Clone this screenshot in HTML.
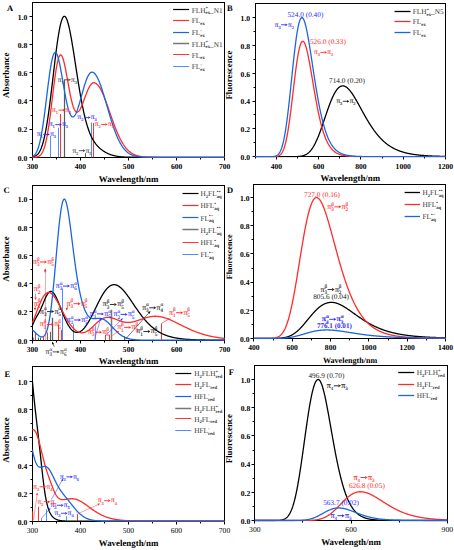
<!DOCTYPE html>
<html><head><meta charset="utf-8"><style>
html,body{margin:0;padding:0;background:#fff;}
svg{display:block;}
text{font-family:"Liberation Serif", serif;text-rendering:geometricPrecision;}
</style></head><body>
<svg width="454" height="550" viewBox="0 0 454 550">
<rect width="454" height="550" fill="#fff"/>
<clipPath id="c0"><rect x="32" y="2" width="193" height="156.5"/></clipPath>
<text x="32.4" y="168.9" font-size="7.6" fill="#000" font-weight="bold" text-anchor="middle">300</text>
<text x="80.47" y="168.9" font-size="7.6" fill="#000" font-weight="bold" text-anchor="middle">400</text>
<text x="128.55" y="168.9" font-size="7.6" fill="#000" font-weight="bold" text-anchor="middle">500</text>
<text x="176.62" y="168.9" font-size="7.6" fill="#000" font-weight="bold" text-anchor="middle">600</text>
<text x="224.7" y="168.9" font-size="7.6" fill="#000" font-weight="bold" text-anchor="middle">700</text>
<text x="27.2" y="160.68" font-size="7.6" fill="#000" font-weight="bold" text-anchor="end">0.0</text>
<text x="27.2" y="132.48" font-size="7.6" fill="#000" font-weight="bold" text-anchor="end">0.2</text>
<text x="27.2" y="104.28" font-size="7.6" fill="#000" font-weight="bold" text-anchor="end">0.4</text>
<text x="27.2" y="76.08" font-size="7.6" fill="#000" font-weight="bold" text-anchor="end">0.6</text>
<text x="27.2" y="47.88" font-size="7.6" fill="#000" font-weight="bold" text-anchor="end">0.8</text>
<text x="27.2" y="19.68" font-size="7.6" fill="#000" font-weight="bold" text-anchor="end">1.0</text>
<rect x="32.5" y="2.5" width="192" height="155" fill="none" stroke="#000" stroke-width="1"/>
<line x1="32.5" y1="157.5" x2="32.5" y2="160.5" stroke="#000" stroke-width="1"/>
<line x1="80.5" y1="157.5" x2="80.5" y2="160.5" stroke="#000" stroke-width="1"/>
<line x1="128.5" y1="157.5" x2="128.5" y2="160.5" stroke="#000" stroke-width="1"/>
<line x1="176.5" y1="157.5" x2="176.5" y2="160.5" stroke="#000" stroke-width="1"/>
<line x1="224.5" y1="157.5" x2="224.5" y2="160.5" stroke="#000" stroke-width="1"/>
<line x1="56.5" y1="157.5" x2="56.5" y2="159.5" stroke="#000" stroke-width="1"/>
<line x1="104.5" y1="157.5" x2="104.5" y2="159.5" stroke="#000" stroke-width="1"/>
<line x1="152.5" y1="157.5" x2="152.5" y2="159.5" stroke="#000" stroke-width="1"/>
<line x1="200.5" y1="157.5" x2="200.5" y2="159.5" stroke="#000" stroke-width="1"/>
<line x1="29.5" y1="157.5" x2="32.5" y2="157.5" stroke="#000" stroke-width="1"/>
<line x1="29.5" y1="129.5" x2="32.5" y2="129.5" stroke="#000" stroke-width="1"/>
<line x1="29.5" y1="100.5" x2="32.5" y2="100.5" stroke="#000" stroke-width="1"/>
<line x1="29.5" y1="72.5" x2="32.5" y2="72.5" stroke="#000" stroke-width="1"/>
<line x1="29.5" y1="44.5" x2="32.5" y2="44.5" stroke="#000" stroke-width="1"/>
<line x1="29.5" y1="16.5" x2="32.5" y2="16.5" stroke="#000" stroke-width="1"/>
<line x1="30.5" y1="143.5" x2="32.5" y2="143.5" stroke="#000" stroke-width="1"/>
<line x1="30.5" y1="115.5" x2="32.5" y2="115.5" stroke="#000" stroke-width="1"/>
<line x1="30.5" y1="86.5" x2="32.5" y2="86.5" stroke="#000" stroke-width="1"/>
<line x1="30.5" y1="58.5" x2="32.5" y2="58.5" stroke="#000" stroke-width="1"/>
<line x1="30.5" y1="30.5" x2="32.5" y2="30.5" stroke="#000" stroke-width="1"/>
<line x1="64.5" y1="157.3" x2="64.5" y2="79.75" stroke="#5a5a5a" stroke-width="1.2" clip-path="url(#c0)"/>
<line x1="85.5" y1="157.3" x2="85.5" y2="153.21" stroke="#5a5a5a" stroke-width="1" clip-path="url(#c0)"/>
<line x1="60.5" y1="157.3" x2="60.5" y2="114.01" stroke="#ff3333" stroke-width="1" clip-path="url(#c0)"/>
<line x1="93.5" y1="157.3" x2="93.5" y2="123.04" stroke="#ff3333" stroke-width="1" clip-path="url(#c0)"/>
<line x1="50.5" y1="157.3" x2="50.5" y2="136.01" stroke="#4a90ff" stroke-width="1" clip-path="url(#c0)"/>
<line x1="58.5" y1="157.3" x2="58.5" y2="127.69" stroke="#4a90ff" stroke-width="1" clip-path="url(#c0)"/>
<line x1="91.5" y1="157.3" x2="91.5" y2="122.47" stroke="#4a90ff" stroke-width="1" clip-path="url(#c0)"/>
<polyline points="32.4,156.9 32.73,156.83 33.07,156.76 33.4,156.68 33.73,156.59 34.07,156.48 34.4,156.36 34.73,156.23 35.07,156.08 35.4,155.91 35.73,155.72 36.07,155.52 36.4,155.29 36.73,155.03 37.07,154.75 37.4,154.44 37.73,154.1 38.07,153.72 38.4,153.31 38.73,152.87 39.07,152.38 39.4,151.85 39.73,151.28 40.07,150.65 40.4,149.98 40.73,149.26 41.07,148.48 41.4,147.65 41.73,146.75 42.06,145.8 42.4,144.78 42.73,143.7 43.06,142.55 43.4,141.33 43.73,140.04 44.06,138.67 44.4,137.24 44.73,135.73 45.06,134.14 45.4,132.48 45.73,130.75 46.06,128.94 46.4,127.05 46.73,125.09 47.06,123.06 47.4,120.95 47.73,118.78 48.06,116.53 48.4,114.22 48.73,111.84 49.06,109.41 49.4,106.91 49.73,104.36 50.06,101.76 50.4,99.12 50.73,96.43 51.06,93.7 51.4,90.94 51.73,88.16 52.06,85.35 52.4,82.52 52.73,79.68 53.06,76.84 53.4,74 53.73,71.16 54.06,68.34 54.4,65.54 54.73,62.76 55.06,60.01 55.4,57.3 55.73,54.63 56.06,52.02 56.4,49.46 56.73,46.96 57.06,44.52 57.4,42.16 57.73,39.88 58.06,37.68 58.4,35.57 58.73,33.55 59.06,31.63 59.4,29.81 59.73,28.09 60.06,26.48 60.4,24.98 60.73,23.6 61.06,22.33 61.39,21.18 61.73,20.14 62.06,19.23 62.39,18.45 62.73,17.78 63.06,17.24 63.39,16.82 63.73,16.52 64.06,16.35 64.39,16.3 64.73,16.37 65.06,16.55 65.39,16.86 65.73,17.28 66.06,17.81 66.39,18.45 66.73,19.2 67.06,20.05 67.39,21 67.73,22.05 68.06,23.2 68.39,24.43 68.73,25.75 69.06,27.15 69.39,28.63 69.73,30.19 70.06,31.81 70.39,33.51 70.73,35.26 71.06,37.07 71.39,38.93 71.73,40.84 72.06,42.8 72.39,44.79 72.73,46.82 73.06,48.88 73.39,50.97 73.73,53.09 74.06,55.22 74.39,57.37 74.73,59.53 75.06,61.7 75.39,63.87 75.73,66.05 76.06,68.22 76.39,70.39 76.73,72.55 77.06,74.7 77.39,76.83 77.73,78.95 78.06,81.05 78.39,83.13 78.73,85.18 79.06,87.21 79.39,89.21 79.73,91.18 80.06,93.12 80.39,95.03 80.72,96.9 81.06,98.74 81.39,100.54 81.72,102.31 82.06,104.04 82.39,105.72 82.72,107.37 83.06,108.98 83.39,110.55 83.72,112.08 84.06,113.57 84.39,115.01 84.72,116.42 85.06,117.78 85.39,119.11 85.72,120.39 86.06,121.64 86.39,122.85 86.72,124.01 87.06,125.14 87.39,126.23 87.72,127.29 88.06,128.31 88.39,129.29 88.72,130.24 89.06,131.16 89.39,132.04 89.72,132.89 90.06,133.71 90.39,134.5 90.72,135.27 91.06,136 91.39,136.71 91.72,137.39 92.06,138.04 92.39,138.67 92.72,139.28 93.06,139.87 93.39,140.43 93.72,140.98 94.06,141.5 94.39,142.01 94.72,142.5 95.06,142.97 95.39,143.42 95.72,143.86 96.06,144.29 96.39,144.7 96.72,145.09 97.06,145.48 97.39,145.85 97.72,146.21 98.06,146.56 98.39,146.9 98.72,147.23 99.06,147.55 99.39,147.86 99.72,148.16 100.05,148.45 100.39,148.73 100.72,149.01 101.05,149.28 101.39,149.54 101.72,149.8 102.05,150.05 102.39,150.29 102.72,150.53 103.05,150.76 103.39,150.98 103.72,151.2 104.05,151.42 104.39,151.62 104.72,151.83 105.05,152.02 105.39,152.22 105.72,152.4 106.05,152.59 106.39,152.76 106.72,152.94 107.05,153.1 107.39,153.27 107.72,153.43 108.05,153.58 108.39,153.73 108.72,153.88 109.05,154.02 109.39,154.15 109.72,154.29 110.05,154.42 110.39,154.54 110.72,154.66 111.05,154.78 111.39,154.89 111.72,155 112.05,155.1 112.39,155.2 112.72,155.3 113.05,155.4 113.39,155.49 113.72,155.57 114.05,155.66 114.39,155.74 114.72,155.82 115.05,155.89 115.39,155.96 115.72,156.03 116.05,156.1 116.39,156.16 116.72,156.22 117.05,156.28 117.39,156.33 117.72,156.38 118.05,156.43 118.39,156.48 118.72,156.53 119.05,156.57 119.38,156.61 119.72,156.65 120.05,156.69 120.38,156.72 120.72,156.76 121.05,156.79 121.38,156.82 121.72,156.85 122.05,156.87 122.38,156.9 122.72,156.92 123.05,156.95 123.38,156.97 123.72,156.99 124.05,157.01 124.38,157.03 124.72,157.04 125.05,157.06 125.38,157.08 125.72,157.09 126.05,157.1 126.38,157.12 126.72,157.13 127.05,157.14 127.38,157.15 127.72,157.16 128.05,157.17 128.38,157.18 128.72,157.19 129.05,157.19 129.38,157.2 129.72,157.21 130.05,157.21 130.38,157.22 130.72,157.23 131.05,157.23 131.38,157.24 131.72,157.24 132.05,157.24 132.38,157.25 132.72,157.25 133.05,157.26 133.38,157.26 133.72,157.26 134.05,157.26 134.38,157.27 134.72,157.27 135.05,157.27 135.38,157.27 135.72,157.28 136.05,157.28 136.38,157.28 136.72,157.28 137.05,157.28 137.38,157.28 137.72,157.28 138.05,157.29 138.38,157.29 138.71,157.29 139.05,157.29 139.38,157.29 139.71,157.29 140.05,157.29 140.38,157.29 140.71,157.29 141.05,157.29 141.38,157.29 141.71,157.29 142.05,157.29 142.38,157.29 142.71,157.3 143.05,157.3 143.38,157.3 143.71,157.3 144.05,157.3 144.38,157.3 144.71,157.3 145.05,157.3 145.38,157.3 145.71,157.3 146.05,157.3 146.38,157.3 146.71,157.3 147.05,157.3 147.38,157.3 147.71,157.3 148.05,157.3 148.38,157.3 148.71,157.3 149.05,157.3 149.38,157.3 149.71,157.3 150.05,157.3 150.38,157.3 150.71,157.3 151.05,157.3 151.38,157.3 151.71,157.3 152.05,157.3 152.38,157.3 152.71,157.3 153.05,157.3 153.38,157.3 153.71,157.3 154.05,157.3 154.38,157.3 154.71,157.3 155.05,157.3 155.38,157.3 155.71,157.3 156.05,157.3 156.38,157.3 156.71,157.3 157.05,157.3 157.38,157.3 157.71,157.3 158.04,157.3 158.38,157.3 158.71,157.3 159.04,157.3 159.38,157.3 159.71,157.3 160.04,157.3 160.38,157.3 160.71,157.3 161.04,157.3 161.38,157.3 161.71,157.3 162.04,157.3 162.38,157.3 162.71,157.3 163.04,157.3 163.38,157.3 163.71,157.3 164.04,157.3 164.38,157.3 164.71,157.3 165.04,157.3 165.38,157.3 165.71,157.3 166.04,157.3 166.38,157.3 166.71,157.3 167.04,157.3 167.38,157.3 167.71,157.3 168.04,157.3 168.38,157.3 168.71,157.3 169.04,157.3 169.38,157.3 169.71,157.3 170.04,157.3 170.38,157.3 170.71,157.3 171.04,157.3 171.38,157.3 171.71,157.3 172.04,157.3 172.38,157.3 172.71,157.3 173.04,157.3 173.38,157.3 173.71,157.3 174.04,157.3 174.38,157.3 174.71,157.3 175.04,157.3 175.38,157.3 175.71,157.3 176.04,157.3 176.38,157.3 176.71,157.3 177.04,157.3 177.37,157.3 177.71,157.3 178.04,157.3 178.37,157.3 178.71,157.3 179.04,157.3 179.37,157.3 179.71,157.3 180.04,157.3 180.37,157.3 180.71,157.3 181.04,157.3 181.37,157.3 181.71,157.3 182.04,157.3 182.37,157.3 182.71,157.3 183.04,157.3 183.37,157.3 183.71,157.3 184.04,157.3 184.37,157.3 184.71,157.3 185.04,157.3 185.37,157.3 185.71,157.3 186.04,157.3 186.37,157.3 186.71,157.3 187.04,157.3 187.37,157.3 187.71,157.3 188.04,157.3 188.37,157.3 188.71,157.3 189.04,157.3 189.37,157.3 189.71,157.3 190.04,157.3 190.37,157.3 190.71,157.3 191.04,157.3 191.37,157.3 191.71,157.3 192.04,157.3 192.37,157.3 192.71,157.3 193.04,157.3 193.37,157.3 193.71,157.3 194.04,157.3 194.37,157.3 194.71,157.3 195.04,157.3 195.37,157.3 195.71,157.3 196.04,157.3 196.37,157.3 196.7,157.3 197.04,157.3 197.37,157.3 197.7,157.3 198.04,157.3 198.37,157.3 198.7,157.3 199.04,157.3 199.37,157.3 199.7,157.3 200.04,157.3 200.37,157.3 200.7,157.3 201.04,157.3 201.37,157.3 201.7,157.3 202.04,157.3 202.37,157.3 202.7,157.3 203.04,157.3 203.37,157.3 203.7,157.3 204.04,157.3 204.37,157.3 204.7,157.3 205.04,157.3 205.37,157.3 205.7,157.3 206.04,157.3 206.37,157.3 206.7,157.3 207.04,157.3 207.37,157.3 207.7,157.3 208.04,157.3 208.37,157.3 208.7,157.3 209.04,157.3 209.37,157.3 209.7,157.3 210.04,157.3 210.37,157.3 210.7,157.3 211.04,157.3 211.37,157.3 211.7,157.3 212.04,157.3 212.37,157.3 212.7,157.3 213.04,157.3 213.37,157.3 213.7,157.3 214.04,157.3 214.37,157.3 214.7,157.3 215.04,157.3 215.37,157.3 215.7,157.3 216.03,157.3 216.37,157.3 216.7,157.3 217.03,157.3 217.37,157.3 217.7,157.3 218.03,157.3 218.37,157.3 218.7,157.3 219.03,157.3 219.37,157.3 219.7,157.3 220.03,157.3 220.37,157.3 220.7,157.3 221.03,157.3 221.37,157.3 221.7,157.3 222.03,157.3 222.37,157.3 222.7,157.3 223.03,157.3 223.37,157.3 223.7,157.3 224.03,157.3 224.37,157.3 224.7,157.3" fill="none" stroke="#000" stroke-width="1.3" stroke-linejoin="round" clip-path="url(#c0)"/>
<polyline points="32.4,157.28 32.73,157.27 33.07,157.26 33.4,157.25 33.73,157.24 34.07,157.22 34.4,157.21 34.73,157.18 35.07,157.16 35.4,157.13 35.73,157.09 36.07,157.04 36.4,156.99 36.73,156.93 37.07,156.85 37.4,156.77 37.73,156.67 38.07,156.55 38.4,156.42 38.73,156.26 39.07,156.08 39.4,155.88 39.73,155.64 40.07,155.38 40.4,155.08 40.73,154.74 41.07,154.36 41.4,153.94 41.73,153.46 42.06,152.93 42.4,152.35 42.73,151.7 43.06,150.99 43.4,150.21 43.73,149.35 44.06,148.42 44.4,147.41 44.73,146.32 45.06,145.14 45.4,143.87 45.73,142.51 46.06,141.06 46.4,139.51 46.73,137.87 47.06,136.13 47.4,134.3 47.73,132.37 48.06,130.35 48.4,128.24 48.73,126.04 49.06,123.76 49.4,121.4 49.73,118.97 50.06,116.46 50.4,113.9 50.73,111.29 51.06,108.63 51.4,105.93 51.73,103.21 52.06,100.46 52.4,97.71 52.73,94.97 53.06,92.23 53.4,89.52 53.73,86.84 54.06,84.21 54.4,81.63 54.73,79.12 55.06,76.69 55.4,74.35 55.73,72.1 56.06,69.96 56.4,67.94 56.73,66.04 57.06,64.27 57.4,62.64 57.73,61.16 58.06,59.83 58.4,58.65 58.73,57.62 59.06,56.76 59.4,56.07 59.73,55.53 60.06,55.16 60.4,54.95 60.73,54.9 61.06,55.01 61.39,55.28 61.73,55.7 62.06,56.26 62.39,56.96 62.73,57.8 63.06,58.76 63.39,59.85 63.73,61.05 64.06,62.35 64.39,63.75 64.73,65.23 65.06,66.8 65.39,68.43 65.73,70.13 66.06,71.87 66.39,73.66 66.73,75.48 67.06,77.32 67.39,79.18 67.73,81.04 68.06,82.91 68.39,84.76 68.73,86.59 69.06,88.4 69.39,90.18 69.73,91.92 70.06,93.61 70.39,95.25 70.73,96.83 71.06,98.35 71.39,99.8 71.73,101.19 72.06,102.5 72.39,103.73 72.73,104.88 73.06,105.95 73.39,106.94 73.73,107.84 74.06,108.65 74.39,109.38 74.73,110.02 75.06,110.57 75.39,111.04 75.73,111.41 76.06,111.71 76.39,111.92 76.73,112.04 77.06,112.09 77.39,112.06 77.73,111.95 78.06,111.78 78.39,111.53 78.73,111.21 79.06,110.83 79.39,110.39 79.73,109.89 80.06,109.34 80.39,108.74 80.72,108.09 81.06,107.4 81.39,106.67 81.72,105.91 82.06,105.11 82.39,104.29 82.72,103.44 83.06,102.57 83.39,101.69 83.72,100.8 84.06,99.89 84.39,98.98 84.72,98.07 85.06,97.16 85.39,96.26 85.72,95.36 86.06,94.48 86.39,93.61 86.72,92.75 87.06,91.92 87.39,91.11 87.72,90.33 88.06,89.57 88.39,88.85 88.72,88.16 89.06,87.5 89.39,86.88 89.72,86.29 90.06,85.75 90.39,85.25 90.72,84.78 91.06,84.37 91.39,83.99 91.72,83.67 92.06,83.39 92.39,83.15 92.72,82.96 93.06,82.82 93.39,82.73 93.72,82.68 94.06,82.69 94.39,82.73 94.72,82.8 95.06,82.91 95.39,83.05 95.72,83.21 96.06,83.41 96.39,83.65 96.72,83.91 97.06,84.2 97.39,84.53 97.72,84.88 98.06,85.27 98.39,85.68 98.72,86.12 99.06,86.6 99.39,87.1 99.72,87.63 100.05,88.18 100.39,88.76 100.72,89.37 101.05,90 101.39,90.66 101.72,91.34 102.05,92.04 102.39,92.76 102.72,93.51 103.05,94.27 103.39,95.06 103.72,95.86 104.05,96.68 104.39,97.51 104.72,98.36 105.05,99.23 105.39,100.1 105.72,100.99 106.05,101.89 106.39,102.81 106.72,103.73 107.05,104.65 107.39,105.59 107.72,106.53 108.05,107.48 108.39,108.44 108.72,109.39 109.05,110.35 109.39,111.31 109.72,112.27 110.05,113.23 110.39,114.19 110.72,115.15 111.05,116.11 111.39,117.06 111.72,118.01 112.05,118.95 112.39,119.89 112.72,120.82 113.05,121.75 113.39,122.67 113.72,123.57 114.05,124.47 114.39,125.36 114.72,126.24 115.05,127.11 115.39,127.97 115.72,128.82 116.05,129.66 116.39,130.48 116.72,131.29 117.05,132.09 117.39,132.87 117.72,133.64 118.05,134.4 118.39,135.14 118.72,135.87 119.05,136.58 119.38,137.28 119.72,137.96 120.05,138.63 120.38,139.29 120.72,139.93 121.05,140.55 121.38,141.16 121.72,141.75 122.05,142.33 122.38,142.9 122.72,143.45 123.05,143.98 123.38,144.5 123.72,145.01 124.05,145.5 124.38,145.97 124.72,146.43 125.05,146.88 125.38,147.31 125.72,147.73 126.05,148.14 126.38,148.53 126.72,148.91 127.05,149.28 127.38,149.64 127.72,149.98 128.05,150.31 128.38,150.63 128.72,150.93 129.05,151.23 129.38,151.51 129.72,151.79 130.05,152.05 130.38,152.3 130.72,152.55 131.05,152.78 131.38,153 131.72,153.22 132.05,153.42 132.38,153.62 132.72,153.81 133.05,153.99 133.38,154.16 133.72,154.32 134.05,154.48 134.38,154.63 134.72,154.78 135.05,154.91 135.38,155.04 135.72,155.17 136.05,155.28 136.38,155.4 136.72,155.5 137.05,155.61 137.38,155.7 137.72,155.8 138.05,155.88 138.38,155.97 138.71,156.04 139.05,156.12 139.38,156.19 139.71,156.26 140.05,156.32 140.38,156.38 140.71,156.44 141.05,156.49 141.38,156.54 141.71,156.59 142.05,156.63 142.38,156.68 142.71,156.72 143.05,156.75 143.38,156.79 143.71,156.82 144.05,156.85 144.38,156.88 144.71,156.91 145.05,156.94 145.38,156.96 145.71,156.98 146.05,157.01 146.38,157.03 146.71,157.04 147.05,157.06 147.38,157.08 147.71,157.09 148.05,157.11 148.38,157.12 148.71,157.14 149.05,157.15 149.38,157.16 149.71,157.17 150.05,157.18 150.38,157.19 150.71,157.2 151.05,157.2 151.38,157.21 151.71,157.22 152.05,157.22 152.38,157.23 152.71,157.23 153.05,157.24 153.38,157.24 153.71,157.25 154.05,157.25 154.38,157.26 154.71,157.26 155.05,157.26 155.38,157.27 155.71,157.27 156.05,157.27 156.38,157.27 156.71,157.28 157.05,157.28 157.38,157.28 157.71,157.28 158.04,157.28 158.38,157.28 158.71,157.29 159.04,157.29 159.38,157.29 159.71,157.29 160.04,157.29 160.38,157.29 160.71,157.29 161.04,157.29 161.38,157.29 161.71,157.29 162.04,157.29 162.38,157.29 162.71,157.3 163.04,157.3 163.38,157.3 163.71,157.3 164.04,157.3 164.38,157.3 164.71,157.3 165.04,157.3 165.38,157.3 165.71,157.3 166.04,157.3 166.38,157.3 166.71,157.3 167.04,157.3 167.38,157.3 167.71,157.3 168.04,157.3 168.38,157.3 168.71,157.3 169.04,157.3 169.38,157.3 169.71,157.3 170.04,157.3 170.38,157.3 170.71,157.3 171.04,157.3 171.38,157.3 171.71,157.3 172.04,157.3 172.38,157.3 172.71,157.3 173.04,157.3 173.38,157.3 173.71,157.3 174.04,157.3 174.38,157.3 174.71,157.3 175.04,157.3 175.38,157.3 175.71,157.3 176.04,157.3 176.38,157.3 176.71,157.3 177.04,157.3 177.37,157.3 177.71,157.3 178.04,157.3 178.37,157.3 178.71,157.3 179.04,157.3 179.37,157.3 179.71,157.3 180.04,157.3 180.37,157.3 180.71,157.3 181.04,157.3 181.37,157.3 181.71,157.3 182.04,157.3 182.37,157.3 182.71,157.3 183.04,157.3 183.37,157.3 183.71,157.3 184.04,157.3 184.37,157.3 184.71,157.3 185.04,157.3 185.37,157.3 185.71,157.3 186.04,157.3 186.37,157.3 186.71,157.3 187.04,157.3 187.37,157.3 187.71,157.3 188.04,157.3 188.37,157.3 188.71,157.3 189.04,157.3 189.37,157.3 189.71,157.3 190.04,157.3 190.37,157.3 190.71,157.3 191.04,157.3 191.37,157.3 191.71,157.3 192.04,157.3 192.37,157.3 192.71,157.3 193.04,157.3 193.37,157.3 193.71,157.3 194.04,157.3 194.37,157.3 194.71,157.3 195.04,157.3 195.37,157.3 195.71,157.3 196.04,157.3 196.37,157.3 196.7,157.3 197.04,157.3 197.37,157.3 197.7,157.3 198.04,157.3 198.37,157.3 198.7,157.3 199.04,157.3 199.37,157.3 199.7,157.3 200.04,157.3 200.37,157.3 200.7,157.3 201.04,157.3 201.37,157.3 201.7,157.3 202.04,157.3 202.37,157.3 202.7,157.3 203.04,157.3 203.37,157.3 203.7,157.3 204.04,157.3 204.37,157.3 204.7,157.3 205.04,157.3 205.37,157.3 205.7,157.3 206.04,157.3 206.37,157.3 206.7,157.3 207.04,157.3 207.37,157.3 207.7,157.3 208.04,157.3 208.37,157.3 208.7,157.3 209.04,157.3 209.37,157.3 209.7,157.3 210.04,157.3 210.37,157.3 210.7,157.3 211.04,157.3 211.37,157.3 211.7,157.3 212.04,157.3 212.37,157.3 212.7,157.3 213.04,157.3 213.37,157.3 213.7,157.3 214.04,157.3 214.37,157.3 214.7,157.3 215.04,157.3 215.37,157.3 215.7,157.3 216.03,157.3 216.37,157.3 216.7,157.3 217.03,157.3 217.37,157.3 217.7,157.3 218.03,157.3 218.37,157.3 218.7,157.3 219.03,157.3 219.37,157.3 219.7,157.3 220.03,157.3 220.37,157.3 220.7,157.3 221.03,157.3 221.37,157.3 221.7,157.3 222.03,157.3 222.37,157.3 222.7,157.3 223.03,157.3 223.37,157.3 223.7,157.3 224.03,157.3 224.37,157.3 224.7,157.3" fill="none" stroke="#ff2a2a" stroke-width="1.3" stroke-linejoin="round" clip-path="url(#c0)"/>
<polyline points="32.4,156.34 32.73,156.18 33.07,156 33.4,155.78 33.73,155.54 34.07,155.27 34.4,154.97 34.73,154.62 35.07,154.24 35.4,153.81 35.73,153.33 36.07,152.8 36.4,152.22 36.73,151.58 37.07,150.87 37.4,150.1 37.73,149.26 38.07,148.34 38.4,147.35 38.73,146.28 39.07,145.13 39.4,143.89 39.73,142.57 40.07,141.15 40.4,139.65 40.73,138.06 41.07,136.37 41.4,134.59 41.73,132.73 42.06,130.77 42.4,128.73 42.73,126.6 43.06,124.39 43.4,122.11 43.73,119.75 44.06,117.32 44.4,114.83 44.73,112.28 45.06,109.69 45.4,107.05 45.73,104.38 46.06,101.69 46.4,98.98 46.73,96.26 47.06,93.55 47.4,90.84 47.73,88.16 48.06,85.52 48.4,82.91 48.73,80.35 49.06,77.86 49.4,75.44 49.73,73.1 50.06,70.85 50.4,68.69 50.73,66.65 51.06,64.72 51.4,62.91 51.73,61.23 52.06,59.68 52.4,58.28 52.73,57.02 53.06,55.9 53.4,54.94 53.73,54.13 54.06,53.48 54.4,52.98 54.73,52.64 55.06,52.46 55.4,52.43 55.73,52.55 56.06,52.82 56.4,53.23 56.73,53.79 57.06,54.49 57.4,55.31 57.73,56.26 58.06,57.34 58.4,58.52 58.73,59.81 59.06,61.2 59.4,62.68 59.73,64.25 60.06,65.89 60.4,67.6 60.73,69.37 61.06,71.19 61.39,73.05 61.73,74.94 62.06,76.87 62.39,78.81 62.73,80.76 63.06,82.72 63.39,84.67 63.73,86.62 64.06,88.54 64.39,90.44 64.73,92.3 65.06,94.13 65.39,95.92 65.73,97.66 66.06,99.34 66.39,100.96 66.73,102.53 67.06,104.02 67.39,105.45 67.73,106.79 68.06,108.07 68.39,109.26 68.73,110.37 69.06,111.4 69.39,112.34 69.73,113.19 70.06,113.96 70.39,114.63 70.73,115.22 71.06,115.72 71.39,116.13 71.73,116.45 72.06,116.68 72.39,116.82 72.73,116.88 73.06,116.86 73.39,116.75 73.73,116.56 74.06,116.29 74.39,115.95 74.73,115.53 75.06,115.04 75.39,114.48 75.73,113.85 76.06,113.17 76.39,112.42 76.73,111.61 77.06,110.76 77.39,109.85 77.73,108.89 78.06,107.9 78.39,106.86 78.73,105.79 79.06,104.69 79.39,103.56 79.73,102.4 80.06,101.23 80.39,100.04 80.72,98.83 81.06,97.62 81.39,96.4 81.72,95.18 82.06,93.97 82.39,92.75 82.72,91.55 83.06,90.36 83.39,89.18 83.72,88.03 84.06,86.89 84.39,85.79 84.72,84.7 85.06,83.65 85.39,82.64 85.72,81.66 86.06,80.71 86.39,79.81 86.72,78.95 87.06,78.14 87.39,77.37 87.72,76.65 88.06,75.98 88.39,75.37 88.72,74.8 89.06,74.29 89.39,73.83 89.72,73.43 90.06,73.08 90.39,72.79 90.72,72.55 91.06,72.38 91.39,72.26 91.72,72.19 92.06,72.18 92.39,72.22 92.72,72.31 93.06,72.43 93.39,72.59 93.72,72.8 94.06,73.04 94.39,73.32 94.72,73.65 95.06,74.01 95.39,74.42 95.72,74.86 96.06,75.34 96.39,75.85 96.72,76.41 97.06,77 97.39,77.62 97.72,78.28 98.06,78.97 98.39,79.69 98.72,80.45 99.06,81.24 99.39,82.05 99.72,82.9 100.05,83.77 100.39,84.66 100.72,85.59 101.05,86.53 101.39,87.5 101.72,88.49 102.05,89.5 102.39,90.52 102.72,91.57 103.05,92.63 103.39,93.7 103.72,94.79 104.05,95.89 104.39,97 104.72,98.12 105.05,99.25 105.39,100.38 105.72,101.53 106.05,102.67 106.39,103.82 106.72,104.97 107.05,106.12 107.39,107.27 107.72,108.42 108.05,109.57 108.39,110.71 108.72,111.85 109.05,112.99 109.39,114.11 109.72,115.23 110.05,116.34 110.39,117.44 110.72,118.53 111.05,119.61 111.39,120.68 111.72,121.74 112.05,122.78 112.39,123.81 112.72,124.82 113.05,125.82 113.39,126.81 113.72,127.77 114.05,128.72 114.39,129.66 114.72,130.58 115.05,131.48 115.39,132.36 115.72,133.22 116.05,134.07 116.39,134.89 116.72,135.7 117.05,136.49 117.39,137.26 117.72,138.02 118.05,138.75 118.39,139.46 118.72,140.16 119.05,140.83 119.38,141.49 119.72,142.13 120.05,142.75 120.38,143.35 120.72,143.94 121.05,144.5 121.38,145.05 121.72,145.58 122.05,146.09 122.38,146.59 122.72,147.07 123.05,147.53 123.38,147.98 123.72,148.41 124.05,148.82 124.38,149.22 124.72,149.61 125.05,149.97 125.38,150.33 125.72,150.67 126.05,151 126.38,151.31 126.72,151.62 127.05,151.91 127.38,152.18 127.72,152.45 128.05,152.7 128.38,152.95 128.72,153.18 129.05,153.4 129.38,153.61 129.72,153.81 130.05,154 130.38,154.19 130.72,154.36 131.05,154.53 131.38,154.69 131.72,154.84 132.05,154.98 132.38,155.12 132.72,155.24 133.05,155.37 133.38,155.48 133.72,155.59 134.05,155.7 134.38,155.79 134.72,155.89 135.05,155.98 135.38,156.06 135.72,156.14 136.05,156.21 136.38,156.28 136.72,156.35 137.05,156.41 137.38,156.47 137.72,156.52 138.05,156.57 138.38,156.62 138.71,156.67 139.05,156.71 139.38,156.75 139.71,156.79 140.05,156.82 140.38,156.86 140.71,156.89 141.05,156.92 141.38,156.94 141.71,156.97 142.05,156.99 142.38,157.02 142.71,157.04 143.05,157.06 143.38,157.07 143.71,157.09 144.05,157.11 144.38,157.12 144.71,157.13 145.05,157.15 145.38,157.16 145.71,157.17 146.05,157.18 146.38,157.19 146.71,157.2 147.05,157.21 147.38,157.21 147.71,157.22 148.05,157.23 148.38,157.23 148.71,157.24 149.05,157.24 149.38,157.25 149.71,157.25 150.05,157.26 150.38,157.26 150.71,157.26 151.05,157.27 151.38,157.27 151.71,157.27 152.05,157.27 152.38,157.28 152.71,157.28 153.05,157.28 153.38,157.28 153.71,157.28 154.05,157.29 154.38,157.29 154.71,157.29 155.05,157.29 155.38,157.29 155.71,157.29 156.05,157.29 156.38,157.29 156.71,157.29 157.05,157.29 157.38,157.29 157.71,157.29 158.04,157.3 158.38,157.3 158.71,157.3 159.04,157.3 159.38,157.3 159.71,157.3 160.04,157.3 160.38,157.3 160.71,157.3 161.04,157.3 161.38,157.3 161.71,157.3 162.04,157.3 162.38,157.3 162.71,157.3 163.04,157.3 163.38,157.3 163.71,157.3 164.04,157.3 164.38,157.3 164.71,157.3 165.04,157.3 165.38,157.3 165.71,157.3 166.04,157.3 166.38,157.3 166.71,157.3 167.04,157.3 167.38,157.3 167.71,157.3 168.04,157.3 168.38,157.3 168.71,157.3 169.04,157.3 169.38,157.3 169.71,157.3 170.04,157.3 170.38,157.3 170.71,157.3 171.04,157.3 171.38,157.3 171.71,157.3 172.04,157.3 172.38,157.3 172.71,157.3 173.04,157.3 173.38,157.3 173.71,157.3 174.04,157.3 174.38,157.3 174.71,157.3 175.04,157.3 175.38,157.3 175.71,157.3 176.04,157.3 176.38,157.3 176.71,157.3 177.04,157.3 177.37,157.3 177.71,157.3 178.04,157.3 178.37,157.3 178.71,157.3 179.04,157.3 179.37,157.3 179.71,157.3 180.04,157.3 180.37,157.3 180.71,157.3 181.04,157.3 181.37,157.3 181.71,157.3 182.04,157.3 182.37,157.3 182.71,157.3 183.04,157.3 183.37,157.3 183.71,157.3 184.04,157.3 184.37,157.3 184.71,157.3 185.04,157.3 185.37,157.3 185.71,157.3 186.04,157.3 186.37,157.3 186.71,157.3 187.04,157.3 187.37,157.3 187.71,157.3 188.04,157.3 188.37,157.3 188.71,157.3 189.04,157.3 189.37,157.3 189.71,157.3 190.04,157.3 190.37,157.3 190.71,157.3 191.04,157.3 191.37,157.3 191.71,157.3 192.04,157.3 192.37,157.3 192.71,157.3 193.04,157.3 193.37,157.3 193.71,157.3 194.04,157.3 194.37,157.3 194.71,157.3 195.04,157.3 195.37,157.3 195.71,157.3 196.04,157.3 196.37,157.3 196.7,157.3 197.04,157.3 197.37,157.3 197.7,157.3 198.04,157.3 198.37,157.3 198.7,157.3 199.04,157.3 199.37,157.3 199.7,157.3 200.04,157.3 200.37,157.3 200.7,157.3 201.04,157.3 201.37,157.3 201.7,157.3 202.04,157.3 202.37,157.3 202.7,157.3 203.04,157.3 203.37,157.3 203.7,157.3 204.04,157.3 204.37,157.3 204.7,157.3 205.04,157.3 205.37,157.3 205.7,157.3 206.04,157.3 206.37,157.3 206.7,157.3 207.04,157.3 207.37,157.3 207.7,157.3 208.04,157.3 208.37,157.3 208.7,157.3 209.04,157.3 209.37,157.3 209.7,157.3 210.04,157.3 210.37,157.3 210.7,157.3 211.04,157.3 211.37,157.3 211.7,157.3 212.04,157.3 212.37,157.3 212.7,157.3 213.04,157.3 213.37,157.3 213.7,157.3 214.04,157.3 214.37,157.3 214.7,157.3 215.04,157.3 215.37,157.3 215.7,157.3 216.03,157.3 216.37,157.3 216.7,157.3 217.03,157.3 217.37,157.3 217.7,157.3 218.03,157.3 218.37,157.3 218.7,157.3 219.03,157.3 219.37,157.3 219.7,157.3 220.03,157.3 220.37,157.3 220.7,157.3 221.03,157.3 221.37,157.3 221.7,157.3 222.03,157.3 222.37,157.3 222.7,157.3 223.03,157.3 223.37,157.3 223.7,157.3 224.03,157.3 224.37,157.3 224.7,157.3" fill="none" stroke="#1a66e0" stroke-width="1.3" stroke-linejoin="round" clip-path="url(#c0)"/>
<text x="57.8" y="81.6" font-size="7.3" fill="#444" stroke="#444" stroke-width="0.1">π</text>
<text x="61.49" y="83.64" font-size="4.53" fill="#444" stroke="#444" stroke-width="0.1">1</text>
<line x1="64.19" y1="79.77" x2="68.42" y2="79.77" stroke="#444" stroke-width="0.88"/>
<polygon points="70.76,79.77 68.42,81.16 68.42,78.39" fill="#444"/>
<text x="71.05" y="81.6" font-size="7.3" fill="#444" stroke="#444" stroke-width="0.1">π</text>
<text x="74.74" y="83.64" font-size="4.53" fill="#444" stroke="#444" stroke-width="0.1">3</text>
<text x="52.1" y="112" font-size="7.3" fill="#ff2b2b" stroke="#ff2b2b" stroke-width="0.1">π</text>
<text x="55.79" y="114.04" font-size="4.53" fill="#ff2b2b" stroke="#ff2b2b" stroke-width="0.1">1</text>
<line x1="58.49" y1="110.17" x2="62.72" y2="110.17" stroke="#ff2b2b" stroke-width="0.88"/>
<polygon points="65.06,110.17 62.72,111.56 62.72,108.79" fill="#ff2b2b"/>
<text x="65.35" y="112" font-size="7.3" fill="#ff2b2b" stroke="#ff2b2b" stroke-width="0.1">π</text>
<text x="69.04" y="114.04" font-size="4.53" fill="#ff2b2b" stroke="#ff2b2b" stroke-width="0.1">3</text>
<text x="48.9" y="126.4" font-size="7.3" fill="#2b2bff" stroke="#2b2bff" stroke-width="0.1">π</text>
<text x="52.59" y="128.44" font-size="4.53" fill="#2b2bff" stroke="#2b2bff" stroke-width="0.1">1</text>
<line x1="55.29" y1="124.58" x2="59.52" y2="124.58" stroke="#2b2bff" stroke-width="0.88"/>
<polygon points="61.86,124.58 59.52,125.96 59.52,123.19" fill="#2b2bff"/>
<text x="62.15" y="126.4" font-size="7.3" fill="#2b2bff" stroke="#2b2bff" stroke-width="0.1">π</text>
<text x="65.84" y="128.44" font-size="4.53" fill="#2b2bff" stroke="#2b2bff" stroke-width="0.1">3</text>
<text x="36.9" y="136.3" font-size="7.3" fill="#2b2bff" stroke="#2b2bff" stroke-width="0.1">π</text>
<text x="40.59" y="138.34" font-size="4.53" fill="#2b2bff" stroke="#2b2bff" stroke-width="0.1">1</text>
<line x1="43.29" y1="134.48" x2="47.52" y2="134.48" stroke="#2b2bff" stroke-width="0.88"/>
<polygon points="49.86,134.48 47.52,135.86 47.52,133.09" fill="#2b2bff"/>
<text x="50.15" y="136.3" font-size="7.3" fill="#2b2bff" stroke="#2b2bff" stroke-width="0.1">π</text>
<text x="53.84" y="138.34" font-size="4.53" fill="#2b2bff" stroke="#2b2bff" stroke-width="0.1">3</text>
<text x="77.6" y="119.4" font-size="7.3" fill="#2b2bff" stroke="#2b2bff" stroke-width="0.1">π</text>
<text x="81.29" y="121.44" font-size="4.53" fill="#2b2bff" stroke="#2b2bff" stroke-width="0.1">2</text>
<line x1="83.99" y1="117.58" x2="88.22" y2="117.58" stroke="#2b2bff" stroke-width="0.88"/>
<polygon points="90.56,117.58 88.22,118.96 88.22,116.19" fill="#2b2bff"/>
<text x="90.85" y="119.4" font-size="7.3" fill="#2b2bff" stroke="#2b2bff" stroke-width="0.1">π</text>
<text x="94.54" y="121.44" font-size="4.53" fill="#2b2bff" stroke="#2b2bff" stroke-width="0.1">3</text>
<text x="94.7" y="126.3" font-size="7.3" fill="#ff2b2b" stroke="#ff2b2b" stroke-width="0.1">π</text>
<text x="98.39" y="128.34" font-size="4.53" fill="#ff2b2b" stroke="#ff2b2b" stroke-width="0.1">2</text>
<line x1="101.09" y1="124.47" x2="105.32" y2="124.47" stroke="#ff2b2b" stroke-width="0.88"/>
<polygon points="107.66,124.47 105.32,125.86 105.32,123.09" fill="#ff2b2b"/>
<text x="107.95" y="126.3" font-size="7.3" fill="#ff2b2b" stroke="#ff2b2b" stroke-width="0.1">π</text>
<text x="111.64" y="128.34" font-size="4.53" fill="#ff2b2b" stroke="#ff2b2b" stroke-width="0.1">3</text>
<text x="72.4" y="152.5" font-size="7.3" fill="#444" stroke="#444" stroke-width="0.1">π</text>
<text x="76.09" y="154.54" font-size="4.53" fill="#444" stroke="#444" stroke-width="0.1">2</text>
<line x1="78.79" y1="150.68" x2="83.02" y2="150.68" stroke="#444" stroke-width="0.88"/>
<polygon points="85.36,150.68 83.02,152.06 83.02,149.29" fill="#444"/>
<text x="85.65" y="152.5" font-size="7.3" fill="#444" stroke="#444" stroke-width="0.1">π</text>
<text x="89.34" y="154.54" font-size="4.53" fill="#444" stroke="#444" stroke-width="0.1">3</text>
<line x1="173.1" y1="9.5" x2="189.1" y2="9.5" stroke="#000" stroke-width="1.2"/>
<text x="191.8" y="12.52" font-size="7.3" fill="#333">FLH</text>
<text x="205.59" y="14.34" font-size="4.67" fill="#333" font-weight="bold">ex</text>
<text x="205.59" y="9.23" font-size="4.67" fill="#333" font-weight="bold">+</text>
<text x="210" y="12.52" font-size="7.3" fill="#333">_N1</text>
<line x1="173.1" y1="20.5" x2="189.1" y2="20.5" stroke="#ff2a2a" stroke-width="1.2"/>
<text x="191.8" y="23.42" font-size="7.3" fill="#333">FL</text>
<text x="200.32" y="25.25" font-size="4.67" fill="#333" font-weight="bold">ex</text>
<line x1="173.1" y1="32.5" x2="189.1" y2="32.5" stroke="#1a66e0" stroke-width="1.2"/>
<text x="191.8" y="35.02" font-size="7.3" fill="#333">FL</text>
<text x="200.32" y="36.85" font-size="4.67" fill="#333" font-weight="bold">ex</text>
<text x="200.32" y="31.74" font-size="4.67" fill="#333" font-weight="bold">-</text>
<line x1="173.1" y1="43.5" x2="189.1" y2="43.5" stroke="#777" stroke-width="1.5"/>
<text x="191.8" y="46.62" font-size="7.3" fill="#333">FLH</text>
<text x="205.59" y="48.45" font-size="4.67" fill="#333" font-weight="bold">ex</text>
<text x="205.59" y="43.34" font-size="4.67" fill="#333" font-weight="bold">+</text>
<text x="210" y="46.62" font-size="7.3" fill="#333">_N1</text>
<line x1="173.1" y1="54.5" x2="189.1" y2="54.5" stroke="#ff3333" stroke-width="1"/>
<text x="191.8" y="57.52" font-size="7.3" fill="#333">FL</text>
<text x="200.32" y="59.35" font-size="4.67" fill="#333" font-weight="bold">ex</text>
<line x1="173.1" y1="66.5" x2="189.1" y2="66.5" stroke="#4a90ff" stroke-width="1"/>
<text x="191.8" y="68.92" font-size="7.3" fill="#333">FL</text>
<text x="200.32" y="70.75" font-size="4.67" fill="#333" font-weight="bold">ex</text>
<text x="200.32" y="65.64" font-size="4.67" fill="#333" font-weight="bold">-</text>
<text x="128.6" y="181.6" font-size="8.9" fill="#000" font-weight="bold" text-anchor="middle">Wavelength/nm</text>
<text x="9.4" y="75.2" font-size="8.9" fill="#000" font-weight="bold" text-anchor="middle" transform="rotate(-90 9.4 75.2)">Absorbance</text>
<text x="6.9" y="11.2" font-size="8.5" fill="#000" font-weight="bold">A</text>
<clipPath id="c1"><rect x="255" y="3" width="191" height="154.5"/></clipPath>
<text x="276.34" y="168.5" font-size="7.6" fill="#000" font-weight="bold" text-anchor="middle">400</text>
<text x="318.63" y="168.5" font-size="7.6" fill="#000" font-weight="bold" text-anchor="middle">600</text>
<text x="360.92" y="168.5" font-size="7.6" fill="#000" font-weight="bold" text-anchor="middle">800</text>
<text x="403.21" y="168.5" font-size="7.6" fill="#000" font-weight="bold" text-anchor="middle">1000</text>
<text x="445.5" y="168.5" font-size="7.6" fill="#000" font-weight="bold" text-anchor="middle">1200</text>
<text x="250.1" y="160.08" font-size="7.6" fill="#000" font-weight="bold" text-anchor="end">0.0</text>
<text x="250.1" y="132.26" font-size="7.6" fill="#000" font-weight="bold" text-anchor="end">0.2</text>
<text x="250.1" y="104.44" font-size="7.6" fill="#000" font-weight="bold" text-anchor="end">0.4</text>
<text x="250.1" y="76.62" font-size="7.6" fill="#000" font-weight="bold" text-anchor="end">0.6</text>
<text x="250.1" y="48.8" font-size="7.6" fill="#000" font-weight="bold" text-anchor="end">0.8</text>
<text x="250.1" y="20.98" font-size="7.6" fill="#000" font-weight="bold" text-anchor="end">1.0</text>
<rect x="255.5" y="3.5" width="190" height="153" fill="none" stroke="#000" stroke-width="1"/>
<line x1="276.5" y1="156.5" x2="276.5" y2="159.5" stroke="#000" stroke-width="1"/>
<line x1="318.5" y1="156.5" x2="318.5" y2="159.5" stroke="#000" stroke-width="1"/>
<line x1="360.5" y1="156.5" x2="360.5" y2="159.5" stroke="#000" stroke-width="1"/>
<line x1="403.5" y1="156.5" x2="403.5" y2="159.5" stroke="#000" stroke-width="1"/>
<line x1="445.5" y1="156.5" x2="445.5" y2="159.5" stroke="#000" stroke-width="1"/>
<line x1="255.5" y1="156.5" x2="255.5" y2="158.5" stroke="#000" stroke-width="1"/>
<line x1="297.5" y1="156.5" x2="297.5" y2="158.5" stroke="#000" stroke-width="1"/>
<line x1="339.5" y1="156.5" x2="339.5" y2="158.5" stroke="#000" stroke-width="1"/>
<line x1="382.5" y1="156.5" x2="382.5" y2="158.5" stroke="#000" stroke-width="1"/>
<line x1="424.5" y1="156.5" x2="424.5" y2="158.5" stroke="#000" stroke-width="1"/>
<line x1="252.5" y1="156.5" x2="255.5" y2="156.5" stroke="#000" stroke-width="1"/>
<line x1="252.5" y1="128.5" x2="255.5" y2="128.5" stroke="#000" stroke-width="1"/>
<line x1="252.5" y1="101.5" x2="255.5" y2="101.5" stroke="#000" stroke-width="1"/>
<line x1="252.5" y1="73.5" x2="255.5" y2="73.5" stroke="#000" stroke-width="1"/>
<line x1="252.5" y1="45.5" x2="255.5" y2="45.5" stroke="#000" stroke-width="1"/>
<line x1="252.5" y1="17.5" x2="255.5" y2="17.5" stroke="#000" stroke-width="1"/>
<line x1="253.5" y1="142.5" x2="255.5" y2="142.5" stroke="#000" stroke-width="1"/>
<line x1="253.5" y1="114.5" x2="255.5" y2="114.5" stroke="#000" stroke-width="1"/>
<line x1="253.5" y1="87.5" x2="255.5" y2="87.5" stroke="#000" stroke-width="1"/>
<line x1="253.5" y1="59.5" x2="255.5" y2="59.5" stroke="#000" stroke-width="1"/>
<line x1="253.5" y1="31.5" x2="255.5" y2="31.5" stroke="#000" stroke-width="1"/>
<polyline points="255.2,156.7 255.53,156.7 255.87,156.7 256.2,156.7 256.53,156.7 256.87,156.7 257.2,156.7 257.53,156.7 257.87,156.7 258.2,156.7 258.53,156.7 258.87,156.7 259.2,156.7 259.53,156.7 259.87,156.7 260.2,156.7 260.53,156.7 260.87,156.7 261.2,156.7 261.53,156.7 261.87,156.7 262.2,156.7 262.53,156.7 262.87,156.7 263.2,156.7 263.53,156.7 263.87,156.7 264.2,156.7 264.53,156.7 264.86,156.7 265.2,156.7 265.53,156.7 265.86,156.7 266.2,156.7 266.53,156.7 266.86,156.7 267.2,156.7 267.53,156.7 267.86,156.7 268.2,156.7 268.53,156.7 268.86,156.7 269.2,156.7 269.53,156.7 269.86,156.7 270.2,156.7 270.53,156.7 270.86,156.7 271.2,156.7 271.53,156.7 271.86,156.7 272.2,156.7 272.53,156.7 272.86,156.7 273.2,156.7 273.53,156.7 273.86,156.7 274.2,156.7 274.53,156.7 274.86,156.7 275.2,156.7 275.53,156.7 275.86,156.7 276.2,156.7 276.53,156.7 276.86,156.7 277.2,156.7 277.53,156.7 277.86,156.7 278.2,156.7 278.53,156.7 278.86,156.7 279.2,156.7 279.53,156.7 279.86,156.7 280.2,156.7 280.53,156.7 280.86,156.7 281.2,156.7 281.53,156.7 281.86,156.7 282.2,156.7 282.53,156.7 282.86,156.7 283.2,156.7 283.53,156.7 283.86,156.7 284.19,156.7 284.53,156.7 284.86,156.7 285.19,156.7 285.53,156.7 285.86,156.7 286.19,156.7 286.53,156.7 286.86,156.7 287.19,156.7 287.53,156.7 287.86,156.7 288.19,156.7 288.53,156.7 288.86,156.7 289.19,156.7 289.53,156.7 289.86,156.7 290.19,156.7 290.53,156.69 290.86,156.69 291.19,156.69 291.53,156.69 291.86,156.69 292.19,156.69 292.53,156.68 292.86,156.68 293.19,156.68 293.53,156.67 293.86,156.67 294.19,156.66 294.53,156.66 294.86,156.65 295.19,156.64 295.53,156.63 295.86,156.62 296.19,156.61 296.53,156.6 296.86,156.58 297.19,156.56 297.53,156.55 297.86,156.52 298.19,156.5 298.53,156.48 298.86,156.45 299.19,156.41 299.53,156.38 299.86,156.34 300.19,156.3 300.53,156.25 300.86,156.2 301.19,156.14 301.53,156.07 301.86,156.01 302.19,155.93 302.53,155.85 302.86,155.76 303.19,155.67 303.52,155.56 303.86,155.45 304.19,155.33 304.52,155.2 304.86,155.06 305.19,154.91 305.52,154.75 305.86,154.57 306.19,154.39 306.52,154.19 306.86,153.98 307.19,153.76 307.52,153.52 307.86,153.27 308.19,153.01 308.52,152.73 308.86,152.43 309.19,152.12 309.52,151.79 309.86,151.45 310.19,151.08 310.52,150.7 310.86,150.3 311.19,149.89 311.52,149.45 311.86,149 312.19,148.52 312.52,148.03 312.86,147.52 313.19,146.99 313.52,146.44 313.86,145.87 314.19,145.28 314.52,144.67 314.86,144.04 315.19,143.39 315.52,142.72 315.86,142.03 316.19,141.33 316.52,140.6 316.86,139.86 317.19,139.1 317.52,138.32 317.86,137.53 318.19,136.71 318.52,135.89 318.86,135.04 319.19,134.19 319.52,133.31 319.86,132.43 320.19,131.53 320.52,130.62 320.86,129.7 321.19,128.77 321.52,127.82 321.85,126.87 322.19,125.91 322.52,124.95 322.85,123.98 323.19,123 323.52,122.02 323.85,121.03 324.19,120.04 324.52,119.05 324.85,118.06 325.19,117.08 325.52,116.09 325.85,115.1 326.19,114.12 326.52,113.14 326.85,112.17 327.19,111.21 327.52,110.25 327.85,109.3 328.19,108.36 328.52,107.43 328.85,106.51 329.19,105.6 329.52,104.71 329.85,103.83 330.19,102.96 330.52,102.11 330.85,101.28 331.19,100.46 331.52,99.66 331.85,98.88 332.19,98.12 332.52,97.37 332.85,96.65 333.19,95.94 333.52,95.26 333.85,94.6 334.19,93.96 334.52,93.35 334.85,92.76 335.19,92.19 335.52,91.64 335.85,91.12 336.19,90.62 336.52,90.15 336.85,89.7 337.19,89.28 337.52,88.88 337.85,88.51 338.19,88.16 338.52,87.83 338.85,87.54 339.19,87.26 339.52,87.02 339.85,86.79 340.19,86.6 340.52,86.42 340.85,86.28 341.18,86.15 341.52,86.06 341.85,85.98 342.18,85.93 342.52,85.9 342.85,85.9 343.18,85.92 343.52,85.96 343.85,86.03 344.18,86.11 344.52,86.22 344.85,86.35 345.18,86.5 345.52,86.67 345.85,86.86 346.18,87.07 346.52,87.3 346.85,87.55 347.18,87.82 347.52,88.1 347.85,88.4 348.18,88.72 348.52,89.05 348.85,89.4 349.18,89.77 349.52,90.15 349.85,90.55 350.18,90.95 350.52,91.38 350.85,91.81 351.18,92.26 351.52,92.72 351.85,93.19 352.18,93.67 352.52,94.16 352.85,94.66 353.18,95.18 353.52,95.7 353.85,96.22 354.18,96.76 354.52,97.31 354.85,97.86 355.18,98.41 355.52,98.98 355.85,99.55 356.18,100.12 356.52,100.7 356.85,101.29 357.18,101.88 357.52,102.47 357.85,103.07 358.18,103.66 358.52,104.26 358.85,104.87 359.18,105.47 359.52,106.08 359.85,106.69 360.18,107.3 360.51,107.91 360.85,108.52 361.18,109.12 361.51,109.73 361.85,110.34 362.18,110.95 362.51,111.56 362.85,112.16 363.18,112.76 363.51,113.36 363.85,113.96 364.18,114.56 364.51,115.15 364.85,115.74 365.18,116.33 365.51,116.92 365.85,117.5 366.18,118.08 366.51,118.65 366.85,119.22 367.18,119.79 367.51,120.35 367.85,120.91 368.18,121.46 368.51,122.01 368.85,122.55 369.18,123.09 369.51,123.63 369.85,124.16 370.18,124.68 370.51,125.2 370.85,125.72 371.18,126.23 371.51,126.73 371.85,127.23 372.18,127.72 372.51,128.21 372.85,128.69 373.18,129.17 373.51,129.64 373.85,130.1 374.18,130.56 374.51,131.02 374.85,131.47 375.18,131.91 375.51,132.35 375.85,132.78 376.18,133.2 376.51,133.62 376.85,134.04 377.18,134.45 377.51,134.85 377.85,135.25 378.18,135.64 378.51,136.03 378.85,136.41 379.18,136.78 379.51,137.15 379.84,137.52 380.18,137.87 380.51,138.23 380.84,138.57 381.18,138.92 381.51,139.25 381.84,139.59 382.18,139.91 382.51,140.23 382.84,140.55 383.18,140.86 383.51,141.17 383.84,141.47 384.18,141.76 384.51,142.05 384.84,142.34 385.18,142.62 385.51,142.9 385.84,143.17 386.18,143.44 386.51,143.7 386.84,143.96 387.18,144.21 387.51,144.46 387.84,144.7 388.18,144.94 388.51,145.18 388.84,145.41 389.18,145.64 389.51,145.86 389.84,146.08 390.18,146.3 390.51,146.51 390.84,146.71 391.18,146.92 391.51,147.12 391.84,147.31 392.18,147.51 392.51,147.7 392.84,147.88 393.18,148.06 393.51,148.24 393.84,148.42 394.18,148.59 394.51,148.75 394.84,148.92 395.18,149.08 395.51,149.24 395.84,149.4 396.18,149.55 396.51,149.7 396.84,149.84 397.18,149.99 397.51,150.13 397.84,150.27 398.17,150.4 398.51,150.54 398.84,150.67 399.17,150.79 399.51,150.92 399.84,151.04 400.17,151.16 400.51,151.28 400.84,151.39 401.17,151.51 401.51,151.62 401.84,151.72 402.17,151.83 402.51,151.93 402.84,152.04 403.17,152.14 403.51,152.23 403.84,152.33 404.17,152.42 404.51,152.51 404.84,152.6 405.17,152.69 405.51,152.78 405.84,152.86 406.17,152.94 406.51,153.02 406.84,153.1 407.17,153.18 407.51,153.26 407.84,153.33 408.17,153.4 408.51,153.47 408.84,153.54 409.17,153.61 409.51,153.68 409.84,153.74 410.17,153.81 410.51,153.87 410.84,153.93 411.17,153.99 411.51,154.05 411.84,154.11 412.17,154.16 412.51,154.22 412.84,154.27 413.17,154.32 413.51,154.38 413.84,154.43 414.17,154.48 414.51,154.52 414.84,154.57 415.17,154.62 415.51,154.66 415.84,154.71 416.17,154.75 416.51,154.79 416.84,154.83 417.17,154.87 417.5,154.91 417.84,154.95 418.17,154.99 418.5,155.03 418.84,155.06 419.17,155.1 419.5,155.13 419.84,155.17 420.17,155.2 420.5,155.23 420.84,155.27 421.17,155.3 421.5,155.33 421.84,155.36 422.17,155.39 422.5,155.41 422.84,155.44 423.17,155.47 423.5,155.5 423.84,155.52 424.17,155.55 424.5,155.57 424.84,155.6 425.17,155.62 425.5,155.64 425.84,155.67 426.17,155.69 426.5,155.71 426.84,155.73 427.17,155.75 427.5,155.77 427.84,155.79 428.17,155.81 428.5,155.83 428.84,155.85 429.17,155.87 429.5,155.89 429.84,155.91 430.17,155.92 430.5,155.94 430.84,155.96 431.17,155.97 431.5,155.99 431.84,156 432.17,156.02 432.5,156.03 432.84,156.05 433.17,156.06 433.5,156.07 433.84,156.09 434.17,156.1 434.5,156.11 434.84,156.13 435.17,156.14 435.5,156.15 435.84,156.16 436.17,156.17 436.5,156.19 436.83,156.2 437.17,156.21 437.5,156.22 437.83,156.23 438.17,156.24 438.5,156.25 438.83,156.26 439.17,156.27 439.5,156.28 439.83,156.28 440.17,156.29 440.5,156.3 440.83,156.31 441.17,156.32 441.5,156.33 441.83,156.34 442.17,156.34 442.5,156.35 442.83,156.36 443.17,156.36 443.5,156.37 443.83,156.38 444.17,156.39 444.5,156.39 444.83,156.4 445.17,156.41 445.5,156.41" fill="none" stroke="#000" stroke-width="1.3" stroke-linejoin="round" clip-path="url(#c1)"/>
<polyline points="255.2,156.7 255.53,156.7 255.87,156.7 256.2,156.7 256.53,156.7 256.87,156.7 257.2,156.7 257.53,156.7 257.87,156.7 258.2,156.7 258.53,156.7 258.87,156.7 259.2,156.7 259.53,156.7 259.87,156.7 260.2,156.7 260.53,156.7 260.87,156.7 261.2,156.7 261.53,156.7 261.87,156.7 262.2,156.7 262.53,156.7 262.87,156.7 263.2,156.7 263.53,156.7 263.87,156.7 264.2,156.7 264.53,156.7 264.86,156.7 265.2,156.7 265.53,156.7 265.86,156.7 266.2,156.7 266.53,156.7 266.86,156.7 267.2,156.7 267.53,156.7 267.86,156.7 268.2,156.7 268.53,156.7 268.86,156.7 269.2,156.7 269.53,156.7 269.86,156.7 270.2,156.7 270.53,156.7 270.86,156.7 271.2,156.69 271.53,156.69 271.86,156.69 272.2,156.69 272.53,156.68 272.86,156.68 273.2,156.67 273.53,156.66 273.86,156.65 274.2,156.64 274.53,156.63 274.86,156.61 275.2,156.58 275.53,156.56 275.86,156.52 276.2,156.48 276.53,156.43 276.86,156.37 277.2,156.3 277.53,156.22 277.86,156.12 278.2,156.01 278.53,155.87 278.86,155.72 279.2,155.54 279.53,155.33 279.86,155.1 280.2,154.83 280.53,154.53 280.86,154.18 281.2,153.79 281.53,153.36 281.86,152.87 282.2,152.33 282.53,151.74 282.86,151.07 283.2,150.35 283.53,149.55 283.86,148.68 284.19,147.73 284.53,146.7 284.86,145.59 285.19,144.4 285.53,143.11 285.86,141.73 286.19,140.27 286.53,138.71 286.86,137.05 287.19,135.3 287.53,133.46 287.86,131.53 288.19,129.5 288.53,127.39 288.86,125.19 289.19,122.91 289.53,120.55 289.86,118.11 290.19,115.61 290.53,113.04 290.86,110.42 291.19,107.74 291.53,105.02 291.86,102.27 292.19,99.48 292.53,96.68 292.86,93.86 293.19,91.04 293.53,88.22 293.86,85.41 294.19,82.63 294.53,79.88 294.86,77.17 295.19,74.51 295.53,71.9 295.86,69.36 296.19,66.9 296.53,64.51 296.86,62.21 297.19,60 297.53,57.9 297.86,55.9 298.19,54.02 298.53,52.25 298.86,50.61 299.19,49.09 299.53,47.7 299.86,46.44 300.19,45.32 300.53,44.33 300.86,43.48 301.19,42.76 301.53,42.19 301.86,41.75 302.19,41.45 302.53,41.28 302.86,41.25 303.19,41.35 303.52,41.58 303.86,41.93 304.19,42.4 304.52,42.99 304.86,43.7 305.19,44.51 305.52,45.43 305.86,46.46 306.19,47.57 306.52,48.78 306.86,50.08 307.19,51.45 307.52,52.9 307.86,54.42 308.19,56.01 308.52,57.66 308.86,59.36 309.19,61.11 309.52,62.9 309.86,64.73 310.19,66.6 310.52,68.5 310.86,70.42 311.19,72.36 311.52,74.31 311.86,76.28 312.19,78.26 312.52,80.24 312.86,82.22 313.19,84.19 313.52,86.16 313.86,88.12 314.19,90.07 314.52,92 314.86,93.92 315.19,95.81 315.52,97.68 315.86,99.52 316.19,101.34 316.52,103.13 316.86,104.89 317.19,106.62 317.52,108.31 317.86,109.97 318.19,111.6 318.52,113.19 318.86,114.75 319.19,116.27 319.52,117.75 319.86,119.19 320.19,120.6 320.52,121.97 320.86,123.3 321.19,124.6 321.52,125.86 321.85,127.08 322.19,128.26 322.52,129.4 322.85,130.51 323.19,131.59 323.52,132.63 323.85,133.63 324.19,134.6 324.52,135.54 324.85,136.44 325.19,137.32 325.52,138.16 325.85,138.96 326.19,139.74 326.52,140.49 326.85,141.22 327.19,141.91 327.52,142.58 327.85,143.22 328.19,143.83 328.52,144.42 328.85,144.99 329.19,145.53 329.52,146.05 329.85,146.55 330.19,147.03 330.52,147.49 330.85,147.93 331.19,148.34 331.52,148.75 331.85,149.13 332.19,149.5 332.52,149.85 332.85,150.18 333.19,150.5 333.52,150.8 333.85,151.09 334.19,151.37 334.52,151.64 334.85,151.89 335.19,152.13 335.52,152.36 335.85,152.58 336.19,152.79 336.52,152.98 336.85,153.17 337.19,153.35 337.52,153.52 337.85,153.69 338.19,153.84 338.52,153.99 338.85,154.13 339.19,154.26 339.52,154.39 339.85,154.51 340.19,154.62 340.52,154.73 340.85,154.83 341.18,154.93 341.52,155.02 341.85,155.11 342.18,155.2 342.52,155.28 342.85,155.35 343.18,155.42 343.52,155.49 343.85,155.55 344.18,155.62 344.52,155.67 344.85,155.73 345.18,155.78 345.52,155.83 345.85,155.88 346.18,155.92 346.52,155.96 346.85,156 347.18,156.04 347.52,156.07 347.85,156.11 348.18,156.14 348.52,156.17 348.85,156.2 349.18,156.23 349.52,156.25 349.85,156.28 350.18,156.3 350.52,156.32 350.85,156.34 351.18,156.36 351.52,156.38 351.85,156.4 352.18,156.41 352.52,156.43 352.85,156.44 353.18,156.46 353.52,156.47 353.85,156.48 354.18,156.5 354.52,156.51 354.85,156.52 355.18,156.53 355.52,156.54 355.85,156.55 356.18,156.55 356.52,156.56 356.85,156.57 357.18,156.58 357.52,156.58 357.85,156.59 358.18,156.6 358.52,156.6 358.85,156.61 359.18,156.61 359.52,156.62 359.85,156.62 360.18,156.63 360.51,156.63 360.85,156.63 361.18,156.64 361.51,156.64 361.85,156.64 362.18,156.65 362.51,156.65 362.85,156.65 363.18,156.66 363.51,156.66 363.85,156.66 364.18,156.66 364.51,156.66 364.85,156.67 365.18,156.67 365.51,156.67 365.85,156.67 366.18,156.67 366.51,156.67 366.85,156.68 367.18,156.68 367.51,156.68 367.85,156.68 368.18,156.68 368.51,156.68 368.85,156.68 369.18,156.68 369.51,156.68 369.85,156.69 370.18,156.69 370.51,156.69 370.85,156.69 371.18,156.69 371.51,156.69 371.85,156.69 372.18,156.69 372.51,156.69 372.85,156.69 373.18,156.69 373.51,156.69 373.85,156.69 374.18,156.69 374.51,156.69 374.85,156.69 375.18,156.69 375.51,156.69 375.85,156.69 376.18,156.69 376.51,156.7 376.85,156.7 377.18,156.7 377.51,156.7 377.85,156.7 378.18,156.7 378.51,156.7 378.85,156.7 379.18,156.7 379.51,156.7 379.84,156.7 380.18,156.7 380.51,156.7 380.84,156.7 381.18,156.7 381.51,156.7 381.84,156.7 382.18,156.7 382.51,156.7 382.84,156.7 383.18,156.7 383.51,156.7 383.84,156.7 384.18,156.7 384.51,156.7 384.84,156.7 385.18,156.7 385.51,156.7 385.84,156.7 386.18,156.7 386.51,156.7 386.84,156.7 387.18,156.7 387.51,156.7 387.84,156.7 388.18,156.7 388.51,156.7 388.84,156.7 389.18,156.7 389.51,156.7 389.84,156.7 390.18,156.7 390.51,156.7 390.84,156.7 391.18,156.7 391.51,156.7 391.84,156.7 392.18,156.7 392.51,156.7 392.84,156.7 393.18,156.7 393.51,156.7 393.84,156.7 394.18,156.7 394.51,156.7 394.84,156.7 395.18,156.7 395.51,156.7 395.84,156.7 396.18,156.7 396.51,156.7 396.84,156.7 397.18,156.7 397.51,156.7 397.84,156.7 398.17,156.7 398.51,156.7 398.84,156.7 399.17,156.7 399.51,156.7 399.84,156.7 400.17,156.7 400.51,156.7 400.84,156.7 401.17,156.7 401.51,156.7 401.84,156.7 402.17,156.7 402.51,156.7 402.84,156.7 403.17,156.7 403.51,156.7 403.84,156.7 404.17,156.7 404.51,156.7 404.84,156.7 405.17,156.7 405.51,156.7 405.84,156.7 406.17,156.7 406.51,156.7 406.84,156.7 407.17,156.7 407.51,156.7 407.84,156.7 408.17,156.7 408.51,156.7 408.84,156.7 409.17,156.7 409.51,156.7 409.84,156.7 410.17,156.7 410.51,156.7 410.84,156.7 411.17,156.7 411.51,156.7 411.84,156.7 412.17,156.7 412.51,156.7 412.84,156.7 413.17,156.7 413.51,156.7 413.84,156.7 414.17,156.7 414.51,156.7 414.84,156.7 415.17,156.7 415.51,156.7 415.84,156.7 416.17,156.7 416.51,156.7 416.84,156.7 417.17,156.7 417.5,156.7 417.84,156.7 418.17,156.7 418.5,156.7 418.84,156.7 419.17,156.7 419.5,156.7 419.84,156.7 420.17,156.7 420.5,156.7 420.84,156.7 421.17,156.7 421.5,156.7 421.84,156.7 422.17,156.7 422.5,156.7 422.84,156.7 423.17,156.7 423.5,156.7 423.84,156.7 424.17,156.7 424.5,156.7 424.84,156.7 425.17,156.7 425.5,156.7 425.84,156.7 426.17,156.7 426.5,156.7 426.84,156.7 427.17,156.7 427.5,156.7 427.84,156.7 428.17,156.7 428.5,156.7 428.84,156.7 429.17,156.7 429.5,156.7 429.84,156.7 430.17,156.7 430.5,156.7 430.84,156.7 431.17,156.7 431.5,156.7 431.84,156.7 432.17,156.7 432.5,156.7 432.84,156.7 433.17,156.7 433.5,156.7 433.84,156.7 434.17,156.7 434.5,156.7 434.84,156.7 435.17,156.7 435.5,156.7 435.84,156.7 436.17,156.7 436.5,156.7 436.83,156.7 437.17,156.7 437.5,156.7 437.83,156.7 438.17,156.7 438.5,156.7 438.83,156.7 439.17,156.7 439.5,156.7 439.83,156.7 440.17,156.7 440.5,156.7 440.83,156.7 441.17,156.7 441.5,156.7 441.83,156.7 442.17,156.7 442.5,156.7 442.83,156.7 443.17,156.7 443.5,156.7 443.83,156.7 444.17,156.7 444.5,156.7 444.83,156.7 445.17,156.7 445.5,156.7" fill="none" stroke="#ff2a2a" stroke-width="1.3" stroke-linejoin="round" clip-path="url(#c1)"/>
<polyline points="255.2,156.7 255.53,156.7 255.87,156.7 256.2,156.7 256.53,156.7 256.87,156.7 257.2,156.7 257.53,156.7 257.87,156.7 258.2,156.7 258.53,156.7 258.87,156.7 259.2,156.7 259.53,156.7 259.87,156.7 260.2,156.7 260.53,156.7 260.87,156.7 261.2,156.7 261.53,156.7 261.87,156.7 262.2,156.7 262.53,156.7 262.87,156.7 263.2,156.7 263.53,156.7 263.87,156.7 264.2,156.7 264.53,156.7 264.86,156.7 265.2,156.7 265.53,156.7 265.86,156.7 266.2,156.7 266.53,156.7 266.86,156.7 267.2,156.7 267.53,156.7 267.86,156.7 268.2,156.7 268.53,156.7 268.86,156.69 269.2,156.69 269.53,156.69 269.86,156.69 270.2,156.68 270.53,156.68 270.86,156.67 271.2,156.66 271.53,156.65 271.86,156.64 272.2,156.62 272.53,156.6 272.86,156.57 273.2,156.54 273.53,156.51 273.86,156.46 274.2,156.41 274.53,156.34 274.86,156.27 275.2,156.18 275.53,156.08 275.86,155.96 276.2,155.82 276.53,155.65 276.86,155.47 277.2,155.25 277.53,155.01 277.86,154.73 278.2,154.41 278.53,154.05 278.86,153.65 279.2,153.2 279.53,152.7 279.86,152.14 280.2,151.52 280.53,150.84 280.86,150.08 281.2,149.26 281.53,148.36 281.86,147.37 282.2,146.31 282.53,145.15 282.86,143.91 283.2,142.57 283.53,141.14 283.86,139.61 284.19,137.97 284.53,136.24 284.86,134.41 285.19,132.47 285.53,130.43 285.86,128.29 286.19,126.05 286.53,123.71 286.86,121.27 287.19,118.74 287.53,116.12 287.86,113.42 288.19,110.63 288.53,107.78 288.86,104.85 289.19,101.86 289.53,98.81 289.86,95.71 290.19,92.57 290.53,89.4 290.86,86.2 291.19,82.99 291.53,79.77 291.86,76.54 292.19,73.33 292.53,70.14 292.86,66.97 293.19,63.84 293.53,60.75 293.86,57.72 294.19,54.75 294.53,51.85 294.86,49.03 295.19,46.3 295.53,43.66 295.86,41.12 296.19,38.68 296.53,36.36 296.86,34.16 297.19,32.08 297.53,30.13 297.86,28.32 298.19,26.63 298.53,25.09 298.86,23.69 299.19,22.43 299.53,21.32 299.86,20.35 300.19,19.53 300.53,18.86 300.86,18.33 301.19,17.94 301.53,17.7 301.86,17.6 302.19,17.64 302.53,17.82 302.86,18.13 303.19,18.57 303.52,19.14 303.86,19.83 304.19,20.63 304.52,21.56 304.86,22.59 305.19,23.73 305.52,24.97 305.86,26.3 306.19,27.72 306.52,29.23 306.86,30.82 307.19,32.49 307.52,34.22 307.86,36.02 308.19,37.88 308.52,39.79 308.86,41.75 309.19,43.76 309.52,45.8 309.86,47.88 310.19,49.99 310.52,52.12 310.86,54.28 311.19,56.45 311.52,58.64 311.86,60.83 312.19,63.03 312.52,65.24 312.86,67.43 313.19,69.63 313.52,71.81 313.86,73.99 314.19,76.15 314.52,78.29 314.86,80.42 315.19,82.52 315.52,84.6 315.86,86.66 316.19,88.69 316.52,90.69 316.86,92.65 317.19,94.59 317.52,96.5 317.86,98.37 318.19,100.2 318.52,102 318.86,103.77 319.19,105.5 319.52,107.19 319.86,108.84 320.19,110.45 320.52,112.03 320.86,113.56 321.19,115.06 321.52,116.52 321.85,117.95 322.19,119.33 322.52,120.68 322.85,121.98 323.19,123.26 323.52,124.49 323.85,125.69 324.19,126.85 324.52,127.98 324.85,129.07 325.19,130.13 325.52,131.15 325.85,132.14 326.19,133.1 326.52,134.03 326.85,134.92 327.19,135.79 327.52,136.62 327.85,137.43 328.19,138.21 328.52,138.96 328.85,139.69 329.19,140.38 329.52,141.06 329.85,141.71 330.19,142.33 330.52,142.93 330.85,143.51 331.19,144.06 331.52,144.6 331.85,145.11 332.19,145.61 332.52,146.08 332.85,146.54 333.19,146.98 333.52,147.4 333.85,147.8 334.19,148.19 334.52,148.56 334.85,148.92 335.19,149.26 335.52,149.59 335.85,149.91 336.19,150.21 336.52,150.5 336.85,150.77 337.19,151.04 337.52,151.29 337.85,151.54 338.19,151.77 338.52,151.99 338.85,152.21 339.19,152.41 339.52,152.61 339.85,152.79 340.19,152.97 340.52,153.14 340.85,153.3 341.18,153.46 341.52,153.61 341.85,153.75 342.18,153.89 342.52,154.02 342.85,154.14 343.18,154.26 343.52,154.37 343.85,154.48 344.18,154.59 344.52,154.68 344.85,154.78 345.18,154.87 345.52,154.95 345.85,155.04 346.18,155.11 346.52,155.19 346.85,155.26 347.18,155.33 347.52,155.39 347.85,155.45 348.18,155.51 348.52,155.57 348.85,155.62 349.18,155.67 349.52,155.72 349.85,155.77 350.18,155.81 350.52,155.85 350.85,155.89 351.18,155.93 351.52,155.97 351.85,156 352.18,156.04 352.52,156.07 352.85,156.1 353.18,156.13 353.52,156.15 353.85,156.18 354.18,156.2 354.52,156.23 354.85,156.25 355.18,156.27 355.52,156.29 355.85,156.31 356.18,156.33 356.52,156.35 356.85,156.36 357.18,156.38 357.52,156.4 357.85,156.41 358.18,156.42 358.52,156.44 358.85,156.45 359.18,156.46 359.52,156.47 359.85,156.48 360.18,156.49 360.51,156.5 360.85,156.51 361.18,156.52 361.51,156.53 361.85,156.54 362.18,156.55 362.51,156.55 362.85,156.56 363.18,156.57 363.51,156.57 363.85,156.58 364.18,156.59 364.51,156.59 364.85,156.6 365.18,156.6 365.51,156.61 365.85,156.61 366.18,156.61 366.51,156.62 366.85,156.62 367.18,156.63 367.51,156.63 367.85,156.63 368.18,156.64 368.51,156.64 368.85,156.64 369.18,156.64 369.51,156.65 369.85,156.65 370.18,156.65 370.51,156.65 370.85,156.66 371.18,156.66 371.51,156.66 371.85,156.66 372.18,156.66 372.51,156.67 372.85,156.67 373.18,156.67 373.51,156.67 373.85,156.67 374.18,156.67 374.51,156.67 374.85,156.68 375.18,156.68 375.51,156.68 375.85,156.68 376.18,156.68 376.51,156.68 376.85,156.68 377.18,156.68 377.51,156.68 377.85,156.68 378.18,156.68 378.51,156.69 378.85,156.69 379.18,156.69 379.51,156.69 379.84,156.69 380.18,156.69 380.51,156.69 380.84,156.69 381.18,156.69 381.51,156.69 381.84,156.69 382.18,156.69 382.51,156.69 382.84,156.69 383.18,156.69 383.51,156.69 383.84,156.69 384.18,156.69 384.51,156.69 384.84,156.69 385.18,156.69 385.51,156.69 385.84,156.69 386.18,156.69 386.51,156.7 386.84,156.7 387.18,156.7 387.51,156.7 387.84,156.7 388.18,156.7 388.51,156.7 388.84,156.7 389.18,156.7 389.51,156.7 389.84,156.7 390.18,156.7 390.51,156.7 390.84,156.7 391.18,156.7 391.51,156.7 391.84,156.7 392.18,156.7 392.51,156.7 392.84,156.7 393.18,156.7 393.51,156.7 393.84,156.7 394.18,156.7 394.51,156.7 394.84,156.7 395.18,156.7 395.51,156.7 395.84,156.7 396.18,156.7 396.51,156.7 396.84,156.7 397.18,156.7 397.51,156.7 397.84,156.7 398.17,156.7 398.51,156.7 398.84,156.7 399.17,156.7 399.51,156.7 399.84,156.7 400.17,156.7 400.51,156.7 400.84,156.7 401.17,156.7 401.51,156.7 401.84,156.7 402.17,156.7 402.51,156.7 402.84,156.7 403.17,156.7 403.51,156.7 403.84,156.7 404.17,156.7 404.51,156.7 404.84,156.7 405.17,156.7 405.51,156.7 405.84,156.7 406.17,156.7 406.51,156.7 406.84,156.7 407.17,156.7 407.51,156.7 407.84,156.7 408.17,156.7 408.51,156.7 408.84,156.7 409.17,156.7 409.51,156.7 409.84,156.7 410.17,156.7 410.51,156.7 410.84,156.7 411.17,156.7 411.51,156.7 411.84,156.7 412.17,156.7 412.51,156.7 412.84,156.7 413.17,156.7 413.51,156.7 413.84,156.7 414.17,156.7 414.51,156.7 414.84,156.7 415.17,156.7 415.51,156.7 415.84,156.7 416.17,156.7 416.51,156.7 416.84,156.7 417.17,156.7 417.5,156.7 417.84,156.7 418.17,156.7 418.5,156.7 418.84,156.7 419.17,156.7 419.5,156.7 419.84,156.7 420.17,156.7 420.5,156.7 420.84,156.7 421.17,156.7 421.5,156.7 421.84,156.7 422.17,156.7 422.5,156.7 422.84,156.7 423.17,156.7 423.5,156.7 423.84,156.7 424.17,156.7 424.5,156.7 424.84,156.7 425.17,156.7 425.5,156.7 425.84,156.7 426.17,156.7 426.5,156.7 426.84,156.7 427.17,156.7 427.5,156.7 427.84,156.7 428.17,156.7 428.5,156.7 428.84,156.7 429.17,156.7 429.5,156.7 429.84,156.7 430.17,156.7 430.5,156.7 430.84,156.7 431.17,156.7 431.5,156.7 431.84,156.7 432.17,156.7 432.5,156.7 432.84,156.7 433.17,156.7 433.5,156.7 433.84,156.7 434.17,156.7 434.5,156.7 434.84,156.7 435.17,156.7 435.5,156.7 435.84,156.7 436.17,156.7 436.5,156.7 436.83,156.7 437.17,156.7 437.5,156.7 437.83,156.7 438.17,156.7 438.5,156.7 438.83,156.7 439.17,156.7 439.5,156.7 439.83,156.7 440.17,156.7 440.5,156.7 440.83,156.7 441.17,156.7 441.5,156.7 441.83,156.7 442.17,156.7 442.5,156.7 442.83,156.7 443.17,156.7 443.5,156.7 443.83,156.7 444.17,156.7 444.5,156.7 444.83,156.7 445.17,156.7 445.5,156.7" fill="none" stroke="#1a66e0" stroke-width="1.3" stroke-linejoin="round" clip-path="url(#c1)"/>
<text x="305.4" y="16.5" font-size="7.3" fill="#2b2bff" text-anchor="middle">524.0 (0.40)</text>
<text x="274.7" y="26.6" font-size="7.3" fill="#2b2bff" stroke="#2b2bff" stroke-width="0.1">π</text>
<text x="278.39" y="28.64" font-size="4.53" fill="#2b2bff" stroke="#2b2bff" stroke-width="0.1">3</text>
<line x1="281.09" y1="24.78" x2="285.32" y2="24.78" stroke="#2b2bff" stroke-width="0.88"/>
<polygon points="287.66,24.78 285.32,26.16 285.32,23.39" fill="#2b2bff"/>
<text x="287.95" y="26.6" font-size="7.3" fill="#2b2bff" stroke="#2b2bff" stroke-width="0.1">π</text>
<text x="291.64" y="28.64" font-size="4.53" fill="#2b2bff" stroke="#2b2bff" stroke-width="0.1">2</text>
<text x="327.9" y="43.6" font-size="7.3" fill="#ff2b2b" text-anchor="middle">526.0 (0.33)</text>
<text x="314" y="54.2" font-size="7.3" fill="#ff2b2b" stroke="#ff2b2b" stroke-width="0.1">π</text>
<text x="317.69" y="56.24" font-size="4.53" fill="#ff2b2b" stroke="#ff2b2b" stroke-width="0.1">3</text>
<line x1="320.39" y1="52.38" x2="324.62" y2="52.38" stroke="#ff2b2b" stroke-width="0.88"/>
<polygon points="326.96,52.38 324.62,53.76 324.62,50.99" fill="#ff2b2b"/>
<text x="327.25" y="54.2" font-size="7.3" fill="#ff2b2b" stroke="#ff2b2b" stroke-width="0.1">π</text>
<text x="330.94" y="56.24" font-size="4.53" fill="#ff2b2b" stroke="#ff2b2b" stroke-width="0.1">2</text>
<text x="347" y="82.7" font-size="7.3" fill="#222" text-anchor="middle">714.0 (0.20)</text>
<text x="336.4" y="103.1" font-size="7.3" fill="#222" stroke="#222" stroke-width="0.1">π</text>
<text x="340.09" y="105.14" font-size="4.53" fill="#222" stroke="#222" stroke-width="0.1">3</text>
<line x1="342.79" y1="101.27" x2="347.02" y2="101.27" stroke="#222" stroke-width="0.88"/>
<polygon points="349.36,101.27 347.02,102.66 347.02,99.89" fill="#222"/>
<text x="349.65" y="103.1" font-size="7.3" fill="#222" stroke="#222" stroke-width="0.1">π</text>
<text x="353.34" y="105.14" font-size="4.53" fill="#222" stroke="#222" stroke-width="0.1">2</text>
<line x1="394.5" y1="11.5" x2="410.5" y2="11.5" stroke="#000" stroke-width="1.3"/>
<text x="412.8" y="13.92" font-size="7.3" fill="#333">FLH</text>
<text x="426.59" y="15.74" font-size="4.67" fill="#333" font-weight="bold">ex</text>
<text x="426.59" y="10.63" font-size="4.67" fill="#333" font-weight="bold">+</text>
<text x="431" y="13.92" font-size="7.3" fill="#333">_N5</text>
<line x1="394.5" y1="21.5" x2="410.5" y2="21.5" stroke="#ff2a2a" stroke-width="1.3"/>
<text x="412.8" y="24.12" font-size="7.3" fill="#333">FL</text>
<text x="421.32" y="25.94" font-size="4.67" fill="#333" font-weight="bold">ex</text>
<line x1="394.5" y1="32.5" x2="410.5" y2="32.5" stroke="#1a66e0" stroke-width="1.3"/>
<text x="412.8" y="35.42" font-size="7.3" fill="#333">FL</text>
<text x="421.32" y="37.25" font-size="4.67" fill="#333" font-weight="bold">ex</text>
<text x="421.32" y="32.14" font-size="4.67" fill="#333" font-weight="bold">-</text>
<text x="350.3" y="181.4" font-size="8.9" fill="#000" font-weight="bold" text-anchor="middle">Wavelength/nm</text>
<text x="232.3" y="75" font-size="8.9" fill="#000" font-weight="bold" text-anchor="middle" transform="rotate(-90 232.3 75.0)">Fluorescence</text>
<text x="226.9" y="11.2" font-size="8.5" fill="#000" font-weight="bold">B</text>
<clipPath id="c2"><rect x="32" y="185" width="193" height="156.5"/></clipPath>
<text x="32.4" y="351.8" font-size="7.6" fill="#000" font-weight="bold" text-anchor="middle">300</text>
<text x="80.47" y="351.8" font-size="7.6" fill="#000" font-weight="bold" text-anchor="middle">400</text>
<text x="128.55" y="351.8" font-size="7.6" fill="#000" font-weight="bold" text-anchor="middle">500</text>
<text x="176.62" y="351.8" font-size="7.6" fill="#000" font-weight="bold" text-anchor="middle">600</text>
<text x="224.7" y="351.8" font-size="7.6" fill="#000" font-weight="bold" text-anchor="middle">700</text>
<text x="27.2" y="343.58" font-size="7.6" fill="#000" font-weight="bold" text-anchor="end">0.0</text>
<text x="27.2" y="315.34" font-size="7.6" fill="#000" font-weight="bold" text-anchor="end">0.2</text>
<text x="27.2" y="287.1" font-size="7.6" fill="#000" font-weight="bold" text-anchor="end">0.4</text>
<text x="27.2" y="258.86" font-size="7.6" fill="#000" font-weight="bold" text-anchor="end">0.6</text>
<text x="27.2" y="230.62" font-size="7.6" fill="#000" font-weight="bold" text-anchor="end">0.8</text>
<text x="27.2" y="202.38" font-size="7.6" fill="#000" font-weight="bold" text-anchor="end">1.0</text>
<rect x="32.5" y="185.5" width="192" height="155" fill="none" stroke="#000" stroke-width="1"/>
<line x1="32.5" y1="340.5" x2="32.5" y2="343.5" stroke="#000" stroke-width="1"/>
<line x1="80.5" y1="340.5" x2="80.5" y2="343.5" stroke="#000" stroke-width="1"/>
<line x1="128.5" y1="340.5" x2="128.5" y2="343.5" stroke="#000" stroke-width="1"/>
<line x1="176.5" y1="340.5" x2="176.5" y2="343.5" stroke="#000" stroke-width="1"/>
<line x1="224.5" y1="340.5" x2="224.5" y2="343.5" stroke="#000" stroke-width="1"/>
<line x1="56.5" y1="340.5" x2="56.5" y2="342.5" stroke="#000" stroke-width="1"/>
<line x1="104.5" y1="340.5" x2="104.5" y2="342.5" stroke="#000" stroke-width="1"/>
<line x1="152.5" y1="340.5" x2="152.5" y2="342.5" stroke="#000" stroke-width="1"/>
<line x1="200.5" y1="340.5" x2="200.5" y2="342.5" stroke="#000" stroke-width="1"/>
<line x1="29.5" y1="340.5" x2="32.5" y2="340.5" stroke="#000" stroke-width="1"/>
<line x1="29.5" y1="311.5" x2="32.5" y2="311.5" stroke="#000" stroke-width="1"/>
<line x1="29.5" y1="283.5" x2="32.5" y2="283.5" stroke="#000" stroke-width="1"/>
<line x1="29.5" y1="255.5" x2="32.5" y2="255.5" stroke="#000" stroke-width="1"/>
<line x1="29.5" y1="227.5" x2="32.5" y2="227.5" stroke="#000" stroke-width="1"/>
<line x1="29.5" y1="199.5" x2="32.5" y2="199.5" stroke="#000" stroke-width="1"/>
<line x1="30.5" y1="326.5" x2="32.5" y2="326.5" stroke="#000" stroke-width="1"/>
<line x1="30.5" y1="297.5" x2="32.5" y2="297.5" stroke="#000" stroke-width="1"/>
<line x1="30.5" y1="269.5" x2="32.5" y2="269.5" stroke="#000" stroke-width="1"/>
<line x1="30.5" y1="241.5" x2="32.5" y2="241.5" stroke="#000" stroke-width="1"/>
<line x1="30.5" y1="213.5" x2="32.5" y2="213.5" stroke="#000" stroke-width="1"/>
<line x1="33.5" y1="340.2" x2="33.5" y2="337.5" stroke="#4a90ff" stroke-width="1" clip-path="url(#c2)"/>
<line x1="35.5" y1="340.2" x2="35.5" y2="332" stroke="#ff3333" stroke-width="1" clip-path="url(#c2)"/>
<line x1="38.5" y1="340.2" x2="38.5" y2="337.5" stroke="#5a5a5a" stroke-width="1" clip-path="url(#c2)"/>
<line x1="40.5" y1="340.2" x2="40.5" y2="337.5" stroke="#5a5a5a" stroke-width="1" clip-path="url(#c2)"/>
<line x1="43.5" y1="340.2" x2="43.5" y2="336.4" stroke="#ff3333" stroke-width="1" clip-path="url(#c2)"/>
<line x1="47.5" y1="340.2" x2="47.5" y2="332.6" stroke="#ff3333" stroke-width="1" clip-path="url(#c2)"/>
<line x1="45.5" y1="340.2" x2="45.5" y2="271" stroke="#ff8080" stroke-width="0.7" clip-path="url(#c2)"/>
<line x1="50.5" y1="340.2" x2="50.5" y2="331.9" stroke="#5a5a5a" stroke-width="1" clip-path="url(#c2)"/>
<line x1="52.5" y1="340.2" x2="52.5" y2="317.7" stroke="#5a5a5a" stroke-width="1.3" clip-path="url(#c2)"/>
<line x1="58.5" y1="340.2" x2="58.5" y2="324.3" stroke="#ff3333" stroke-width="1" clip-path="url(#c2)"/>
<line x1="61.5" y1="340.2" x2="61.5" y2="329.8" stroke="#ff3333" stroke-width="1" clip-path="url(#c2)"/>
<line x1="62.5" y1="340.2" x2="62.5" y2="288.5" stroke="#4a90ff" stroke-width="1" clip-path="url(#c2)"/>
<line x1="73.5" y1="340.2" x2="73.5" y2="324.3" stroke="#4a90ff" stroke-width="1" clip-path="url(#c2)"/>
<line x1="95.5" y1="340.2" x2="95.5" y2="325.4" stroke="#4a90ff" stroke-width="0.8" clip-path="url(#c2)"/>
<line x1="105.5" y1="340.2" x2="105.5" y2="334.8" stroke="#ff3333" stroke-width="1" clip-path="url(#c2)"/>
<line x1="109.5" y1="340.2" x2="109.5" y2="334.8" stroke="#ff3333" stroke-width="1" clip-path="url(#c2)"/>
<line x1="111.5" y1="340.2" x2="111.5" y2="309.7" stroke="#7a7a7a" stroke-width="1.5" clip-path="url(#c2)"/>
<line x1="124.5" y1="340.2" x2="124.5" y2="336.2" stroke="#5a5a5a" stroke-width="1" clip-path="url(#c2)"/>
<line x1="161.5" y1="340.2" x2="161.5" y2="323.7" stroke="#ff3333" stroke-width="1" clip-path="url(#c2)"/>
<polyline points="32.4,325.6 32.73,324.75 33.07,323.92 33.4,323.11 33.73,322.33 34.07,321.58 34.4,320.85 34.73,320.15 35.07,319.48 35.4,318.83 35.73,318.21 36.07,317.61 36.4,317.02 36.73,316.45 37.07,315.88 37.4,315.32 37.73,314.76 38.07,314.19 38.4,313.61 38.73,313.02 39.07,312.42 39.4,311.79 39.73,311.15 40.07,310.48 40.4,309.8 40.73,309.09 41.07,308.36 41.4,307.61 41.73,306.84 42.06,306.05 42.4,305.25 42.73,304.45 43.06,303.63 43.4,302.82 43.73,302 44.06,301.19 44.4,300.39 44.73,299.61 45.06,298.84 45.4,298.09 45.73,297.37 46.06,296.68 46.4,296.02 46.73,295.39 47.06,294.81 47.4,294.26 47.73,293.76 48.06,293.3 48.4,292.89 48.73,292.53 49.06,292.22 49.4,291.96 49.73,291.75 50.06,291.6 50.4,291.49 50.73,291.45 51.06,291.45 51.4,291.5 51.73,291.61 52.06,291.77 52.4,291.97 52.73,292.23 53.06,292.53 53.4,292.88 53.73,293.27 54.06,293.71 54.4,294.18 54.73,294.7 55.06,295.25 55.4,295.83 55.73,296.45 56.06,297.1 56.4,297.78 56.73,298.49 57.06,299.22 57.4,299.97 57.73,300.74 58.06,301.53 58.4,302.34 58.73,303.16 59.06,303.99 59.4,304.83 59.73,305.67 60.06,306.53 60.4,307.38 60.73,308.24 61.06,309.1 61.39,309.96 61.73,310.81 62.06,311.66 62.39,312.5 62.73,313.34 63.06,314.16 63.39,314.98 63.73,315.79 64.06,316.58 64.39,317.36 64.73,318.12 65.06,318.87 65.39,319.6 65.73,320.32 66.06,321.02 66.39,321.7 66.73,322.36 67.06,323.01 67.39,323.63 67.73,324.23 68.06,324.81 68.39,325.38 68.73,325.92 69.06,326.44 69.39,326.93 69.73,327.41 70.06,327.86 70.39,328.3 70.73,328.71 71.06,329.1 71.39,329.46 71.73,329.81 72.06,330.13 72.39,330.43 72.73,330.71 73.06,330.97 73.39,331.21 73.73,331.43 74.06,331.62 74.39,331.79 74.73,331.94 75.06,332.07 75.39,332.18 75.73,332.27 76.06,332.34 76.39,332.39 76.73,332.42 77.06,332.42 77.39,332.41 77.73,332.38 78.06,332.33 78.39,332.26 78.73,332.17 79.06,332.06 79.39,331.93 79.73,331.78 80.06,331.62 80.39,331.43 80.72,331.23 81.06,331.01 81.39,330.77 81.72,330.51 82.06,330.24 82.39,329.95 82.72,329.64 83.06,329.32 83.39,328.98 83.72,328.62 84.06,328.25 84.39,327.86 84.72,327.45 85.06,327.03 85.39,326.6 85.72,326.15 86.06,325.69 86.39,325.21 86.72,324.72 87.06,324.21 87.39,323.7 87.72,323.17 88.06,322.63 88.39,322.07 88.72,321.51 89.06,320.93 89.39,320.35 89.72,319.75 90.06,319.14 90.39,318.53 90.72,317.91 91.06,317.28 91.39,316.64 91.72,315.99 92.06,315.34 92.39,314.68 92.72,314.02 93.06,313.35 93.39,312.68 93.72,312.01 94.06,311.33 94.39,310.65 94.72,309.96 95.06,309.28 95.39,308.59 95.72,307.91 96.06,307.22 96.39,306.54 96.72,305.86 97.06,305.18 97.39,304.5 97.72,303.82 98.06,303.15 98.39,302.49 98.72,301.83 99.06,301.18 99.39,300.53 99.72,299.89 100.05,299.25 100.39,298.63 100.72,298.01 101.05,297.4 101.39,296.8 101.72,296.22 102.05,295.64 102.39,295.07 102.72,294.52 103.05,293.97 103.39,293.44 103.72,292.92 104.05,292.42 104.39,291.93 104.72,291.45 105.05,290.99 105.39,290.54 105.72,290.1 106.05,289.68 106.39,289.28 106.72,288.89 107.05,288.52 107.39,288.17 107.72,287.83 108.05,287.51 108.39,287.2 108.72,286.91 109.05,286.64 109.39,286.39 109.72,286.15 110.05,285.93 110.39,285.73 110.72,285.55 111.05,285.38 111.39,285.23 111.72,285.1 112.05,284.99 112.39,284.89 112.72,284.81 113.05,284.75 113.39,284.7 113.72,284.68 114.05,284.66 114.39,284.67 114.72,284.69 115.05,284.73 115.39,284.79 115.72,284.86 116.05,284.95 116.39,285.05 116.72,285.17 117.05,285.3 117.39,285.45 117.72,285.62 118.05,285.79 118.39,285.99 118.72,286.19 119.05,286.41 119.38,286.64 119.72,286.89 120.05,287.15 120.38,287.42 120.72,287.7 121.05,288 121.38,288.31 121.72,288.62 122.05,288.95 122.38,289.29 122.72,289.64 123.05,290 123.38,290.36 123.72,290.74 124.05,291.13 124.38,291.52 124.72,291.92 125.05,292.33 125.38,292.75 125.72,293.17 126.05,293.6 126.38,294.04 126.72,294.48 127.05,294.93 127.38,295.38 127.72,295.84 128.05,296.3 128.38,296.77 128.72,297.24 129.05,297.71 129.38,298.19 129.72,298.67 130.05,299.15 130.38,299.64 130.72,300.13 131.05,300.62 131.38,301.11 131.72,301.6 132.05,302.09 132.38,302.59 132.72,303.08 133.05,303.58 133.38,304.07 133.72,304.57 134.05,305.06 134.38,305.55 134.72,306.05 135.05,306.54 135.38,307.03 135.72,307.52 136.05,308 136.38,308.49 136.72,308.97 137.05,309.45 137.38,309.93 137.72,310.4 138.05,310.88 138.38,311.35 138.71,311.81 139.05,312.28 139.38,312.74 139.71,313.19 140.05,313.65 140.38,314.1 140.71,314.54 141.05,314.99 141.38,315.42 141.71,315.86 142.05,316.29 142.38,316.71 142.71,317.13 143.05,317.55 143.38,317.96 143.71,318.37 144.05,318.77 144.38,319.17 144.71,319.57 145.05,319.96 145.38,320.34 145.71,320.72 146.05,321.1 146.38,321.47 146.71,321.83 147.05,322.19 147.38,322.55 147.71,322.9 148.05,323.25 148.38,323.59 148.71,323.92 149.05,324.25 149.38,324.58 149.71,324.9 150.05,325.22 150.38,325.53 150.71,325.84 151.05,326.14 151.38,326.44 151.71,326.73 152.05,327.02 152.38,327.3 152.71,327.58 153.05,327.85 153.38,328.12 153.71,328.38 154.05,328.64 154.38,328.9 154.71,329.15 155.05,329.39 155.38,329.63 155.71,329.87 156.05,330.1 156.38,330.33 156.71,330.56 157.05,330.78 157.38,330.99 157.71,331.21 158.04,331.41 158.38,331.62 158.71,331.82 159.04,332.01 159.38,332.2 159.71,332.39 160.04,332.58 160.38,332.76 160.71,332.93 161.04,333.11 161.38,333.28 161.71,333.44 162.04,333.61 162.38,333.77 162.71,333.92 163.04,334.08 163.38,334.23 163.71,334.37 164.04,334.51 164.38,334.65 164.71,334.79 165.04,334.93 165.38,335.06 165.71,335.19 166.04,335.31 166.38,335.43 166.71,335.55 167.04,335.67 167.38,335.78 167.71,335.9 168.04,336.01 168.38,336.11 168.71,336.22 169.04,336.32 169.38,336.42 169.71,336.52 170.04,336.61 170.38,336.7 170.71,336.79 171.04,336.88 171.38,336.97 171.71,337.05 172.04,337.14 172.38,337.22 172.71,337.29 173.04,337.37 173.38,337.45 173.71,337.52 174.04,337.59 174.38,337.66 174.71,337.73 175.04,337.79 175.38,337.86 175.71,337.92 176.04,337.98 176.38,338.04 176.71,338.1 177.04,338.15 177.37,338.21 177.71,338.26 178.04,338.32 178.37,338.37 178.71,338.42 179.04,338.47 179.37,338.51 179.71,338.56 180.04,338.6 180.37,338.65 180.71,338.69 181.04,338.73 181.37,338.77 181.71,338.81 182.04,338.85 182.37,338.89 182.71,338.92 183.04,338.96 183.37,338.99 183.71,339.03 184.04,339.06 184.37,339.09 184.71,339.12 185.04,339.15 185.37,339.18 185.71,339.21 186.04,339.24 186.37,339.27 186.71,339.29 187.04,339.32 187.37,339.34 187.71,339.37 188.04,339.39 188.37,339.41 188.71,339.44 189.04,339.46 189.37,339.48 189.71,339.5 190.04,339.52 190.37,339.54 190.71,339.56 191.04,339.58 191.37,339.59 191.71,339.61 192.04,339.63 192.37,339.64 192.71,339.66 193.04,339.68 193.37,339.69 193.71,339.71 194.04,339.72 194.37,339.73 194.71,339.75 195.04,339.76 195.37,339.77 195.71,339.79 196.04,339.8 196.37,339.81 196.7,339.82 197.04,339.83 197.37,339.84 197.7,339.85 198.04,339.86 198.37,339.87 198.7,339.88 199.04,339.89 199.37,339.9 199.7,339.91 200.04,339.92 200.37,339.93 200.7,339.93 201.04,339.94 201.37,339.95 201.7,339.96 202.04,339.96 202.37,339.97 202.7,339.98 203.04,339.98 203.37,339.99 203.7,340 204.04,340 204.37,340.01 204.7,340.01 205.04,340.02 205.37,340.02 205.7,340.03 206.04,340.03 206.37,340.04 206.7,340.04 207.04,340.05 207.37,340.05 207.7,340.06 208.04,340.06 208.37,340.07 208.7,340.07 209.04,340.07 209.37,340.08 209.7,340.08 210.04,340.08 210.37,340.09 210.7,340.09 211.04,340.09 211.37,340.1 211.7,340.1 212.04,340.1 212.37,340.11 212.7,340.11 213.04,340.11 213.37,340.11 213.7,340.12 214.04,340.12 214.37,340.12 214.7,340.12 215.04,340.13 215.37,340.13 215.7,340.13 216.03,340.13 216.37,340.14 216.7,340.14 217.03,340.14 217.37,340.14 217.7,340.14 218.03,340.14 218.37,340.15 218.7,340.15 219.03,340.15 219.37,340.15 219.7,340.15 220.03,340.15 220.37,340.15 220.7,340.16 221.03,340.16 221.37,340.16 221.7,340.16 222.03,340.16 222.37,340.16 222.7,340.16 223.03,340.16 223.37,340.17 223.7,340.17 224.03,340.17 224.37,340.17 224.7,340.17" fill="none" stroke="#000" stroke-width="1.3" stroke-linejoin="round" clip-path="url(#c2)"/>
<polyline points="32.4,322.83 32.73,322.02 33.07,321.2 33.4,320.36 33.73,319.52 34.07,318.66 34.4,317.79 34.73,316.92 35.07,316.04 35.4,315.15 35.73,314.26 36.07,313.37 36.4,312.48 36.73,311.6 37.07,310.71 37.4,309.83 37.73,308.96 38.07,308.09 38.4,307.24 38.73,306.39 39.07,305.56 39.4,304.75 39.73,303.95 40.07,303.16 40.4,302.4 40.73,301.66 41.07,300.93 41.4,300.24 41.73,299.56 42.06,298.91 42.4,298.29 42.73,297.7 43.06,297.13 43.4,296.59 43.73,296.09 44.06,295.61 44.4,295.17 44.73,294.75 45.06,294.38 45.4,294.03 45.73,293.72 46.06,293.44 46.4,293.19 46.73,292.98 47.06,292.81 47.4,292.67 47.73,292.56 48.06,292.48 48.4,292.44 48.73,292.43 49.06,292.46 49.4,292.51 49.73,292.6 50.06,292.72 50.4,292.87 50.73,293.06 51.06,293.26 51.4,293.5 51.73,293.77 52.06,294.06 52.4,294.38 52.73,294.72 53.06,295.09 53.4,295.48 53.73,295.89 54.06,296.33 54.4,296.78 54.73,297.26 55.06,297.75 55.4,298.26 55.73,298.78 56.06,299.32 56.4,299.87 56.73,300.44 57.06,301.02 57.4,301.61 57.73,302.21 58.06,302.81 58.4,303.43 58.73,304.05 59.06,304.68 59.4,305.32 59.73,305.96 60.06,306.6 60.4,307.25 60.73,307.89 61.06,308.54 61.39,309.19 61.73,309.84 62.06,310.48 62.39,311.13 62.73,311.77 63.06,312.41 63.39,313.04 63.73,313.68 64.06,314.3 64.39,314.92 64.73,315.54 65.06,316.15 65.39,316.75 65.73,317.34 66.06,317.93 66.39,318.51 66.73,319.08 67.06,319.64 67.39,320.19 67.73,320.73 68.06,321.27 68.39,321.79 68.73,322.3 69.06,322.81 69.39,323.3 69.73,323.78 70.06,324.25 70.39,324.71 70.73,325.16 71.06,325.59 71.39,326.02 71.73,326.43 72.06,326.83 72.39,327.22 72.73,327.6 73.06,327.96 73.39,328.31 73.73,328.65 74.06,328.97 74.39,329.29 74.73,329.59 75.06,329.88 75.39,330.15 75.73,330.41 76.06,330.66 76.39,330.89 76.73,331.12 77.06,331.32 77.39,331.52 77.73,331.7 78.06,331.87 78.39,332.02 78.73,332.16 79.06,332.29 79.39,332.4 79.73,332.5 80.06,332.58 80.39,332.65 80.72,332.71 81.06,332.75 81.39,332.78 81.72,332.8 82.06,332.8 82.39,332.79 82.72,332.76 83.06,332.72 83.39,332.67 83.72,332.6 84.06,332.52 84.39,332.43 84.72,332.33 85.06,332.21 85.39,332.08 85.72,331.94 86.06,331.78 86.39,331.62 86.72,331.44 87.06,331.25 87.39,331.05 87.72,330.84 88.06,330.62 88.39,330.4 88.72,330.16 89.06,329.91 89.39,329.65 89.72,329.39 90.06,329.12 90.39,328.84 90.72,328.56 91.06,328.26 91.39,327.97 91.72,327.67 92.06,327.36 92.39,327.05 92.72,326.74 93.06,326.42 93.39,326.11 93.72,325.79 94.06,325.47 94.39,325.15 94.72,324.83 95.06,324.51 95.39,324.19 95.72,323.88 96.06,323.56 96.39,323.25 96.72,322.94 97.06,322.64 97.39,322.34 97.72,322.05 98.06,321.76 98.39,321.48 98.72,321.21 99.06,320.94 99.39,320.68 99.72,320.43 100.05,320.19 100.39,319.95 100.72,319.72 101.05,319.51 101.39,319.3 101.72,319.1 102.05,318.91 102.39,318.73 102.72,318.56 103.05,318.41 103.39,318.26 103.72,318.12 104.05,318 104.39,317.88 104.72,317.78 105.05,317.69 105.39,317.6 105.72,317.53 106.05,317.47 106.39,317.42 106.72,317.38 107.05,317.35 107.39,317.33 107.72,317.32 108.05,317.32 108.39,317.32 108.72,317.34 109.05,317.37 109.39,317.4 109.72,317.45 110.05,317.5 110.39,317.56 110.72,317.62 111.05,317.7 111.39,317.78 111.72,317.86 112.05,317.95 112.39,318.05 112.72,318.15 113.05,318.26 113.39,318.37 113.72,318.49 114.05,318.61 114.39,318.73 114.72,318.85 115.05,318.98 115.39,319.11 115.72,319.24 116.05,319.37 116.39,319.5 116.72,319.64 117.05,319.77 117.39,319.9 117.72,320.03 118.05,320.17 118.39,320.3 118.72,320.42 119.05,320.55 119.38,320.67 119.72,320.8 120.05,320.91 120.38,321.03 120.72,321.14 121.05,321.25 121.38,321.36 121.72,321.46 122.05,321.55 122.38,321.65 122.72,321.73 123.05,321.82 123.38,321.9 123.72,321.97 124.05,322.04 124.38,322.1 124.72,322.16 125.05,322.21 125.38,322.26 125.72,322.3 126.05,322.34 126.38,322.37 126.72,322.39 127.05,322.41 127.38,322.43 127.72,322.43 128.05,322.44 128.38,322.43 128.72,322.43 129.05,322.41 129.38,322.39 129.72,322.37 130.05,322.34 130.38,322.31 130.72,322.27 131.05,322.22 131.38,322.17 131.72,322.12 132.05,322.06 132.38,322 132.72,321.93 133.05,321.86 133.38,321.78 133.72,321.71 134.05,321.62 134.38,321.54 134.72,321.45 135.05,321.36 135.38,321.26 135.72,321.16 136.05,321.06 136.38,320.96 136.72,320.85 137.05,320.75 137.38,320.64 137.72,320.53 138.05,320.41 138.38,320.3 138.71,320.18 139.05,320.07 139.38,319.95 139.71,319.83 140.05,319.72 140.38,319.6 140.71,319.48 141.05,319.36 141.38,319.25 141.71,319.13 142.05,319.01 142.38,318.89 142.71,318.78 143.05,318.67 143.38,318.55 143.71,318.44 144.05,318.33 144.38,318.22 144.71,318.12 145.05,318.01 145.38,317.91 145.71,317.81 146.05,317.71 146.38,317.62 146.71,317.52 147.05,317.43 147.38,317.34 147.71,317.26 148.05,317.18 148.38,317.1 148.71,317.02 149.05,316.95 149.38,316.88 149.71,316.82 150.05,316.75 150.38,316.69 150.71,316.64 151.05,316.59 151.38,316.54 151.71,316.5 152.05,316.45 152.38,316.42 152.71,316.39 153.05,316.36 153.38,316.33 153.71,316.31 154.05,316.29 154.38,316.28 154.71,316.27 155.05,316.27 155.38,316.27 155.71,316.27 156.05,316.28 156.38,316.29 156.71,316.3 157.05,316.32 157.38,316.34 157.71,316.37 158.04,316.4 158.38,316.44 158.71,316.48 159.04,316.52 159.38,316.57 159.71,316.62 160.04,316.67 160.38,316.73 160.71,316.79 161.04,316.85 161.38,316.92 161.71,316.99 162.04,317.07 162.38,317.15 162.71,317.23 163.04,317.32 163.38,317.41 163.71,317.5 164.04,317.59 164.38,317.69 164.71,317.79 165.04,317.9 165.38,318 165.71,318.11 166.04,318.23 166.38,318.34 166.71,318.46 167.04,318.58 167.38,318.71 167.71,318.83 168.04,318.96 168.38,319.09 168.71,319.22 169.04,319.36 169.38,319.49 169.71,319.63 170.04,319.77 170.38,319.92 170.71,320.06 171.04,320.21 171.38,320.36 171.71,320.5 172.04,320.66 172.38,320.81 172.71,320.96 173.04,321.12 173.38,321.27 173.71,321.43 174.04,321.59 174.38,321.75 174.71,321.91 175.04,322.07 175.38,322.23 175.71,322.4 176.04,322.56 176.38,322.72 176.71,322.89 177.04,323.06 177.37,323.22 177.71,323.39 178.04,323.56 178.37,323.72 178.71,323.89 179.04,324.06 179.37,324.22 179.71,324.39 180.04,324.56 180.37,324.73 180.71,324.9 181.04,325.06 181.37,325.23 181.71,325.4 182.04,325.57 182.37,325.73 182.71,325.9 183.04,326.06 183.37,326.23 183.71,326.39 184.04,326.56 184.37,326.72 184.71,326.89 185.04,327.05 185.37,327.21 185.71,327.37 186.04,327.53 186.37,327.69 186.71,327.85 187.04,328.01 187.37,328.17 187.71,328.32 188.04,328.48 188.37,328.63 188.71,328.79 189.04,328.94 189.37,329.09 189.71,329.24 190.04,329.39 190.37,329.54 190.71,329.69 191.04,329.83 191.37,329.98 191.71,330.12 192.04,330.26 192.37,330.41 192.71,330.55 193.04,330.69 193.37,330.82 193.71,330.96 194.04,331.1 194.37,331.23 194.71,331.36 195.04,331.5 195.37,331.63 195.71,331.75 196.04,331.88 196.37,332.01 196.7,332.13 197.04,332.26 197.37,332.38 197.7,332.5 198.04,332.62 198.37,332.74 198.7,332.86 199.04,332.98 199.37,333.09 199.7,333.2 200.04,333.32 200.37,333.43 200.7,333.54 201.04,333.65 201.37,333.75 201.7,333.86 202.04,333.96 202.37,334.07 202.7,334.17 203.04,334.27 203.37,334.37 203.7,334.46 204.04,334.56 204.37,334.66 204.7,334.75 205.04,334.84 205.37,334.94 205.7,335.03 206.04,335.12 206.37,335.2 206.7,335.29 207.04,335.38 207.37,335.46 207.7,335.54 208.04,335.62 208.37,335.71 208.7,335.78 209.04,335.86 209.37,335.94 209.7,336.02 210.04,336.09 210.37,336.17 210.7,336.24 211.04,336.31 211.37,336.38 211.7,336.45 212.04,336.52 212.37,336.59 212.7,336.65 213.04,336.72 213.37,336.78 213.7,336.85 214.04,336.91 214.37,336.97 214.7,337.03 215.04,337.09 215.37,337.15 215.7,337.2 216.03,337.26 216.37,337.32 216.7,337.37 217.03,337.43 217.37,337.48 217.7,337.53 218.03,337.58 218.37,337.63 218.7,337.68 219.03,337.73 219.37,337.78 219.7,337.82 220.03,337.87 220.37,337.92 220.7,337.96 221.03,338 221.37,338.05 221.7,338.09 222.03,338.13 222.37,338.17 222.7,338.21 223.03,338.25 223.37,338.29 223.7,338.33 224.03,338.36 224.37,338.4 224.7,338.44" fill="none" stroke="#ff2a2a" stroke-width="1.3" stroke-linejoin="round" clip-path="url(#c2)"/>
<polyline points="32.4,330.15 32.73,330.36 33.07,330.6 33.4,330.85 33.73,331.12 34.07,331.4 34.4,331.7 34.73,332.01 35.07,332.32 35.4,332.64 35.73,332.96 36.07,333.28 36.4,333.6 36.73,333.91 37.07,334.22 37.4,334.52 37.73,334.82 38.07,335.1 38.4,335.37 38.73,335.62 39.07,335.86 39.4,336.08 39.73,336.28 40.07,336.45 40.4,336.6 40.73,336.73 41.07,336.83 41.4,336.89 41.73,336.92 42.06,336.92 42.4,336.88 42.73,336.79 43.06,336.66 43.4,336.48 43.73,336.24 44.06,335.95 44.4,335.6 44.73,335.17 45.06,334.68 45.4,334.12 45.73,333.47 46.06,332.73 46.4,331.91 46.73,330.99 47.06,329.97 47.4,328.84 47.73,327.6 48.06,326.24 48.4,324.77 48.73,323.17 49.06,321.45 49.4,319.59 49.73,317.61 50.06,315.48 50.4,313.23 50.73,310.84 51.06,308.31 51.4,305.66 51.73,302.87 52.06,299.96 52.4,296.92 52.73,293.77 53.06,290.51 53.4,287.15 53.73,283.69 54.06,280.15 54.4,276.54 54.73,272.86 55.06,269.13 55.4,265.37 55.73,261.58 56.06,257.78 56.4,253.99 56.73,250.22 57.06,246.48 57.4,242.79 57.73,239.16 58.06,235.62 58.4,232.17 58.73,228.83 59.06,225.61 59.4,222.53 59.73,219.6 60.06,216.83 60.4,214.23 60.73,211.82 61.06,209.59 61.39,207.57 61.73,205.75 62.06,204.15 62.39,202.76 62.73,201.59 63.06,200.64 63.39,199.92 63.73,199.42 64.06,199.14 64.39,199.07 64.73,199.23 65.06,199.59 65.39,200.16 65.73,200.92 66.06,201.87 66.39,203.01 66.73,204.31 67.06,205.79 67.39,207.41 67.73,209.18 68.06,211.08 68.39,213.1 68.73,215.24 69.06,217.47 69.39,219.79 69.73,222.19 70.06,224.66 70.39,227.19 70.73,229.76 71.06,232.37 71.39,235 71.73,237.66 72.06,240.32 72.39,242.98 72.73,245.64 73.06,248.29 73.39,250.92 73.73,253.52 74.06,256.09 74.39,258.62 74.73,261.11 75.06,263.56 75.39,265.96 75.73,268.31 76.06,270.6 76.39,272.84 76.73,275.02 77.06,277.14 77.39,279.2 77.73,281.2 78.06,283.14 78.39,285.02 78.73,286.83 79.06,288.59 79.39,290.28 79.73,291.91 80.06,293.48 80.39,294.99 80.72,296.44 81.06,297.83 81.39,299.17 81.72,300.46 82.06,301.68 82.39,302.86 82.72,303.98 83.06,305.05 83.39,306.07 83.72,307.04 84.06,307.97 84.39,308.84 84.72,309.67 85.06,310.46 85.39,311.2 85.72,311.9 86.06,312.56 86.39,313.17 86.72,313.75 87.06,314.29 87.39,314.79 87.72,315.25 88.06,315.68 88.39,316.08 88.72,316.44 89.06,316.77 89.39,317.06 89.72,317.33 90.06,317.57 90.39,317.79 90.72,317.97 91.06,318.13 91.39,318.27 91.72,318.39 92.06,318.49 92.39,318.56 92.72,318.62 93.06,318.67 93.39,318.7 93.72,318.71 94.06,318.71 94.39,318.71 94.72,318.69 95.06,318.67 95.39,318.64 95.72,318.61 96.06,318.57 96.39,318.53 96.72,318.5 97.06,318.46 97.39,318.43 97.72,318.39 98.06,318.37 98.39,318.35 98.72,318.33 99.06,318.32 99.39,318.33 99.72,318.34 100.05,318.36 100.39,318.39 100.72,318.43 101.05,318.49 101.39,318.56 101.72,318.64 102.05,318.73 102.39,318.84 102.72,318.96 103.05,319.09 103.39,319.24 103.72,319.4 104.05,319.58 104.39,319.77 104.72,319.97 105.05,320.19 105.39,320.41 105.72,320.65 106.05,320.9 106.39,321.17 106.72,321.44 107.05,321.72 107.39,322.02 107.72,322.32 108.05,322.63 108.39,322.95 108.72,323.27 109.05,323.61 109.39,323.95 109.72,324.29 110.05,324.64 110.39,324.99 110.72,325.35 111.05,325.7 111.39,326.06 111.72,326.43 112.05,326.79 112.39,327.15 112.72,327.51 113.05,327.87 113.39,328.23 113.72,328.59 114.05,328.94 114.39,329.3 114.72,329.64 115.05,329.99 115.39,330.33 115.72,330.66 116.05,330.99 116.39,331.32 116.72,331.64 117.05,331.95 117.39,332.26 117.72,332.56 118.05,332.85 118.39,333.14 118.72,333.42 119.05,333.69 119.38,333.96 119.72,334.22 120.05,334.47 120.38,334.71 120.72,334.95 121.05,335.18 121.38,335.4 121.72,335.62 122.05,335.83 122.38,336.03 122.72,336.22 123.05,336.41 123.38,336.59 123.72,336.77 124.05,336.93 124.38,337.1 124.72,337.25 125.05,337.4 125.38,337.54 125.72,337.68 126.05,337.81 126.38,337.93 126.72,338.05 127.05,338.17 127.38,338.28 127.72,338.38 128.05,338.48 128.38,338.58 128.72,338.67 129.05,338.75 129.38,338.84 129.72,338.91 130.05,338.99 130.38,339.06 130.72,339.12 131.05,339.19 131.38,339.25 131.72,339.3 132.05,339.36 132.38,339.41 132.72,339.46 133.05,339.5 133.38,339.55 133.72,339.59 134.05,339.63 134.38,339.66 134.72,339.7 135.05,339.73 135.38,339.76 135.72,339.79 136.05,339.81 136.38,339.84 136.72,339.86 137.05,339.88 137.38,339.91 137.72,339.92 138.05,339.94 138.38,339.96 138.71,339.98 139.05,339.99 139.38,340.01 139.71,340.02 140.05,340.03 140.38,340.04 140.71,340.05 141.05,340.06 141.38,340.07 141.71,340.08 142.05,340.09 142.38,340.1 142.71,340.11 143.05,340.11 143.38,340.12 143.71,340.13 144.05,340.13 144.38,340.14 144.71,340.14 145.05,340.14 145.38,340.15 145.71,340.15 146.05,340.16 146.38,340.16 146.71,340.16 147.05,340.17 147.38,340.17 147.71,340.17 148.05,340.17 148.38,340.17 148.71,340.18 149.05,340.18 149.38,340.18 149.71,340.18 150.05,340.18 150.38,340.18 150.71,340.19 151.05,340.19 151.38,340.19 151.71,340.19 152.05,340.19 152.38,340.19 152.71,340.19 153.05,340.19 153.38,340.19 153.71,340.19 154.05,340.19 154.38,340.19 154.71,340.19 155.05,340.2 155.38,340.2 155.71,340.2 156.05,340.2 156.38,340.2 156.71,340.2 157.05,340.2 157.38,340.2 157.71,340.2 158.04,340.2 158.38,340.2 158.71,340.2 159.04,340.2 159.38,340.2 159.71,340.2 160.04,340.2 160.38,340.2 160.71,340.2 161.04,340.2 161.38,340.2 161.71,340.2 162.04,340.2 162.38,340.2 162.71,340.2 163.04,340.2 163.38,340.2 163.71,340.2 164.04,340.2 164.38,340.2 164.71,340.2 165.04,340.2 165.38,340.2 165.71,340.2 166.04,340.2 166.38,340.2 166.71,340.2 167.04,340.2 167.38,340.2 167.71,340.2 168.04,340.2 168.38,340.2 168.71,340.2 169.04,340.2 169.38,340.2 169.71,340.2 170.04,340.2 170.38,340.2 170.71,340.2 171.04,340.2 171.38,340.2 171.71,340.2 172.04,340.2 172.38,340.2 172.71,340.2 173.04,340.2 173.38,340.2 173.71,340.2 174.04,340.2 174.38,340.2 174.71,340.2 175.04,340.2 175.38,340.2 175.71,340.2 176.04,340.2 176.38,340.2 176.71,340.2 177.04,340.2 177.37,340.2 177.71,340.2 178.04,340.2 178.37,340.2 178.71,340.2 179.04,340.2 179.37,340.2 179.71,340.2 180.04,340.2 180.37,340.2 180.71,340.2 181.04,340.2 181.37,340.2 181.71,340.2 182.04,340.2 182.37,340.2 182.71,340.2 183.04,340.2 183.37,340.2 183.71,340.2 184.04,340.2 184.37,340.2 184.71,340.2 185.04,340.2 185.37,340.2 185.71,340.2 186.04,340.2 186.37,340.2 186.71,340.2 187.04,340.2 187.37,340.2 187.71,340.2 188.04,340.2 188.37,340.2 188.71,340.2 189.04,340.2 189.37,340.2 189.71,340.2 190.04,340.2 190.37,340.2 190.71,340.2 191.04,340.2 191.37,340.2 191.71,340.2 192.04,340.2 192.37,340.2 192.71,340.2 193.04,340.2 193.37,340.2 193.71,340.2 194.04,340.2 194.37,340.2 194.71,340.2 195.04,340.2 195.37,340.2 195.71,340.2 196.04,340.2 196.37,340.2 196.7,340.2 197.04,340.2 197.37,340.2 197.7,340.2 198.04,340.2 198.37,340.2 198.7,340.2 199.04,340.2 199.37,340.2 199.7,340.2 200.04,340.2 200.37,340.2 200.7,340.2 201.04,340.2 201.37,340.2 201.7,340.2 202.04,340.2 202.37,340.2 202.7,340.2 203.04,340.2 203.37,340.2 203.7,340.2 204.04,340.2 204.37,340.2 204.7,340.2 205.04,340.2 205.37,340.2 205.7,340.2 206.04,340.2 206.37,340.2 206.7,340.2 207.04,340.2 207.37,340.2 207.7,340.2 208.04,340.2 208.37,340.2 208.7,340.2 209.04,340.2 209.37,340.2 209.7,340.2 210.04,340.2 210.37,340.2 210.7,340.2 211.04,340.2 211.37,340.2 211.7,340.2 212.04,340.2 212.37,340.2 212.7,340.2 213.04,340.2 213.37,340.2 213.7,340.2 214.04,340.2 214.37,340.2 214.7,340.2 215.04,340.2 215.37,340.2 215.7,340.2 216.03,340.2 216.37,340.2 216.7,340.2 217.03,340.2 217.37,340.2 217.7,340.2 218.03,340.2 218.37,340.2 218.7,340.2 219.03,340.2 219.37,340.2 219.7,340.2 220.03,340.2 220.37,340.2 220.7,340.2 221.03,340.2 221.37,340.2 221.7,340.2 222.03,340.2 222.37,340.2 222.7,340.2 223.03,340.2 223.37,340.2 223.7,340.2 224.03,340.2 224.37,340.2 224.7,340.2" fill="none" stroke="#1a66e0" stroke-width="1.3" stroke-linejoin="round" clip-path="url(#c2)"/>
<line x1="182.5" y1="193.5" x2="198.5" y2="193.5" stroke="#000" stroke-width="1.2"/>
<text x="200.5" y="195.92" font-size="7.3" fill="#333">H</text>
<text x="205.77" y="197.74" font-size="4.67" fill="#333" font-weight="bold">2</text>
<text x="208.11" y="195.92" font-size="7.3" fill="#333">FL</text>
<text x="216.63" y="197.74" font-size="4.67" fill="#333" font-weight="bold">aq</text>
<text x="216.63" y="192.63" font-size="4.67" fill="#333" font-weight="bold">•+</text>
<line x1="182.5" y1="205.5" x2="198.5" y2="205.5" stroke="#ff2a2a" stroke-width="1.2"/>
<text x="200.5" y="208.32" font-size="7.3" fill="#333">HFL</text>
<text x="214.29" y="210.14" font-size="4.67" fill="#333" font-weight="bold">aq</text>
<text x="214.29" y="205.03" font-size="4.67" fill="#333" font-weight="bold">•</text>
<line x1="182.5" y1="217.5" x2="198.5" y2="217.5" stroke="#1a66e0" stroke-width="1.2"/>
<text x="200.5" y="220.62" font-size="7.3" fill="#333">FL</text>
<text x="209.02" y="222.44" font-size="4.67" fill="#333" font-weight="bold">aq</text>
<text x="209.02" y="217.33" font-size="4.67" fill="#333" font-weight="bold">•−</text>
<line x1="182.5" y1="229.5" x2="198.5" y2="229.5" stroke="#777" stroke-width="1.5"/>
<text x="200.5" y="232.72" font-size="7.3" fill="#333">H</text>
<text x="205.77" y="234.54" font-size="4.67" fill="#333" font-weight="bold">2</text>
<text x="208.11" y="232.72" font-size="7.3" fill="#333">FL</text>
<text x="216.63" y="234.54" font-size="4.67" fill="#333" font-weight="bold">aq</text>
<text x="216.63" y="229.44" font-size="4.67" fill="#333" font-weight="bold">•+</text>
<line x1="182.5" y1="242.5" x2="198.5" y2="242.5" stroke="#ff3333" stroke-width="1"/>
<text x="200.5" y="245.02" font-size="7.3" fill="#333">HFL</text>
<text x="214.29" y="246.84" font-size="4.67" fill="#333" font-weight="bold">aq</text>
<text x="214.29" y="241.73" font-size="4.67" fill="#333" font-weight="bold">•</text>
<line x1="182.5" y1="254.5" x2="198.5" y2="254.5" stroke="#4a90ff" stroke-width="1"/>
<text x="200.5" y="257.42" font-size="7.3" fill="#333">FL</text>
<text x="209.02" y="259.25" font-size="4.67" fill="#333" font-weight="bold">aq</text>
<text x="209.02" y="254.14" font-size="4.67" fill="#333" font-weight="bold">•−</text>
<text x="32.94" y="263.94" font-size="7.8" fill="#ff2b2b" stroke="#ff2b2b" stroke-width="0.1">π</text>
<text x="36.88" y="266.28" font-size="5.15" fill="#ff2b2b" stroke="#ff2b2b" stroke-width="0.1">3</text>
<text x="36.88" y="260.66" font-size="5.15" fill="#ff2b2b" stroke="#ff2b2b" stroke-width="0.1">β</text>
<line x1="39.97" y1="261.99" x2="44.49" y2="261.99" stroke="#ff2b2b" stroke-width="0.94"/>
<polygon points="46.99,261.99 44.49,263.47 44.49,260.51" fill="#ff2b2b"/>
<text x="47.3" y="263.94" font-size="7.8" fill="#ff2b2b" stroke="#ff2b2b" stroke-width="0.1">π</text>
<text x="51.24" y="266.28" font-size="5.15" fill="#ff2b2b" stroke="#ff2b2b" stroke-width="0.1">5</text>
<text x="51.24" y="260.66" font-size="5.15" fill="#ff2b2b" stroke="#ff2b2b" stroke-width="0.1">β</text>
<line x1="45.2" y1="272.5" x2="45.2" y2="271.6" stroke="#ff2020" stroke-width="0.6"/>
<polygon points="45.2,268.2 46.6,271.6 43.8,271.6" fill="#ff2020"/>
<text x="55.86" y="288.04" font-size="7.8" fill="#2b2bff" stroke="#2b2bff" stroke-width="0.1">π</text>
<text x="59.8" y="290.38" font-size="5.15" fill="#2b2bff" stroke="#2b2bff" stroke-width="0.1">3</text>
<text x="59.8" y="284.76" font-size="5.15" fill="#2b2bff" stroke="#2b2bff" stroke-width="0.1">α</text>
<line x1="62.97" y1="286.09" x2="67.49" y2="286.09" stroke="#2b2bff" stroke-width="0.94"/>
<polygon points="69.99,286.09 67.49,287.57 67.49,284.61" fill="#2b2bff"/>
<text x="70.3" y="288.04" font-size="7.8" fill="#2b2bff" stroke="#2b2bff" stroke-width="0.1">π</text>
<text x="74.24" y="290.38" font-size="5.15" fill="#2b2bff" stroke="#2b2bff" stroke-width="0.1">6</text>
<text x="74.24" y="284.76" font-size="5.15" fill="#2b2bff" stroke="#2b2bff" stroke-width="0.1">α</text>
<text x="33.72" y="291.44" font-size="7.8" fill="#ff2b2b" stroke="#ff2b2b" stroke-width="0.1">π</text>
<text x="37.66" y="293.78" font-size="5.15" fill="#ff2b2b" stroke="#ff2b2b" stroke-width="0.1">2</text>
<text x="37.66" y="288.16" font-size="5.15" fill="#ff2b2b" stroke="#ff2b2b" stroke-width="0.1">β</text>
<line x1="35.5" y1="293.5" x2="35.5" y2="297.5" stroke="#ff2020" stroke-width="0.6"/>
<polygon points="35.5,300 34.3,297.5 36.7,297.5" fill="#ff2020"/>
<text x="33.72" y="305.64" font-size="7.8" fill="#ff2b2b" stroke="#ff2b2b" stroke-width="0.1">π</text>
<text x="37.66" y="307.98" font-size="5.15" fill="#ff2b2b" stroke="#ff2b2b" stroke-width="0.1">5</text>
<text x="37.66" y="302.36" font-size="5.15" fill="#ff2b2b" stroke="#ff2b2b" stroke-width="0.1">β</text>
<line x1="35.5" y1="306" x2="35.14" y2="308.04" stroke="#ff2020" stroke-width="0.6"/>
<polygon points="34.7,310.5 33.96,307.83 36.32,308.25" fill="#ff2020"/>
<text x="39.96" y="313.54" font-size="7.8" fill="#222" stroke="#222" stroke-width="0.1">π</text>
<text x="43.9" y="315.88" font-size="5.15" fill="#222" stroke="#222" stroke-width="0.1">3</text>
<text x="43.9" y="310.26" font-size="5.15" fill="#222" stroke="#222" stroke-width="0.1">α</text>
<line x1="47.07" y1="311.59" x2="51.59" y2="311.59" stroke="#222" stroke-width="0.94"/>
<polygon points="54.09,311.59 51.59,313.07 51.59,310.11" fill="#222"/>
<text x="54.4" y="313.54" font-size="7.8" fill="#222" stroke="#222" stroke-width="0.1">π</text>
<text x="58.34" y="315.88" font-size="5.15" fill="#222" stroke="#222" stroke-width="0.1">5</text>
<text x="58.34" y="310.26" font-size="5.15" fill="#222" stroke="#222" stroke-width="0.1">α</text>
<text x="39.84" y="326.34" font-size="7.8" fill="#ff2b2b" stroke="#ff2b2b" stroke-width="0.1">π</text>
<text x="43.78" y="328.68" font-size="5.15" fill="#ff2b2b" stroke="#ff2b2b" stroke-width="0.1">3</text>
<text x="43.78" y="323.06" font-size="5.15" fill="#ff2b2b" stroke="#ff2b2b" stroke-width="0.1">β</text>
<line x1="46.87" y1="324.39" x2="51.39" y2="324.39" stroke="#ff2b2b" stroke-width="0.94"/>
<polygon points="53.89,324.39 51.39,325.87 51.39,322.91" fill="#ff2b2b"/>
<text x="54.2" y="326.34" font-size="7.8" fill="#ff2b2b" stroke="#ff2b2b" stroke-width="0.1">π</text>
<text x="58.14" y="328.68" font-size="5.15" fill="#ff2b2b" stroke="#ff2b2b" stroke-width="0.1">5</text>
<text x="58.14" y="323.06" font-size="5.15" fill="#ff2b2b" stroke="#ff2b2b" stroke-width="0.1">β</text>
<text x="66.54" y="305.64" font-size="7.8" fill="#ff2b2b" stroke="#ff2b2b" stroke-width="0.1">π</text>
<text x="70.48" y="307.98" font-size="5.15" fill="#ff2b2b" stroke="#ff2b2b" stroke-width="0.1">3</text>
<text x="70.48" y="302.36" font-size="5.15" fill="#ff2b2b" stroke="#ff2b2b" stroke-width="0.1">β</text>
<line x1="73.57" y1="303.69" x2="78.09" y2="303.69" stroke="#ff2b2b" stroke-width="0.94"/>
<polygon points="80.59,303.69 78.09,305.17 78.09,302.21" fill="#ff2b2b"/>
<text x="80.9" y="305.64" font-size="7.8" fill="#ff2b2b" stroke="#ff2b2b" stroke-width="0.1">π</text>
<text x="84.84" y="307.98" font-size="5.15" fill="#ff2b2b" stroke="#ff2b2b" stroke-width="0.1">5</text>
<text x="84.84" y="302.36" font-size="5.15" fill="#ff2b2b" stroke="#ff2b2b" stroke-width="0.1">β</text>
<line x1="68" y1="305.5" x2="67.1" y2="308.13" stroke="#ff2020" stroke-width="0.6"/>
<polygon points="66.3,310.5 65.97,307.75 68.24,308.52" fill="#ff2020"/>
<text x="66.86" y="321.94" font-size="7.8" fill="#2b2bff" stroke="#2b2bff" stroke-width="0.1">π</text>
<text x="70.8" y="324.28" font-size="5.15" fill="#2b2bff" stroke="#2b2bff" stroke-width="0.1">1</text>
<text x="70.8" y="318.66" font-size="5.15" fill="#2b2bff" stroke="#2b2bff" stroke-width="0.1">α</text>
<line x1="73.97" y1="319.99" x2="78.49" y2="319.99" stroke="#2b2bff" stroke-width="0.94"/>
<polygon points="80.99,319.99 78.49,321.47 78.49,318.51" fill="#2b2bff"/>
<text x="81.3" y="321.94" font-size="7.8" fill="#2b2bff" stroke="#2b2bff" stroke-width="0.1">π</text>
<text x="85.24" y="324.28" font-size="5.15" fill="#2b2bff" stroke="#2b2bff" stroke-width="0.1">5</text>
<text x="85.24" y="318.66" font-size="5.15" fill="#2b2bff" stroke="#2b2bff" stroke-width="0.1">α</text>
<text x="102.84" y="306.44" font-size="7.8" fill="#222" stroke="#222" stroke-width="0.1">π</text>
<text x="106.78" y="308.78" font-size="5.15" fill="#222" stroke="#222" stroke-width="0.1">3</text>
<text x="106.78" y="303.16" font-size="5.15" fill="#222" stroke="#222" stroke-width="0.1">β</text>
<line x1="109.87" y1="304.49" x2="114.39" y2="304.49" stroke="#222" stroke-width="0.94"/>
<polygon points="116.89,304.49 114.39,305.97 114.39,303.01" fill="#222"/>
<text x="117.2" y="306.44" font-size="7.8" fill="#222" stroke="#222" stroke-width="0.1">π</text>
<text x="121.14" y="308.78" font-size="5.15" fill="#222" stroke="#222" stroke-width="0.1">5</text>
<text x="121.14" y="303.16" font-size="5.15" fill="#222" stroke="#222" stroke-width="0.1">β</text>
<text x="89.86" y="315.84" font-size="7.8" fill="#2b2bff" stroke="#2b2bff" stroke-width="0.1">π</text>
<text x="93.8" y="318.18" font-size="5.15" fill="#2b2bff" stroke="#2b2bff" stroke-width="0.1">1</text>
<text x="93.8" y="312.56" font-size="5.15" fill="#2b2bff" stroke="#2b2bff" stroke-width="0.1">α</text>
<line x1="96.97" y1="313.89" x2="101.49" y2="313.89" stroke="#2b2bff" stroke-width="0.94"/>
<polygon points="103.99,313.89 101.49,315.37 101.49,312.41" fill="#2b2bff"/>
<text x="104.3" y="315.84" font-size="7.8" fill="#2b2bff" stroke="#2b2bff" stroke-width="0.1">π</text>
<text x="108.24" y="318.18" font-size="5.15" fill="#2b2bff" stroke="#2b2bff" stroke-width="0.1">5</text>
<text x="108.24" y="312.56" font-size="5.15" fill="#2b2bff" stroke="#2b2bff" stroke-width="0.1">α</text>
<text x="113.46" y="316.34" font-size="7.8" fill="#2b2bff" stroke="#2b2bff" stroke-width="0.1">π</text>
<text x="117.4" y="318.68" font-size="5.15" fill="#2b2bff" stroke="#2b2bff" stroke-width="0.1">2</text>
<text x="117.4" y="313.06" font-size="5.15" fill="#2b2bff" stroke="#2b2bff" stroke-width="0.1">α</text>
<line x1="120.57" y1="314.39" x2="125.09" y2="314.39" stroke="#2b2bff" stroke-width="0.94"/>
<polygon points="127.59,314.39 125.09,315.87 125.09,312.91" fill="#2b2bff"/>
<text x="127.9" y="316.34" font-size="7.8" fill="#2b2bff" stroke="#2b2bff" stroke-width="0.1">π</text>
<text x="131.84" y="318.68" font-size="5.15" fill="#2b2bff" stroke="#2b2bff" stroke-width="0.1">5</text>
<text x="131.84" y="313.06" font-size="5.15" fill="#2b2bff" stroke="#2b2bff" stroke-width="0.1">α</text>
<text x="117.14" y="329.34" font-size="7.8" fill="#ff2b2b" stroke="#ff2b2b" stroke-width="0.1">π</text>
<text x="121.08" y="331.68" font-size="5.15" fill="#ff2b2b" stroke="#ff2b2b" stroke-width="0.1">1</text>
<text x="121.08" y="326.06" font-size="5.15" fill="#ff2b2b" stroke="#ff2b2b" stroke-width="0.1">β</text>
<line x1="124.17" y1="327.39" x2="128.69" y2="327.39" stroke="#ff2b2b" stroke-width="0.94"/>
<polygon points="131.19,327.39 128.69,328.87 128.69,325.91" fill="#ff2b2b"/>
<text x="131.5" y="329.34" font-size="7.8" fill="#ff2b2b" stroke="#ff2b2b" stroke-width="0.1">π</text>
<text x="135.44" y="331.68" font-size="5.15" fill="#ff2b2b" stroke="#ff2b2b" stroke-width="0.1">5</text>
<text x="135.44" y="326.06" font-size="5.15" fill="#ff2b2b" stroke="#ff2b2b" stroke-width="0.1">β</text>
<text x="142.16" y="309.74" font-size="7.8" fill="#222" stroke="#222" stroke-width="0.1">π</text>
<text x="146.1" y="312.08" font-size="5.15" fill="#222" stroke="#222" stroke-width="0.1">3</text>
<text x="146.1" y="306.46" font-size="5.15" fill="#222" stroke="#222" stroke-width="0.1">α</text>
<line x1="149.27" y1="307.79" x2="153.79" y2="307.79" stroke="#222" stroke-width="0.94"/>
<polygon points="156.29,307.79 153.79,309.27 153.79,306.31" fill="#222"/>
<text x="156.6" y="309.74" font-size="7.8" fill="#222" stroke="#222" stroke-width="0.1">π</text>
<text x="160.54" y="312.08" font-size="5.15" fill="#222" stroke="#222" stroke-width="0.1">4</text>
<text x="160.54" y="306.46" font-size="5.15" fill="#222" stroke="#222" stroke-width="0.1">α</text>
<line x1="125.2" y1="339.5" x2="148.64" y2="313.09" stroke="#111" stroke-width="0.6"/>
<polygon points="150.5,311 149.54,313.89 147.74,312.3" fill="#111"/>
<text x="136.34" y="333.44" font-size="7.8" fill="#222" stroke="#222" stroke-width="0.1">π</text>
<text x="140.28" y="335.78" font-size="5.15" fill="#222" stroke="#222" stroke-width="0.1">1</text>
<text x="140.28" y="330.16" font-size="5.15" fill="#222" stroke="#222" stroke-width="0.1">β</text>
<line x1="143.37" y1="331.49" x2="147.89" y2="331.49" stroke="#222" stroke-width="0.94"/>
<polygon points="150.39,331.49 147.89,332.97 147.89,330.01" fill="#222"/>
<text x="150.7" y="333.44" font-size="7.8" fill="#222" stroke="#222" stroke-width="0.1">π</text>
<text x="154.64" y="335.78" font-size="5.15" fill="#222" stroke="#222" stroke-width="0.1">5</text>
<text x="154.64" y="330.16" font-size="5.15" fill="#222" stroke="#222" stroke-width="0.1">β</text>
<text x="87.94" y="334.14" font-size="7.8" fill="#ff2b2b" stroke="#ff2b2b" stroke-width="0.1">π</text>
<text x="91.88" y="336.48" font-size="5.15" fill="#ff2b2b" stroke="#ff2b2b" stroke-width="0.1">3</text>
<text x="91.88" y="330.86" font-size="5.15" fill="#ff2b2b" stroke="#ff2b2b" stroke-width="0.1">β</text>
<line x1="94.97" y1="332.19" x2="99.49" y2="332.19" stroke="#ff2b2b" stroke-width="0.94"/>
<polygon points="101.99,332.19 99.49,333.67 99.49,330.71" fill="#ff2b2b"/>
<text x="102.3" y="334.14" font-size="7.8" fill="#ff2b2b" stroke="#ff2b2b" stroke-width="0.1">π</text>
<text x="106.24" y="336.48" font-size="5.15" fill="#ff2b2b" stroke="#ff2b2b" stroke-width="0.1">5</text>
<text x="106.24" y="330.86" font-size="5.15" fill="#ff2b2b" stroke="#ff2b2b" stroke-width="0.1">β</text>
<text x="169.04" y="314.64" font-size="7.8" fill="#ff2b2b" stroke="#ff2b2b" stroke-width="0.1">π</text>
<text x="172.98" y="316.98" font-size="5.15" fill="#ff2b2b" stroke="#ff2b2b" stroke-width="0.1">1</text>
<text x="172.98" y="311.36" font-size="5.15" fill="#ff2b2b" stroke="#ff2b2b" stroke-width="0.1">β</text>
<line x1="176.07" y1="312.69" x2="180.59" y2="312.69" stroke="#ff2b2b" stroke-width="0.94"/>
<polygon points="183.09,312.69 180.59,314.17 180.59,311.21" fill="#ff2b2b"/>
<text x="183.4" y="314.64" font-size="7.8" fill="#ff2b2b" stroke="#ff2b2b" stroke-width="0.1">π</text>
<text x="187.34" y="316.98" font-size="5.15" fill="#ff2b2b" stroke="#ff2b2b" stroke-width="0.1">5</text>
<text x="187.34" y="311.36" font-size="5.15" fill="#ff2b2b" stroke="#ff2b2b" stroke-width="0.1">β</text>
<line x1="161.2" y1="323.7" x2="170.5" y2="318" stroke="#ff2020" stroke-width="0.6"/>
<line x1="94.4" y1="339.5" x2="100.28" y2="320.09" stroke="#3030ff" stroke-width="0.5"/>
<polygon points="101,317.7 101.33,320.41 99.22,319.77" fill="#3030ff"/>
<line x1="105.7" y1="335.5" x2="121.13" y2="320.07" stroke="#3030ff" stroke-width="0.5"/>
<polygon points="122.9,318.3 121.91,320.85 120.35,319.29" fill="#3030ff"/>
<line x1="112.3" y1="335.5" x2="117.1" y2="332.16" stroke="#ff2020" stroke-width="0.5"/>
<polygon points="118.9,330.9 117.67,332.98 116.52,331.34" fill="#ff2020"/>
<text x="45.56" y="353.84" font-size="7.8" fill="#444" stroke="#444" stroke-width="0.1">π</text>
<text x="49.5" y="356.18" font-size="5.15" fill="#444" stroke="#444" stroke-width="0.1">3</text>
<text x="49.5" y="350.56" font-size="5.15" fill="#444" stroke="#444" stroke-width="0.1">α</text>
<line x1="52.67" y1="351.89" x2="57.19" y2="351.89" stroke="#444" stroke-width="0.94"/>
<polygon points="59.69,351.89 57.19,353.37 57.19,350.41" fill="#444"/>
<text x="60" y="353.84" font-size="7.8" fill="#444" stroke="#444" stroke-width="0.1">π</text>
<text x="63.94" y="356.18" font-size="5.15" fill="#444" stroke="#444" stroke-width="0.1">6</text>
<text x="63.94" y="350.56" font-size="5.15" fill="#444" stroke="#444" stroke-width="0.1">α</text>
<line x1="54.2" y1="346.5" x2="53.06" y2="344.06" stroke="#111" stroke-width="0.7"/>
<polygon points="52,341.8 54.15,343.56 51.97,344.57" fill="#111"/>
<text x="128.6" y="364.4" font-size="8.9" fill="#000" font-weight="bold" text-anchor="middle">Wavelength/nm</text>
<text x="9.4" y="259" font-size="8.9" fill="#000" font-weight="bold" text-anchor="middle" transform="rotate(-90 9.4 259.0)">Absorbance</text>
<text x="3.5" y="192.8" font-size="8.5" fill="#000" font-weight="bold">C</text>
<clipPath id="c3"><rect x="253" y="184" width="193" height="155.5"/></clipPath>
<text x="253.9" y="350.4" font-size="7.6" fill="#000" font-weight="bold" text-anchor="middle">400</text>
<text x="292.22" y="350.4" font-size="7.6" fill="#000" font-weight="bold" text-anchor="middle">600</text>
<text x="330.54" y="350.4" font-size="7.6" fill="#000" font-weight="bold" text-anchor="middle">800</text>
<text x="368.86" y="350.4" font-size="7.6" fill="#000" font-weight="bold" text-anchor="middle">1000</text>
<text x="407.18" y="350.4" font-size="7.6" fill="#000" font-weight="bold" text-anchor="middle">1200</text>
<text x="445.5" y="350.4" font-size="7.6" fill="#000" font-weight="bold" text-anchor="middle">1400</text>
<text x="249.5" y="341.78" font-size="7.6" fill="#000" font-weight="bold" text-anchor="end">0.0</text>
<text x="249.5" y="313.62" font-size="7.6" fill="#000" font-weight="bold" text-anchor="end">0.2</text>
<text x="249.5" y="285.46" font-size="7.6" fill="#000" font-weight="bold" text-anchor="end">0.4</text>
<text x="249.5" y="257.3" font-size="7.6" fill="#000" font-weight="bold" text-anchor="end">0.6</text>
<text x="249.5" y="229.14" font-size="7.6" fill="#000" font-weight="bold" text-anchor="end">0.8</text>
<text x="249.5" y="200.98" font-size="7.6" fill="#000" font-weight="bold" text-anchor="end">1.0</text>
<rect x="253.5" y="184.5" width="192" height="154" fill="none" stroke="#000" stroke-width="1"/>
<line x1="253.5" y1="338.5" x2="253.5" y2="341.5" stroke="#000" stroke-width="1"/>
<line x1="292.5" y1="338.5" x2="292.5" y2="341.5" stroke="#000" stroke-width="1"/>
<line x1="330.5" y1="338.5" x2="330.5" y2="341.5" stroke="#000" stroke-width="1"/>
<line x1="368.5" y1="338.5" x2="368.5" y2="341.5" stroke="#000" stroke-width="1"/>
<line x1="407.5" y1="338.5" x2="407.5" y2="341.5" stroke="#000" stroke-width="1"/>
<line x1="445.5" y1="338.5" x2="445.5" y2="341.5" stroke="#000" stroke-width="1"/>
<line x1="273.5" y1="338.5" x2="273.5" y2="340.5" stroke="#000" stroke-width="1"/>
<line x1="311.5" y1="338.5" x2="311.5" y2="340.5" stroke="#000" stroke-width="1"/>
<line x1="349.5" y1="338.5" x2="349.5" y2="340.5" stroke="#000" stroke-width="1"/>
<line x1="388.5" y1="338.5" x2="388.5" y2="340.5" stroke="#000" stroke-width="1"/>
<line x1="426.5" y1="338.5" x2="426.5" y2="340.5" stroke="#000" stroke-width="1"/>
<line x1="250.5" y1="338.5" x2="253.5" y2="338.5" stroke="#000" stroke-width="1"/>
<line x1="250.5" y1="310.5" x2="253.5" y2="310.5" stroke="#000" stroke-width="1"/>
<line x1="250.5" y1="282.5" x2="253.5" y2="282.5" stroke="#000" stroke-width="1"/>
<line x1="250.5" y1="253.5" x2="253.5" y2="253.5" stroke="#000" stroke-width="1"/>
<line x1="250.5" y1="225.5" x2="253.5" y2="225.5" stroke="#000" stroke-width="1"/>
<line x1="250.5" y1="197.5" x2="253.5" y2="197.5" stroke="#000" stroke-width="1"/>
<line x1="251.5" y1="324.5" x2="253.5" y2="324.5" stroke="#000" stroke-width="1"/>
<line x1="251.5" y1="296.5" x2="253.5" y2="296.5" stroke="#000" stroke-width="1"/>
<line x1="251.5" y1="268.5" x2="253.5" y2="268.5" stroke="#000" stroke-width="1"/>
<line x1="251.5" y1="239.5" x2="253.5" y2="239.5" stroke="#000" stroke-width="1"/>
<line x1="251.5" y1="211.5" x2="253.5" y2="211.5" stroke="#000" stroke-width="1"/>
<polyline points="253.9,338.4 254.23,338.4 254.57,338.4 254.9,338.4 255.23,338.4 255.57,338.4 255.9,338.4 256.23,338.4 256.57,338.4 256.9,338.4 257.23,338.4 257.57,338.4 257.9,338.4 258.23,338.4 258.57,338.4 258.9,338.4 259.23,338.4 259.56,338.4 259.9,338.4 260.23,338.4 260.56,338.4 260.9,338.4 261.23,338.4 261.56,338.4 261.9,338.4 262.23,338.4 262.56,338.4 262.9,338.4 263.23,338.4 263.56,338.4 263.9,338.4 264.23,338.4 264.56,338.4 264.9,338.4 265.23,338.4 265.56,338.4 265.9,338.4 266.23,338.4 266.56,338.4 266.9,338.4 267.23,338.4 267.56,338.4 267.9,338.4 268.23,338.4 268.56,338.4 268.89,338.4 269.23,338.4 269.56,338.4 269.89,338.39 270.23,338.39 270.56,338.39 270.89,338.39 271.23,338.39 271.56,338.39 271.89,338.39 272.23,338.38 272.56,338.38 272.89,338.38 273.23,338.38 273.56,338.37 273.89,338.37 274.23,338.36 274.56,338.36 274.89,338.35 275.23,338.35 275.56,338.34 275.89,338.33 276.23,338.32 276.56,338.31 276.89,338.3 277.23,338.29 277.56,338.28 277.89,338.27 278.22,338.25 278.56,338.24 278.89,338.22 279.22,338.2 279.56,338.18 279.89,338.16 280.22,338.13 280.56,338.1 280.89,338.08 281.22,338.05 281.56,338.01 281.89,337.98 282.22,337.94 282.56,337.9 282.89,337.85 283.22,337.8 283.56,337.75 283.89,337.7 284.22,337.64 284.56,337.58 284.89,337.51 285.22,337.44 285.56,337.37 285.89,337.29 286.22,337.21 286.56,337.12 286.89,337.03 287.22,336.94 287.55,336.83 287.89,336.73 288.22,336.62 288.55,336.5 288.89,336.37 289.22,336.25 289.55,336.11 289.89,335.97 290.22,335.82 290.55,335.67 290.89,335.51 291.22,335.35 291.55,335.17 291.89,335 292.22,334.81 292.55,334.62 292.89,334.42 293.22,334.21 293.55,334 293.89,333.78 294.22,333.56 294.55,333.33 294.89,333.09 295.22,332.84 295.55,332.59 295.89,332.33 296.22,332.06 296.55,331.79 296.89,331.51 297.22,331.22 297.55,330.93 297.88,330.63 298.22,330.32 298.55,330.01 298.88,329.69 299.22,329.37 299.55,329.04 299.88,328.71 300.22,328.37 300.55,328.02 300.88,327.67 301.22,327.32 301.55,326.95 301.88,326.59 302.22,326.22 302.55,325.85 302.88,325.47 303.22,325.09 303.55,324.71 303.88,324.32 304.22,323.93 304.55,323.53 304.88,323.14 305.22,322.74 305.55,322.34 305.88,321.94 306.22,321.54 306.55,321.13 306.88,320.73 307.21,320.32 307.55,319.91 307.88,319.51 308.21,319.1 308.55,318.69 308.88,318.29 309.21,317.88 309.55,317.48 309.88,317.08 310.21,316.68 310.55,316.28 310.88,315.88 311.21,315.49 311.55,315.1 311.88,314.71 312.21,314.32 312.55,313.94 312.88,313.56 313.21,313.19 313.55,312.82 313.88,312.45 314.21,312.09 314.55,311.73 314.88,311.38 315.21,311.03 315.55,310.69 315.88,310.35 316.21,310.02 316.54,309.7 316.88,309.38 317.21,309.06 317.54,308.76 317.88,308.45 318.21,308.16 318.54,307.87 318.88,307.59 319.21,307.32 319.54,307.05 319.88,306.79 320.21,306.53 320.54,306.29 320.88,306.05 321.21,305.82 321.54,305.59 321.88,305.37 322.21,305.16 322.54,304.96 322.88,304.77 323.21,304.58 323.54,304.4 323.88,304.23 324.21,304.07 324.54,303.91 324.88,303.76 325.21,303.62 325.54,303.49 325.87,303.36 326.21,303.24 326.54,303.13 326.87,303.03 327.21,302.93 327.54,302.85 327.87,302.77 328.21,302.69 328.54,302.63 328.87,302.57 329.21,302.52 329.54,302.47 329.87,302.44 330.21,302.41 330.54,302.38 330.87,302.37 331.21,302.36 331.54,302.36 331.87,302.36 332.21,302.37 332.54,302.39 332.87,302.42 333.21,302.45 333.54,302.5 333.87,302.54 334.21,302.6 334.54,302.66 334.87,302.73 335.21,302.81 335.54,302.89 335.87,302.98 336.2,303.07 336.54,303.17 336.87,303.28 337.2,303.39 337.54,303.5 337.87,303.63 338.2,303.76 338.54,303.89 338.87,304.03 339.2,304.17 339.54,304.32 339.87,304.47 340.2,304.63 340.54,304.79 340.87,304.96 341.2,305.12 341.54,305.3 341.87,305.48 342.2,305.66 342.54,305.84 342.87,306.03 343.2,306.22 343.54,306.42 343.87,306.62 344.2,306.82 344.54,307.02 344.87,307.23 345.2,307.44 345.53,307.65 345.87,307.86 346.2,308.08 346.53,308.29 346.87,308.51 347.2,308.74 347.53,308.96 347.87,309.18 348.2,309.41 348.53,309.64 348.87,309.87 349.2,310.1 349.53,310.33 349.87,310.56 350.2,310.8 350.53,311.03 350.87,311.27 351.2,311.5 351.53,311.74 351.87,311.98 352.2,312.21 352.53,312.45 352.87,312.69 353.2,312.93 353.53,313.16 353.87,313.4 354.2,313.64 354.53,313.88 354.86,314.12 355.2,314.35 355.53,314.59 355.86,314.83 356.2,315.06 356.53,315.3 356.86,315.53 357.2,315.77 357.53,316 357.86,316.24 358.2,316.47 358.53,316.7 358.86,316.93 359.2,317.16 359.53,317.39 359.86,317.62 360.2,317.84 360.53,318.07 360.86,318.29 361.2,318.51 361.53,318.74 361.86,318.96 362.2,319.18 362.53,319.4 362.86,319.61 363.2,319.83 363.53,320.04 363.86,320.25 364.19,320.47 364.53,320.68 364.86,320.88 365.19,321.09 365.53,321.3 365.86,321.5 366.19,321.7 366.53,321.9 366.86,322.1 367.19,322.3 367.53,322.49 367.86,322.69 368.19,322.88 368.53,323.07 368.86,323.26 369.19,323.45 369.53,323.64 369.86,323.82 370.19,324 370.53,324.18 370.86,324.36 371.19,324.54 371.53,324.72 371.86,324.89 372.19,325.06 372.53,325.24 372.86,325.4 373.19,325.57 373.53,325.74 373.86,325.9 374.19,326.07 374.52,326.23 374.86,326.39 375.19,326.54 375.52,326.7 375.86,326.85 376.19,327.01 376.52,327.16 376.86,327.31 377.19,327.45 377.52,327.6 377.86,327.74 378.19,327.89 378.52,328.03 378.86,328.17 379.19,328.3 379.52,328.44 379.86,328.58 380.19,328.71 380.52,328.84 380.86,328.97 381.19,329.1 381.52,329.23 381.86,329.35 382.19,329.48 382.52,329.6 382.86,329.72 383.19,329.84 383.52,329.96 383.85,330.07 384.19,330.19 384.52,330.3 384.85,330.42 385.19,330.53 385.52,330.64 385.85,330.74 386.19,330.85 386.52,330.96 386.85,331.06 387.19,331.16 387.52,331.26 387.85,331.37 388.19,331.46 388.52,331.56 388.85,331.66 389.19,331.75 389.52,331.85 389.85,331.94 390.19,332.03 390.52,332.12 390.85,332.21 391.19,332.3 391.52,332.38 391.85,332.47 392.19,332.55 392.52,332.64 392.85,332.72 393.18,332.8 393.52,332.88 393.85,332.96 394.18,333.04 394.52,333.11 394.85,333.19 395.18,333.26 395.52,333.34 395.85,333.41 396.18,333.48 396.52,333.55 396.85,333.62 397.18,333.69 397.52,333.76 397.85,333.83 398.18,333.89 398.52,333.96 398.85,334.02 399.18,334.08 399.52,334.15 399.85,334.21 400.18,334.27 400.52,334.33 400.85,334.39 401.18,334.44 401.52,334.5 401.85,334.56 402.18,334.61 402.51,334.67 402.85,334.72 403.18,334.78 403.51,334.83 403.85,334.88 404.18,334.93 404.51,334.98 404.85,335.03 405.18,335.08 405.51,335.13 405.85,335.17 406.18,335.22 406.51,335.27 406.85,335.31 407.18,335.36 407.51,335.4 407.85,335.45 408.18,335.49 408.51,335.53 408.85,335.57 409.18,335.61 409.51,335.65 409.85,335.69 410.18,335.73 410.51,335.77 410.85,335.81 411.18,335.85 411.51,335.88 411.85,335.92 412.18,335.96 412.51,335.99 412.84,336.03 413.18,336.06 413.51,336.09 413.84,336.13 414.18,336.16 414.51,336.19 414.84,336.23 415.18,336.26 415.51,336.29 415.84,336.32 416.18,336.35 416.51,336.38 416.84,336.41 417.18,336.44 417.51,336.46 417.84,336.49 418.18,336.52 418.51,336.55 418.84,336.57 419.18,336.6 419.51,336.63 419.84,336.65 420.18,336.68 420.51,336.7 420.84,336.73 421.18,336.75 421.51,336.77 421.84,336.8 422.17,336.82 422.51,336.84 422.84,336.87 423.17,336.89 423.51,336.91 423.84,336.93 424.17,336.95 424.51,336.97 424.84,336.99 425.17,337.01 425.51,337.03 425.84,337.05 426.17,337.07 426.51,337.09 426.84,337.11 427.17,337.13 427.51,337.15 427.84,337.16 428.17,337.18 428.51,337.2 428.84,337.22 429.17,337.23 429.51,337.25 429.84,337.27 430.17,337.28 430.51,337.3 430.84,337.31 431.17,337.33 431.5,337.34 431.84,337.36 432.17,337.37 432.5,337.39 432.84,337.4 433.17,337.42 433.5,337.43 433.84,337.44 434.17,337.46 434.5,337.47 434.84,337.48 435.17,337.5 435.5,337.51 435.84,337.52 436.17,337.53 436.5,337.55 436.84,337.56 437.17,337.57 437.5,337.58 437.84,337.59 438.17,337.6 438.5,337.62 438.84,337.63 439.17,337.64 439.5,337.65 439.84,337.66 440.17,337.67 440.5,337.68 440.83,337.69 441.17,337.7 441.5,337.71 441.83,337.72 442.17,337.73 442.5,337.74 442.83,337.75 443.17,337.76 443.5,337.76 443.83,337.77 444.17,337.78 444.5,337.79 444.83,337.8 445.17,337.81 445.5,337.82" fill="none" stroke="#000" stroke-width="1.3" stroke-linejoin="round" clip-path="url(#c3)"/>
<polyline points="253.9,338.4 254.23,338.4 254.57,338.4 254.9,338.4 255.23,338.4 255.57,338.4 255.9,338.4 256.23,338.4 256.57,338.4 256.9,338.4 257.23,338.4 257.57,338.4 257.9,338.4 258.23,338.4 258.57,338.4 258.9,338.4 259.23,338.4 259.56,338.4 259.9,338.4 260.23,338.4 260.56,338.4 260.9,338.4 261.23,338.4 261.56,338.4 261.9,338.4 262.23,338.4 262.56,338.4 262.9,338.4 263.23,338.4 263.56,338.4 263.9,338.4 264.23,338.4 264.56,338.4 264.9,338.4 265.23,338.4 265.56,338.4 265.9,338.39 266.23,338.39 266.56,338.39 266.9,338.39 267.23,338.39 267.56,338.39 267.9,338.38 268.23,338.38 268.56,338.37 268.89,338.37 269.23,338.36 269.56,338.36 269.89,338.35 270.23,338.34 270.56,338.33 270.89,338.31 271.23,338.3 271.56,338.28 271.89,338.26 272.23,338.24 272.56,338.22 272.89,338.19 273.23,338.15 273.56,338.12 273.89,338.08 274.23,338.03 274.56,337.98 274.89,337.92 275.23,337.85 275.56,337.78 275.89,337.7 276.23,337.6 276.56,337.5 276.89,337.39 277.23,337.27 277.56,337.13 277.89,336.99 278.22,336.82 278.56,336.65 278.89,336.45 279.22,336.24 279.56,336.01 279.89,335.76 280.22,335.49 280.56,335.2 280.89,334.89 281.22,334.55 281.56,334.19 281.89,333.8 282.22,333.38 282.56,332.94 282.89,332.46 283.22,331.95 283.56,331.41 283.89,330.84 284.22,330.24 284.56,329.59 284.89,328.92 285.22,328.2 285.56,327.45 285.89,326.65 286.22,325.82 286.56,324.95 286.89,324.03 287.22,323.07 287.55,322.07 287.89,321.03 288.22,319.95 288.55,318.82 288.89,317.64 289.22,316.43 289.55,315.17 289.89,313.86 290.22,312.52 290.55,311.13 290.89,309.7 291.22,308.22 291.55,306.71 291.89,305.15 292.22,303.56 292.55,301.92 292.89,300.25 293.22,298.54 293.55,296.8 293.89,295.02 294.22,293.21 294.55,291.37 294.89,289.5 295.22,287.61 295.55,285.68 295.89,283.74 296.22,281.77 296.55,279.78 296.89,277.77 297.22,275.75 297.55,273.71 297.88,271.66 298.22,269.6 298.55,267.54 298.88,265.47 299.22,263.39 299.55,261.32 299.88,259.25 300.22,257.18 300.55,255.12 300.88,253.07 301.22,251.02 301.55,249 301.88,246.98 302.22,244.99 302.55,243.01 302.88,241.06 303.22,239.13 303.55,237.22 303.88,235.35 304.22,233.5 304.55,231.69 304.88,229.91 305.22,228.16 305.55,226.46 305.88,224.79 306.22,223.16 306.55,221.57 306.88,220.03 307.21,218.53 307.55,217.08 307.88,215.67 308.21,214.32 308.55,213.01 308.88,211.75 309.21,210.54 309.55,209.39 309.88,208.28 310.21,207.23 310.55,206.24 310.88,205.29 311.21,204.4 311.55,203.57 311.88,202.79 312.21,202.07 312.55,201.4 312.88,200.78 313.21,200.22 313.55,199.72 313.88,199.27 314.21,198.88 314.55,198.54 314.88,198.25 315.21,198.01 315.55,197.83 315.88,197.7 316.21,197.63 316.54,197.6 316.88,197.62 317.21,197.7 317.54,197.81 317.88,197.98 318.21,198.19 318.54,198.45 318.88,198.76 319.21,199.1 319.54,199.49 319.88,199.92 320.21,200.39 320.54,200.9 320.88,201.45 321.21,202.04 321.54,202.66 321.88,203.32 322.21,204.01 322.54,204.74 322.88,205.49 323.21,206.28 323.54,207.1 323.88,207.95 324.21,208.82 324.54,209.72 324.88,210.65 325.21,211.6 325.54,212.57 325.87,213.57 326.21,214.59 326.54,215.63 326.87,216.68 327.21,217.76 327.54,218.85 327.87,219.95 328.21,221.08 328.54,222.21 328.87,223.36 329.21,224.52 329.54,225.69 329.87,226.88 330.21,228.07 330.54,229.27 330.87,230.48 331.21,231.69 331.54,232.91 331.87,234.14 332.21,235.37 332.54,236.6 332.87,237.84 333.21,239.07 333.54,240.31 333.87,241.55 334.21,242.79 334.54,244.03 334.87,245.27 335.21,246.51 335.54,247.74 335.87,248.97 336.2,250.2 336.54,251.43 336.87,252.65 337.2,253.86 337.54,255.07 337.87,256.27 338.2,257.47 338.54,258.66 338.87,259.84 339.2,261.02 339.54,262.19 339.87,263.35 340.2,264.5 340.54,265.64 340.87,266.78 341.2,267.9 341.54,269.02 341.87,270.12 342.2,271.22 342.54,272.31 342.87,273.38 343.2,274.45 343.54,275.5 343.87,276.54 344.2,277.58 344.54,278.6 344.87,279.61 345.2,280.6 345.53,281.59 345.87,282.57 346.2,283.53 346.53,284.48 346.87,285.43 347.2,286.35 347.53,287.27 347.87,288.18 348.2,289.07 348.53,289.95 348.87,290.82 349.2,291.68 349.53,292.53 349.87,293.36 350.2,294.19 350.53,295 350.87,295.8 351.2,296.58 351.53,297.36 351.87,298.12 352.2,298.88 352.53,299.62 352.87,300.35 353.2,301.07 353.53,301.78 353.87,302.47 354.2,303.16 354.53,303.83 354.86,304.5 355.2,305.15 355.53,305.79 355.86,306.43 356.2,307.05 356.53,307.66 356.86,308.26 357.2,308.85 357.53,309.43 357.86,310 358.2,310.56 358.53,311.11 358.86,311.65 359.2,312.19 359.53,312.71 359.86,313.22 360.2,313.73 360.53,314.22 360.86,314.71 361.2,315.19 361.53,315.65 361.86,316.11 362.2,316.57 362.53,317.01 362.86,317.44 363.2,317.87 363.53,318.29 363.86,318.7 364.19,319.11 364.53,319.5 364.86,319.89 365.19,320.27 365.53,320.64 365.86,321.01 366.19,321.37 366.53,321.72 366.86,322.07 367.19,322.41 367.53,322.74 367.86,323.07 368.19,323.39 368.53,323.7 368.86,324.01 369.19,324.31 369.53,324.6 369.86,324.89 370.19,325.18 370.53,325.45 370.86,325.73 371.19,325.99 371.53,326.25 371.86,326.51 372.19,326.76 372.53,327.01 372.86,327.25 373.19,327.48 373.53,327.71 373.86,327.94 374.19,328.16 374.52,328.38 374.86,328.59 375.19,328.8 375.52,329 375.86,329.2 376.19,329.4 376.52,329.59 376.86,329.78 377.19,329.96 377.52,330.14 377.86,330.32 378.19,330.49 378.52,330.66 378.86,330.83 379.19,330.99 379.52,331.15 379.86,331.3 380.19,331.45 380.52,331.6 380.86,331.75 381.19,331.89 381.52,332.03 381.86,332.17 382.19,332.3 382.52,332.43 382.86,332.56 383.19,332.68 383.52,332.81 383.85,332.93 384.19,333.04 384.52,333.16 384.85,333.27 385.19,333.38 385.52,333.49 385.85,333.59 386.19,333.7 386.52,333.8 386.85,333.9 387.19,333.99 387.52,334.09 387.85,334.18 388.19,334.27 388.52,334.36 388.85,334.45 389.19,334.53 389.52,334.61 389.85,334.7 390.19,334.77 390.52,334.85 390.85,334.93 391.19,335 391.52,335.08 391.85,335.15 392.19,335.22 392.52,335.28 392.85,335.35 393.18,335.42 393.52,335.48 393.85,335.54 394.18,335.6 394.52,335.66 394.85,335.72 395.18,335.78 395.52,335.83 395.85,335.89 396.18,335.94 396.52,336 396.85,336.05 397.18,336.1 397.52,336.15 397.85,336.19 398.18,336.24 398.52,336.29 398.85,336.33 399.18,336.38 399.52,336.42 399.85,336.46 400.18,336.5 400.52,336.54 400.85,336.58 401.18,336.62 401.52,336.66 401.85,336.69 402.18,336.73 402.51,336.77 402.85,336.8 403.18,336.83 403.51,336.87 403.85,336.9 404.18,336.93 404.51,336.96 404.85,336.99 405.18,337.02 405.51,337.05 405.85,337.08 406.18,337.11 406.51,337.13 406.85,337.16 407.18,337.19 407.51,337.21 407.85,337.24 408.18,337.26 408.51,337.29 408.85,337.31 409.18,337.33 409.51,337.35 409.85,337.38 410.18,337.4 410.51,337.42 410.85,337.44 411.18,337.46 411.51,337.48 411.85,337.5 412.18,337.52 412.51,337.53 412.84,337.55 413.18,337.57 413.51,337.59 413.84,337.6 414.18,337.62 414.51,337.64 414.84,337.65 415.18,337.67 415.51,337.68 415.84,337.7 416.18,337.71 416.51,337.73 416.84,337.74 417.18,337.75 417.51,337.77 417.84,337.78 418.18,337.79 418.51,337.8 418.84,337.82 419.18,337.83 419.51,337.84 419.84,337.85 420.18,337.86 420.51,337.87 420.84,337.88 421.18,337.89 421.51,337.9 421.84,337.91 422.17,337.92 422.51,337.93 422.84,337.94 423.17,337.95 423.51,337.96 423.84,337.97 424.17,337.98 424.51,337.99 424.84,338 425.17,338 425.51,338.01 425.84,338.02 426.17,338.03 426.51,338.03 426.84,338.04 427.17,338.05 427.51,338.06 427.84,338.06 428.17,338.07 428.51,338.08 428.84,338.08 429.17,338.09 429.51,338.1 429.84,338.1 430.17,338.11 430.51,338.11 430.84,338.12 431.17,338.12 431.5,338.13 431.84,338.13 432.17,338.14 432.5,338.15 432.84,338.15 433.17,338.16 433.5,338.16 433.84,338.16 434.17,338.17 434.5,338.17 434.84,338.18 435.17,338.18 435.5,338.19 435.84,338.19 436.17,338.19 436.5,338.2 436.84,338.2 437.17,338.21 437.5,338.21 437.84,338.21 438.17,338.22 438.5,338.22 438.84,338.22 439.17,338.23 439.5,338.23 439.84,338.23 440.17,338.24 440.5,338.24 440.83,338.24 441.17,338.25 441.5,338.25 441.83,338.25 442.17,338.26 442.5,338.26 442.83,338.26 443.17,338.26 443.5,338.27 443.83,338.27 444.17,338.27 444.5,338.27 444.83,338.28 445.17,338.28 445.5,338.28" fill="none" stroke="#ff2a2a" stroke-width="1.3" stroke-linejoin="round" clip-path="url(#c3)"/>
<polyline points="253.9,338.4 254.23,338.4 254.57,338.4 254.9,338.4 255.23,338.4 255.57,338.4 255.9,338.4 256.23,338.4 256.57,338.4 256.9,338.4 257.23,338.4 257.57,338.4 257.9,338.4 258.23,338.4 258.57,338.4 258.9,338.4 259.23,338.4 259.56,338.4 259.9,338.4 260.23,338.4 260.56,338.4 260.9,338.4 261.23,338.4 261.56,338.4 261.9,338.4 262.23,338.4 262.56,338.4 262.9,338.4 263.23,338.4 263.56,338.4 263.9,338.4 264.23,338.4 264.56,338.4 264.9,338.4 265.23,338.4 265.56,338.4 265.9,338.4 266.23,338.4 266.56,338.4 266.9,338.4 267.23,338.4 267.56,338.4 267.9,338.4 268.23,338.4 268.56,338.4 268.89,338.4 269.23,338.4 269.56,338.4 269.89,338.4 270.23,338.4 270.56,338.39 270.89,338.39 271.23,338.39 271.56,338.39 271.89,338.39 272.23,338.39 272.56,338.39 272.89,338.39 273.23,338.38 273.56,338.38 273.89,338.38 274.23,338.38 274.56,338.37 274.89,338.37 275.23,338.37 275.56,338.36 275.89,338.36 276.23,338.36 276.56,338.35 276.89,338.35 277.23,338.34 277.56,338.33 277.89,338.33 278.22,338.32 278.56,338.31 278.89,338.3 279.22,338.29 279.56,338.28 279.89,338.27 280.22,338.26 280.56,338.25 280.89,338.24 281.22,338.22 281.56,338.21 281.89,338.19 282.22,338.18 282.56,338.16 282.89,338.14 283.22,338.12 283.56,338.1 283.89,338.08 284.22,338.05 284.56,338.03 284.89,338 285.22,337.97 285.56,337.94 285.89,337.91 286.22,337.88 286.56,337.85 286.89,337.81 287.22,337.78 287.55,337.74 287.89,337.7 288.22,337.66 288.55,337.61 288.89,337.57 289.22,337.52 289.55,337.48 289.89,337.43 290.22,337.37 290.55,337.32 290.89,337.27 291.22,337.21 291.55,337.15 291.89,337.09 292.22,337.03 292.55,336.97 292.89,336.9 293.22,336.83 293.55,336.77 293.89,336.7 294.22,336.62 294.55,336.55 294.89,336.48 295.22,336.4 295.55,336.32 295.89,336.24 296.22,336.16 296.55,336.08 296.89,335.99 297.22,335.91 297.55,335.82 297.88,335.74 298.22,335.65 298.55,335.56 298.88,335.47 299.22,335.37 299.55,335.28 299.88,335.19 300.22,335.09 300.55,335 300.88,334.9 301.22,334.81 301.55,334.71 301.88,334.61 302.22,334.51 302.55,334.42 302.88,334.32 303.22,334.22 303.55,334.12 303.88,334.02 304.22,333.92 304.55,333.82 304.88,333.72 305.22,333.62 305.55,333.53 305.88,333.43 306.22,333.33 306.55,333.23 306.88,333.14 307.21,333.04 307.55,332.94 307.88,332.85 308.21,332.75 308.55,332.66 308.88,332.57 309.21,332.48 309.55,332.39 309.88,332.3 310.21,332.21 310.55,332.12 310.88,332.04 311.21,331.95 311.55,331.87 311.88,331.79 312.21,331.71 312.55,331.63 312.88,331.55 313.21,331.48 313.55,331.4 313.88,331.33 314.21,331.26 314.55,331.19 314.88,331.12 315.21,331.06 315.55,330.99 315.88,330.93 316.21,330.87 316.54,330.81 316.88,330.76 317.21,330.7 317.54,330.65 317.88,330.6 318.21,330.55 318.54,330.5 318.88,330.46 319.21,330.42 319.54,330.37 319.88,330.33 320.21,330.3 320.54,330.26 320.88,330.23 321.21,330.2 321.54,330.17 321.88,330.14 322.21,330.11 322.54,330.09 322.88,330.07 323.21,330.05 323.54,330.03 323.88,330.02 324.21,330 324.54,329.99 324.88,329.98 325.21,329.97 325.54,329.96 325.87,329.96 326.21,329.95 326.54,329.95 326.87,329.95 327.21,329.95 327.54,329.96 327.87,329.96 328.21,329.97 328.54,329.98 328.87,329.99 329.21,330 329.54,330.01 329.87,330.03 330.21,330.04 330.54,330.06 330.87,330.08 331.21,330.1 331.54,330.12 331.87,330.14 332.21,330.16 332.54,330.19 332.87,330.22 333.21,330.24 333.54,330.27 333.87,330.3 334.21,330.33 334.54,330.36 334.87,330.4 335.21,330.43 335.54,330.47 335.87,330.5 336.2,330.54 336.54,330.58 336.87,330.62 337.2,330.66 337.54,330.7 337.87,330.74 338.2,330.78 338.54,330.82 338.87,330.87 339.2,330.91 339.54,330.95 339.87,331 340.2,331.05 340.54,331.09 340.87,331.14 341.2,331.19 341.54,331.23 341.87,331.28 342.2,331.33 342.54,331.38 342.87,331.43 343.2,331.48 343.54,331.53 343.87,331.58 344.2,331.63 344.54,331.68 344.87,331.74 345.2,331.79 345.53,331.84 345.87,331.89 346.2,331.95 346.53,332 346.87,332.05 347.2,332.1 347.53,332.16 347.87,332.21 348.2,332.26 348.53,332.32 348.87,332.37 349.2,332.42 349.53,332.48 349.87,332.53 350.2,332.58 350.53,332.64 350.87,332.69 351.2,332.74 351.53,332.79 351.87,332.85 352.2,332.9 352.53,332.95 352.87,333.01 353.2,333.06 353.53,333.11 353.87,333.16 354.2,333.21 354.53,333.27 354.86,333.32 355.2,333.37 355.53,333.42 355.86,333.47 356.2,333.52 356.53,333.57 356.86,333.62 357.2,333.67 357.53,333.72 357.86,333.77 358.2,333.82 358.53,333.87 358.86,333.92 359.2,333.97 359.53,334.01 359.86,334.06 360.2,334.11 360.53,334.16 360.86,334.2 361.2,334.25 361.53,334.3 361.86,334.34 362.2,334.39 362.53,334.43 362.86,334.48 363.2,334.52 363.53,334.57 363.86,334.61 364.19,334.65 364.53,334.7 364.86,334.74 365.19,334.78 365.53,334.82 365.86,334.86 366.19,334.91 366.53,334.95 366.86,334.99 367.19,335.03 367.53,335.07 367.86,335.11 368.19,335.15 368.53,335.19 368.86,335.22 369.19,335.26 369.53,335.3 369.86,335.34 370.19,335.37 370.53,335.41 370.86,335.45 371.19,335.48 371.53,335.52 371.86,335.55 372.19,335.59 372.53,335.62 372.86,335.66 373.19,335.69 373.53,335.73 373.86,335.76 374.19,335.79 374.52,335.82 374.86,335.86 375.19,335.89 375.52,335.92 375.86,335.95 376.19,335.98 376.52,336.01 376.86,336.04 377.19,336.07 377.52,336.1 377.86,336.13 378.19,336.16 378.52,336.19 378.86,336.22 379.19,336.24 379.52,336.27 379.86,336.3 380.19,336.32 380.52,336.35 380.86,336.38 381.19,336.4 381.52,336.43 381.86,336.45 382.19,336.48 382.52,336.5 382.86,336.53 383.19,336.55 383.52,336.58 383.85,336.6 384.19,336.62 384.52,336.65 384.85,336.67 385.19,336.69 385.52,336.71 385.85,336.74 386.19,336.76 386.52,336.78 386.85,336.8 387.19,336.82 387.52,336.84 387.85,336.86 388.19,336.88 388.52,336.9 388.85,336.92 389.19,336.94 389.52,336.96 389.85,336.98 390.19,337 390.52,337.02 390.85,337.04 391.19,337.05 391.52,337.07 391.85,337.09 392.19,337.11 392.52,337.12 392.85,337.14 393.18,337.16 393.52,337.17 393.85,337.19 394.18,337.2 394.52,337.22 394.85,337.24 395.18,337.25 395.52,337.27 395.85,337.28 396.18,337.3 396.52,337.31 396.85,337.33 397.18,337.34 397.52,337.35 397.85,337.37 398.18,337.38 398.52,337.4 398.85,337.41 399.18,337.42 399.52,337.43 399.85,337.45 400.18,337.46 400.52,337.47 400.85,337.48 401.18,337.5 401.52,337.51 401.85,337.52 402.18,337.53 402.51,337.54 402.85,337.56 403.18,337.57 403.51,337.58 403.85,337.59 404.18,337.6 404.51,337.61 404.85,337.62 405.18,337.63 405.51,337.64 405.85,337.65 406.18,337.66 406.51,337.67 406.85,337.68 407.18,337.69 407.51,337.7 407.85,337.71 408.18,337.72 408.51,337.73 408.85,337.74 409.18,337.74 409.51,337.75 409.85,337.76 410.18,337.77 410.51,337.78 410.85,337.79 411.18,337.79 411.51,337.8 411.85,337.81 412.18,337.82 412.51,337.83 412.84,337.83 413.18,337.84 413.51,337.85 413.84,337.86 414.18,337.86 414.51,337.87 414.84,337.88 415.18,337.88 415.51,337.89 415.84,337.9 416.18,337.9 416.51,337.91 416.84,337.92 417.18,337.92 417.51,337.93 417.84,337.94 418.18,337.94 418.51,337.95 418.84,337.95 419.18,337.96 419.51,337.96 419.84,337.97 420.18,337.98 420.51,337.98 420.84,337.99 421.18,337.99 421.51,338 421.84,338 422.17,338.01 422.51,338.01 422.84,338.02 423.17,338.02 423.51,338.03 423.84,338.03 424.17,338.04 424.51,338.04 424.84,338.05 425.17,338.05 425.51,338.06 425.84,338.06 426.17,338.07 426.51,338.07 426.84,338.07 427.17,338.08 427.51,338.08 427.84,338.09 428.17,338.09 428.51,338.09 428.84,338.1 429.17,338.1 429.51,338.11 429.84,338.11 430.17,338.11 430.51,338.12 430.84,338.12 431.17,338.12 431.5,338.13 431.84,338.13 432.17,338.13 432.5,338.14 432.84,338.14 433.17,338.14 433.5,338.15 433.84,338.15 434.17,338.15 434.5,338.16 434.84,338.16 435.17,338.16 435.5,338.17 435.84,338.17 436.17,338.17 436.5,338.18 436.84,338.18 437.17,338.18 437.5,338.18 437.84,338.19 438.17,338.19 438.5,338.19 438.84,338.19 439.17,338.2 439.5,338.2 439.84,338.2 440.17,338.2 440.5,338.21 440.83,338.21 441.17,338.21 441.5,338.21 441.83,338.22 442.17,338.22 442.5,338.22 442.83,338.22 443.17,338.23 443.5,338.23 443.83,338.23 444.17,338.23 444.5,338.23 444.83,338.24 445.17,338.24 445.5,338.24" fill="none" stroke="#1a66e0" stroke-width="1.3" stroke-linejoin="round" clip-path="url(#c3)"/>
<text x="322" y="196.7" font-size="7.3" fill="#ff2b2b" text-anchor="middle">727.0 (0.16)</text>
<text x="327.24" y="208.8" font-size="7.8" fill="#ff2b2b" stroke="#ff2b2b" stroke-width="0.1">π</text>
<text x="331.18" y="211.14" font-size="5.15" fill="#ff2b2b" stroke="#ff2b2b" stroke-width="0.1">3</text>
<text x="331.18" y="205.52" font-size="5.15" fill="#ff2b2b" stroke="#ff2b2b" stroke-width="0.1">β</text>
<line x1="334.27" y1="206.85" x2="338.79" y2="206.85" stroke="#ff2b2b" stroke-width="0.94"/>
<polygon points="341.29,206.85 338.79,208.33 338.79,205.37" fill="#ff2b2b"/>
<text x="341.6" y="208.8" font-size="7.8" fill="#ff2b2b" stroke="#ff2b2b" stroke-width="0.1">π</text>
<text x="345.54" y="211.14" font-size="5.15" fill="#ff2b2b" stroke="#ff2b2b" stroke-width="0.1">2</text>
<text x="345.54" y="205.52" font-size="5.15" fill="#ff2b2b" stroke="#ff2b2b" stroke-width="0.1">β</text>
<text x="320.54" y="291.5" font-size="7.8" fill="#222" stroke="#222" stroke-width="0.1">π</text>
<text x="324.48" y="293.84" font-size="5.15" fill="#222" stroke="#222" stroke-width="0.1">3</text>
<text x="324.48" y="288.22" font-size="5.15" fill="#222" stroke="#222" stroke-width="0.1">β</text>
<line x1="327.57" y1="289.55" x2="332.09" y2="289.55" stroke="#222" stroke-width="0.94"/>
<polygon points="334.59,289.55 332.09,291.03 332.09,288.07" fill="#222"/>
<text x="334.9" y="291.5" font-size="7.8" fill="#222" stroke="#222" stroke-width="0.1">π</text>
<text x="338.84" y="293.84" font-size="5.15" fill="#222" stroke="#222" stroke-width="0.1">2</text>
<text x="338.84" y="288.22" font-size="5.15" fill="#222" stroke="#222" stroke-width="0.1">β</text>
<text x="331.1" y="298.8" font-size="7.3" fill="#222" text-anchor="middle">805.6 (0.04)</text>
<text x="321.65" y="321.3" font-size="7.8" fill="#2b2bff" font-weight="bold" stroke="#2b2bff" stroke-width="0.1">π</text>
<text x="325.93" y="323.64" font-size="5.15" fill="#2b2bff" font-weight="bold" stroke="#2b2bff" stroke-width="0.1">4</text>
<text x="325.93" y="318.02" font-size="5.15" fill="#2b2bff" font-weight="bold" stroke="#2b2bff" stroke-width="0.1">α</text>
<line x1="329.27" y1="319.35" x2="333.79" y2="319.35" stroke="#2b2bff" stroke-width="0.94"/>
<polygon points="336.29,319.35 333.79,320.83 333.79,317.87" fill="#2b2bff"/>
<text x="336.6" y="321.3" font-size="7.8" fill="#2b2bff" font-weight="bold" stroke="#2b2bff" stroke-width="0.1">π</text>
<text x="340.87" y="323.64" font-size="5.15" fill="#2b2bff" font-weight="bold" stroke="#2b2bff" stroke-width="0.1">3</text>
<text x="340.87" y="318.02" font-size="5.15" fill="#2b2bff" font-weight="bold" stroke="#2b2bff" stroke-width="0.1">α</text>
<text x="334.4" y="327.9" font-size="7.1" fill="#2b2bff" font-weight="bold" text-anchor="middle">776.1 (0.01)</text>
<line x1="404.6" y1="192.5" x2="420" y2="192.5" stroke="#000" stroke-width="1.3"/>
<text x="422.5" y="195.22" font-size="7.3" fill="#333">H</text>
<text x="427.77" y="197.04" font-size="4.67" fill="#333" font-weight="bold">2</text>
<text x="430.11" y="195.22" font-size="7.3" fill="#333">FL</text>
<text x="438.63" y="197.04" font-size="4.67" fill="#333" font-weight="bold">aq</text>
<text x="438.63" y="191.94" font-size="4.67" fill="#333" font-weight="bold">•+</text>
<line x1="404.6" y1="204.5" x2="420" y2="204.5" stroke="#ff2a2a" stroke-width="1.3"/>
<text x="422.5" y="207.42" font-size="7.3" fill="#333">HFL</text>
<text x="436.29" y="209.24" font-size="4.67" fill="#333" font-weight="bold">aq</text>
<text x="436.29" y="204.13" font-size="4.67" fill="#333" font-weight="bold">•</text>
<line x1="404.6" y1="216.5" x2="420" y2="216.5" stroke="#1a66e0" stroke-width="1.3"/>
<text x="422.5" y="219.32" font-size="7.3" fill="#333">FL</text>
<text x="431.02" y="221.14" font-size="4.67" fill="#333" font-weight="bold">aq</text>
<text x="431.02" y="216.03" font-size="4.67" fill="#333" font-weight="bold">•−</text>
<text x="350.1" y="363" font-size="8.1" fill="#000" font-weight="bold" text-anchor="middle">Wavelength/nm</text>
<text x="231.6" y="256.8" font-size="8.1" fill="#000" font-weight="bold" text-anchor="middle" transform="rotate(-90 231.6 256.8)">Fluorescence</text>
<text x="227.1" y="193.2" font-size="8.5" fill="#000" font-weight="bold">D</text>
<clipPath id="c4"><rect x="32" y="366" width="193" height="156.5"/></clipPath>
<text x="32.4" y="532.5" font-size="7.6" fill="#000" text-anchor="middle">300</text>
<text x="80.42" y="532.5" font-size="7.6" fill="#000" text-anchor="middle">400</text>
<text x="128.45" y="532.5" font-size="7.6" fill="#000" text-anchor="middle">500</text>
<text x="176.47" y="532.5" font-size="7.6" fill="#000" text-anchor="middle">600</text>
<text x="224.5" y="532.5" font-size="7.6" fill="#000" text-anchor="middle">700</text>
<text x="27.2" y="524.58" font-size="7.6" fill="#000" font-weight="bold" text-anchor="end">0.0</text>
<text x="27.2" y="496.58" font-size="7.6" fill="#000" font-weight="bold" text-anchor="end">0.2</text>
<text x="27.2" y="468.58" font-size="7.6" fill="#000" font-weight="bold" text-anchor="end">0.4</text>
<text x="27.2" y="440.58" font-size="7.6" fill="#000" font-weight="bold" text-anchor="end">0.6</text>
<text x="27.2" y="412.58" font-size="7.6" fill="#000" font-weight="bold" text-anchor="end">0.8</text>
<text x="27.2" y="384.58" font-size="7.6" fill="#000" font-weight="bold" text-anchor="end">1.0</text>
<rect x="32.5" y="366.5" width="192" height="155" fill="none" stroke="#000" stroke-width="1"/>
<line x1="32.5" y1="521.5" x2="32.5" y2="524.5" stroke="#000" stroke-width="1"/>
<line x1="80.5" y1="521.5" x2="80.5" y2="524.5" stroke="#000" stroke-width="1"/>
<line x1="128.5" y1="521.5" x2="128.5" y2="524.5" stroke="#000" stroke-width="1"/>
<line x1="176.5" y1="521.5" x2="176.5" y2="524.5" stroke="#000" stroke-width="1"/>
<line x1="224.5" y1="521.5" x2="224.5" y2="524.5" stroke="#000" stroke-width="1"/>
<line x1="56.5" y1="521.5" x2="56.5" y2="523.5" stroke="#000" stroke-width="1"/>
<line x1="104.5" y1="521.5" x2="104.5" y2="523.5" stroke="#000" stroke-width="1"/>
<line x1="152.5" y1="521.5" x2="152.5" y2="523.5" stroke="#000" stroke-width="1"/>
<line x1="200.5" y1="521.5" x2="200.5" y2="523.5" stroke="#000" stroke-width="1"/>
<line x1="29.5" y1="521.5" x2="32.5" y2="521.5" stroke="#000" stroke-width="1"/>
<line x1="29.5" y1="493.5" x2="32.5" y2="493.5" stroke="#000" stroke-width="1"/>
<line x1="29.5" y1="465.5" x2="32.5" y2="465.5" stroke="#000" stroke-width="1"/>
<line x1="29.5" y1="437.5" x2="32.5" y2="437.5" stroke="#000" stroke-width="1"/>
<line x1="29.5" y1="409.5" x2="32.5" y2="409.5" stroke="#000" stroke-width="1"/>
<line x1="29.5" y1="381.5" x2="32.5" y2="381.5" stroke="#000" stroke-width="1"/>
<line x1="30.5" y1="507.5" x2="32.5" y2="507.5" stroke="#000" stroke-width="1"/>
<line x1="30.5" y1="479.5" x2="32.5" y2="479.5" stroke="#000" stroke-width="1"/>
<line x1="30.5" y1="451.5" x2="32.5" y2="451.5" stroke="#000" stroke-width="1"/>
<line x1="30.5" y1="423.5" x2="32.5" y2="423.5" stroke="#000" stroke-width="1"/>
<line x1="30.5" y1="395.5" x2="32.5" y2="395.5" stroke="#000" stroke-width="1"/>
<line x1="32.5" y1="521.2" x2="32.5" y2="511.3" stroke="#cc2020" stroke-width="1.2" clip-path="url(#c4)"/>
<line x1="38.5" y1="521.2" x2="38.5" y2="506.8" stroke="#ff3333" stroke-width="1" clip-path="url(#c4)"/>
<line x1="77.5" y1="521.2" x2="77.5" y2="514.2" stroke="#ff3333" stroke-width="1" clip-path="url(#c4)"/>
<line x1="41.5" y1="521.2" x2="41.5" y2="518.1" stroke="#4a90ff" stroke-width="1" clip-path="url(#c4)"/>
<line x1="46.5" y1="521.2" x2="46.5" y2="509.3" stroke="#4a90ff" stroke-width="1" clip-path="url(#c4)"/>
<line x1="66.5" y1="521.2" x2="66.5" y2="516.2" stroke="#4a90ff" stroke-width="1" clip-path="url(#c4)"/>
<polyline points="32.4,381.21 32.73,384.72 33.07,388.19 33.4,391.63 33.73,395.01 34.06,398.33 34.4,401.58 34.73,404.76 35.06,407.87 35.4,410.9 35.73,413.88 36.06,416.8 36.4,419.67 36.73,422.52 37.06,425.34 37.39,428.16 37.73,430.99 38.06,433.84 38.39,436.72 38.73,439.64 39.06,442.59 39.39,445.59 39.72,448.62 40.06,451.69 40.39,454.79 40.72,457.9 41.06,461.02 41.39,464.13 41.72,467.22 42.05,470.27 42.39,473.26 42.72,476.19 43.05,479.03 43.39,481.78 43.72,484.42 44.05,486.95 44.39,489.36 44.72,491.65 45.05,493.81 45.38,495.84 45.72,497.74 46.05,499.52 46.38,501.18 46.72,502.71 47.05,504.14 47.38,505.46 47.71,506.68 48.05,507.8 48.38,508.84 48.71,509.8 49.05,510.68 49.38,511.49 49.71,512.23 50.05,512.92 50.38,513.55 50.71,514.14 51.04,514.68 51.38,515.18 51.71,515.64 52.04,516.06 52.38,516.45 52.71,516.82 53.04,517.15 53.37,517.46 53.71,517.75 54.04,518.01 54.37,518.26 54.71,518.49 55.04,518.7 55.37,518.9 55.71,519.08 56.04,519.24 56.37,519.4 56.7,519.54 57.04,519.67 57.37,519.8 57.7,519.91 58.04,520.01 58.37,520.11 58.7,520.2 59.03,520.28 59.37,520.35 59.7,520.42 60.03,520.49 60.37,520.55 60.7,520.6 61.03,520.65 61.36,520.7 61.7,520.74 62.03,520.78 62.36,520.81 62.7,520.85 63.03,520.88 63.36,520.9 63.7,520.93 64.03,520.95 64.36,520.97 64.69,520.99 65.03,521.01 65.36,521.03 65.69,521.04 66.03,521.06 66.36,521.07 66.69,521.08 67.02,521.09 67.36,521.1 67.69,521.11 68.02,521.12 68.36,521.12 68.69,521.13 69.02,521.14 69.36,521.14 69.69,521.15 70.02,521.15 70.35,521.16 70.69,521.16 71.02,521.16 71.35,521.17 71.69,521.17 72.02,521.17 72.35,521.18 72.68,521.18 73.02,521.18 73.35,521.18 73.68,521.18 74.02,521.18 74.35,521.19 74.68,521.19 75.01,521.19 75.35,521.19 75.68,521.19 76.01,521.19 76.35,521.19 76.68,521.19 77.01,521.19 77.35,521.19 77.68,521.19 78.01,521.2 78.34,521.2 78.68,521.2 79.01,521.2 79.34,521.2 79.68,521.2 80.01,521.2 80.34,521.2 80.67,521.2 81.01,521.2 81.34,521.2 81.67,521.2 82.01,521.2 82.34,521.2 82.67,521.2 83.01,521.2 83.34,521.2 83.67,521.2 84,521.2 84.34,521.2 84.67,521.2 85,521.2 85.34,521.2 85.67,521.2 86,521.2 86.33,521.2 86.67,521.2 87,521.2 87.33,521.2 87.67,521.2 88,521.2 88.33,521.2 88.66,521.2 89,521.2 89.33,521.2 89.66,521.2 90,521.2 90.33,521.2 90.66,521.2 91,521.2 91.33,521.2 91.66,521.2 91.99,521.2 92.33,521.2 92.66,521.2 92.99,521.2 93.33,521.2 93.66,521.2 93.99,521.2 94.32,521.2 94.66,521.2 94.99,521.2 95.32,521.2 95.66,521.2 95.99,521.2 96.32,521.2 96.66,521.2 96.99,521.2 97.32,521.2 97.65,521.2 97.99,521.2 98.32,521.2 98.65,521.2 98.99,521.2 99.32,521.2 99.65,521.2 99.98,521.2 100.32,521.2 100.65,521.2 100.98,521.2 101.32,521.2 101.65,521.2 101.98,521.2 102.32,521.2 102.65,521.2 102.98,521.2 103.31,521.2 103.65,521.2 103.98,521.2 104.31,521.2 104.65,521.2 104.98,521.2 105.31,521.2 105.64,521.2 105.98,521.2 106.31,521.2 106.64,521.2 106.98,521.2 107.31,521.2 107.64,521.2 107.97,521.2 108.31,521.2 108.64,521.2 108.97,521.2 109.31,521.2 109.64,521.2 109.97,521.2 110.31,521.2 110.64,521.2 110.97,521.2 111.3,521.2 111.64,521.2 111.97,521.2 112.3,521.2 112.64,521.2 112.97,521.2 113.3,521.2 113.63,521.2 113.97,521.2 114.3,521.2 114.63,521.2 114.97,521.2 115.3,521.2 115.63,521.2 115.97,521.2 116.3,521.2 116.63,521.2 116.96,521.2 117.3,521.2 117.63,521.2 117.96,521.2 118.3,521.2 118.63,521.2 118.96,521.2 119.29,521.2 119.63,521.2 119.96,521.2 120.29,521.2 120.63,521.2 120.96,521.2 121.29,521.2 121.62,521.2 121.96,521.2 122.29,521.2 122.62,521.2 122.96,521.2 123.29,521.2 123.62,521.2 123.96,521.2 124.29,521.2 124.62,521.2 124.95,521.2 125.29,521.2 125.62,521.2 125.95,521.2 126.29,521.2 126.62,521.2 126.95,521.2 127.28,521.2 127.62,521.2 127.95,521.2 128.28,521.2 128.62,521.2 128.95,521.2 129.28,521.2 129.62,521.2 129.95,521.2 130.28,521.2 130.61,521.2 130.95,521.2 131.28,521.2 131.61,521.2 131.95,521.2 132.28,521.2 132.61,521.2 132.94,521.2 133.28,521.2 133.61,521.2 133.94,521.2 134.28,521.2 134.61,521.2 134.94,521.2 135.28,521.2 135.61,521.2 135.94,521.2 136.27,521.2 136.61,521.2 136.94,521.2 137.27,521.2 137.61,521.2 137.94,521.2 138.27,521.2 138.6,521.2 138.94,521.2 139.27,521.2 139.6,521.2 139.94,521.2 140.27,521.2 140.6,521.2 140.93,521.2 141.27,521.2 141.6,521.2 141.93,521.2 142.27,521.2 142.6,521.2 142.93,521.2 143.27,521.2 143.6,521.2 143.93,521.2 144.26,521.2 144.6,521.2 144.93,521.2 145.26,521.2 145.6,521.2 145.93,521.2 146.26,521.2 146.59,521.2 146.93,521.2 147.26,521.2 147.59,521.2 147.93,521.2 148.26,521.2 148.59,521.2 148.93,521.2 149.26,521.2 149.59,521.2 149.92,521.2 150.26,521.2 150.59,521.2 150.92,521.2 151.26,521.2 151.59,521.2 151.92,521.2 152.25,521.2 152.59,521.2 152.92,521.2 153.25,521.2 153.59,521.2 153.92,521.2 154.25,521.2 154.58,521.2 154.92,521.2 155.25,521.2 155.58,521.2 155.92,521.2 156.25,521.2 156.58,521.2 156.92,521.2 157.25,521.2 157.58,521.2 157.91,521.2 158.25,521.2 158.58,521.2 158.91,521.2 159.25,521.2 159.58,521.2 159.91,521.2 160.24,521.2 160.58,521.2 160.91,521.2 161.24,521.2 161.58,521.2 161.91,521.2 162.24,521.2 162.58,521.2 162.91,521.2 163.24,521.2 163.57,521.2 163.91,521.2 164.24,521.2 164.57,521.2 164.91,521.2 165.24,521.2 165.57,521.2 165.9,521.2 166.24,521.2 166.57,521.2 166.9,521.2 167.24,521.2 167.57,521.2 167.9,521.2 168.24,521.2 168.57,521.2 168.9,521.2 169.23,521.2 169.57,521.2 169.9,521.2 170.23,521.2 170.57,521.2 170.9,521.2 171.23,521.2 171.56,521.2 171.9,521.2 172.23,521.2 172.56,521.2 172.9,521.2 173.23,521.2 173.56,521.2 173.89,521.2 174.23,521.2 174.56,521.2 174.89,521.2 175.23,521.2 175.56,521.2 175.89,521.2 176.23,521.2 176.56,521.2 176.89,521.2 177.22,521.2 177.56,521.2 177.89,521.2 178.22,521.2 178.56,521.2 178.89,521.2 179.22,521.2 179.55,521.2 179.89,521.2 180.22,521.2 180.55,521.2 180.89,521.2 181.22,521.2 181.55,521.2 181.89,521.2 182.22,521.2 182.55,521.2 182.88,521.2 183.22,521.2 183.55,521.2 183.88,521.2 184.22,521.2 184.55,521.2 184.88,521.2 185.21,521.2 185.55,521.2 185.88,521.2 186.21,521.2 186.55,521.2 186.88,521.2 187.21,521.2 187.54,521.2 187.88,521.2 188.21,521.2 188.54,521.2 188.88,521.2 189.21,521.2 189.54,521.2 189.88,521.2 190.21,521.2 190.54,521.2 190.87,521.2 191.21,521.2 191.54,521.2 191.87,521.2 192.21,521.2 192.54,521.2 192.87,521.2 193.2,521.2 193.54,521.2 193.87,521.2 194.2,521.2 194.54,521.2 194.87,521.2 195.2,521.2 195.54,521.2 195.87,521.2 196.2,521.2 196.53,521.2 196.87,521.2 197.2,521.2 197.53,521.2 197.87,521.2 198.2,521.2 198.53,521.2 198.86,521.2 199.2,521.2 199.53,521.2 199.86,521.2 200.2,521.2 200.53,521.2 200.86,521.2 201.19,521.2 201.53,521.2 201.86,521.2 202.19,521.2 202.53,521.2 202.86,521.2 203.19,521.2 203.53,521.2 203.86,521.2 204.19,521.2 204.52,521.2 204.86,521.2 205.19,521.2 205.52,521.2 205.86,521.2 206.19,521.2 206.52,521.2 206.85,521.2 207.19,521.2 207.52,521.2 207.85,521.2 208.19,521.2 208.52,521.2 208.85,521.2 209.19,521.2 209.52,521.2 209.85,521.2 210.18,521.2 210.52,521.2 210.85,521.2 211.18,521.2 211.52,521.2 211.85,521.2 212.18,521.2 212.51,521.2 212.85,521.2 213.18,521.2 213.51,521.2 213.85,521.2 214.18,521.2 214.51,521.2 214.85,521.2 215.18,521.2 215.51,521.2 215.84,521.2 216.18,521.2 216.51,521.2 216.84,521.2 217.18,521.2 217.51,521.2 217.84,521.2 218.17,521.2 218.51,521.2 218.84,521.2 219.17,521.2 219.51,521.2 219.84,521.2 220.17,521.2 220.5,521.2 220.84,521.2 221.17,521.2 221.5,521.2 221.84,521.2 222.17,521.2 222.5,521.2 222.84,521.2 223.17,521.2 223.5,521.2 223.83,521.2 224.17,521.2 224.5,521.2" fill="none" stroke="#000" stroke-width="1.3" stroke-linejoin="round" clip-path="url(#c4)"/>
<polyline points="32.4,429.88 32.73,429.71 33.07,429.63 33.4,429.64 33.73,429.75 34.06,429.94 34.4,430.22 34.73,430.59 35.06,431.03 35.4,431.56 35.73,432.16 36.06,432.84 36.4,433.59 36.73,434.4 37.06,435.28 37.39,436.23 37.73,437.22 38.06,438.28 38.39,439.38 38.73,440.52 39.06,441.71 39.39,442.94 39.72,444.2 40.06,445.48 40.39,446.8 40.72,448.13 41.06,449.48 41.39,450.83 41.72,452.2 42.05,453.57 42.39,454.93 42.72,456.28 43.05,457.63 43.39,458.96 43.72,460.27 44.05,461.55 44.39,462.82 44.72,464.05 45.05,465.26 45.38,466.44 45.72,467.59 46.05,468.7 46.38,469.79 46.72,470.86 47.05,471.89 47.38,472.91 47.71,473.9 48.05,474.88 48.38,475.84 48.71,476.79 49.05,477.73 49.38,478.67 49.71,479.6 50.05,480.52 50.38,481.45 50.71,482.36 51.04,483.28 51.38,484.19 51.71,485.09 52.04,485.98 52.38,486.86 52.71,487.73 53.04,488.58 53.37,489.41 53.71,490.21 54.04,490.99 54.37,491.74 54.71,492.46 55.04,493.14 55.37,493.79 55.71,494.4 56.04,494.98 56.37,495.51 56.7,496.01 57.04,496.46 57.37,496.88 57.7,497.26 58.04,497.61 58.37,497.92 58.7,498.2 59.03,498.45 59.37,498.66 59.7,498.85 60.03,499.02 60.37,499.16 60.7,499.27 61.03,499.37 61.36,499.44 61.7,499.5 62.03,499.54 62.36,499.57 62.7,499.59 63.03,499.59 63.36,499.59 63.7,499.57 64.03,499.55 64.36,499.52 64.69,499.48 65.03,499.44 65.36,499.4 65.69,499.35 66.03,499.3 66.36,499.25 66.69,499.19 67.02,499.14 67.36,499.09 67.69,499.04 68.02,498.99 68.36,498.95 68.69,498.9 69.02,498.86 69.36,498.83 69.69,498.8 70.02,498.77 70.35,498.75 70.69,498.73 71.02,498.72 71.35,498.71 71.69,498.72 72.02,498.72 72.35,498.74 72.68,498.76 73.02,498.79 73.35,498.82 73.68,498.86 74.02,498.91 74.35,498.97 74.68,499.03 75.01,499.1 75.35,499.18 75.68,499.27 76.01,499.36 76.35,499.46 76.68,499.57 77.01,499.68 77.35,499.8 77.68,499.93 78.01,500.07 78.34,500.21 78.68,500.35 79.01,500.51 79.34,500.67 79.68,500.83 80.01,501 80.34,501.18 80.67,501.36 81.01,501.55 81.34,501.74 81.67,501.94 82.01,502.14 82.34,502.35 82.67,502.56 83.01,502.77 83.34,502.99 83.67,503.21 84,503.43 84.34,503.66 84.67,503.89 85,504.12 85.34,504.35 85.67,504.59 86,504.83 86.33,505.06 86.67,505.31 87,505.55 87.33,505.79 87.67,506.03 88,506.28 88.33,506.52 88.66,506.77 89,507.01 89.33,507.25 89.66,507.5 90,507.74 90.33,507.99 90.66,508.23 91,508.47 91.33,508.71 91.66,508.95 91.99,509.18 92.33,509.42 92.66,509.65 92.99,509.89 93.33,510.12 93.66,510.35 93.99,510.57 94.32,510.8 94.66,511.02 94.99,511.24 95.32,511.45 95.66,511.67 95.99,511.88 96.32,512.09 96.66,512.3 96.99,512.5 97.32,512.7 97.65,512.9 97.99,513.1 98.32,513.29 98.65,513.48 98.99,513.67 99.32,513.85 99.65,514.03 99.98,514.21 100.32,514.38 100.65,514.56 100.98,514.73 101.32,514.89 101.65,515.05 101.98,515.21 102.32,515.37 102.65,515.52 102.98,515.67 103.31,515.82 103.65,515.97 103.98,516.11 104.31,516.25 104.65,516.38 104.98,516.51 105.31,516.64 105.64,516.77 105.98,516.9 106.31,517.02 106.64,517.14 106.98,517.25 107.31,517.36 107.64,517.48 107.97,517.58 108.31,517.69 108.64,517.79 108.97,517.89 109.31,517.99 109.64,518.09 109.97,518.18 110.31,518.27 110.64,518.36 110.97,518.44 111.3,518.53 111.64,518.61 111.97,518.69 112.3,518.77 112.64,518.84 112.97,518.91 113.3,518.99 113.63,519.05 113.97,519.12 114.3,519.19 114.63,519.25 114.97,519.31 115.3,519.37 115.63,519.43 115.97,519.49 116.3,519.54 116.63,519.6 116.96,519.65 117.3,519.7 117.63,519.75 117.96,519.8 118.3,519.84 118.63,519.89 118.96,519.93 119.29,519.97 119.63,520.01 119.96,520.05 120.29,520.09 120.63,520.13 120.96,520.17 121.29,520.2 121.62,520.23 121.96,520.27 122.29,520.3 122.62,520.33 122.96,520.36 123.29,520.39 123.62,520.42 123.96,520.44 124.29,520.47 124.62,520.49 124.95,520.52 125.29,520.54 125.62,520.57 125.95,520.59 126.29,520.61 126.62,520.63 126.95,520.65 127.28,520.67 127.62,520.69 127.95,520.71 128.28,520.72 128.62,520.74 128.95,520.76 129.28,520.77 129.62,520.79 129.95,520.8 130.28,520.82 130.61,520.83 130.95,520.84 131.28,520.86 131.61,520.87 131.95,520.88 132.28,520.89 132.61,520.9 132.94,520.91 133.28,520.93 133.61,520.94 133.94,520.94 134.28,520.95 134.61,520.96 134.94,520.97 135.28,520.98 135.61,520.99 135.94,521 136.27,521 136.61,521.01 136.94,521.02 137.27,521.02 137.61,521.03 137.94,521.04 138.27,521.04 138.6,521.05 138.94,521.05 139.27,521.06 139.6,521.07 139.94,521.07 140.27,521.08 140.6,521.08 140.93,521.08 141.27,521.09 141.6,521.09 141.93,521.1 142.27,521.1 142.6,521.1 142.93,521.11 143.27,521.11 143.6,521.11 143.93,521.12 144.26,521.12 144.6,521.12 144.93,521.13 145.26,521.13 145.6,521.13 145.93,521.14 146.26,521.14 146.59,521.14 146.93,521.14 147.26,521.14 147.59,521.15 147.93,521.15 148.26,521.15 148.59,521.15 148.93,521.15 149.26,521.16 149.59,521.16 149.92,521.16 150.26,521.16 150.59,521.16 150.92,521.16 151.26,521.17 151.59,521.17 151.92,521.17 152.25,521.17 152.59,521.17 152.92,521.17 153.25,521.17 153.59,521.17 153.92,521.17 154.25,521.18 154.58,521.18 154.92,521.18 155.25,521.18 155.58,521.18 155.92,521.18 156.25,521.18 156.58,521.18 156.92,521.18 157.25,521.18 157.58,521.18 157.91,521.18 158.25,521.18 158.58,521.19 158.91,521.19 159.25,521.19 159.58,521.19 159.91,521.19 160.24,521.19 160.58,521.19 160.91,521.19 161.24,521.19 161.58,521.19 161.91,521.19 162.24,521.19 162.58,521.19 162.91,521.19 163.24,521.19 163.57,521.19 163.91,521.19 164.24,521.19 164.57,521.19 164.91,521.19 165.24,521.19 165.57,521.19 165.9,521.19 166.24,521.19 166.57,521.19 166.9,521.19 167.24,521.19 167.57,521.19 167.9,521.2 168.24,521.2 168.57,521.2 168.9,521.2 169.23,521.2 169.57,521.2 169.9,521.2 170.23,521.2 170.57,521.2 170.9,521.2 171.23,521.2 171.56,521.2 171.9,521.2 172.23,521.2 172.56,521.2 172.9,521.2 173.23,521.2 173.56,521.2 173.89,521.2 174.23,521.2 174.56,521.2 174.89,521.2 175.23,521.2 175.56,521.2 175.89,521.2 176.23,521.2 176.56,521.2 176.89,521.2 177.22,521.2 177.56,521.2 177.89,521.2 178.22,521.2 178.56,521.2 178.89,521.2 179.22,521.2 179.55,521.2 179.89,521.2 180.22,521.2 180.55,521.2 180.89,521.2 181.22,521.2 181.55,521.2 181.89,521.2 182.22,521.2 182.55,521.2 182.88,521.2 183.22,521.2 183.55,521.2 183.88,521.2 184.22,521.2 184.55,521.2 184.88,521.2 185.21,521.2 185.55,521.2 185.88,521.2 186.21,521.2 186.55,521.2 186.88,521.2 187.21,521.2 187.54,521.2 187.88,521.2 188.21,521.2 188.54,521.2 188.88,521.2 189.21,521.2 189.54,521.2 189.88,521.2 190.21,521.2 190.54,521.2 190.87,521.2 191.21,521.2 191.54,521.2 191.87,521.2 192.21,521.2 192.54,521.2 192.87,521.2 193.2,521.2 193.54,521.2 193.87,521.2 194.2,521.2 194.54,521.2 194.87,521.2 195.2,521.2 195.54,521.2 195.87,521.2 196.2,521.2 196.53,521.2 196.87,521.2 197.2,521.2 197.53,521.2 197.87,521.2 198.2,521.2 198.53,521.2 198.86,521.2 199.2,521.2 199.53,521.2 199.86,521.2 200.2,521.2 200.53,521.2 200.86,521.2 201.19,521.2 201.53,521.2 201.86,521.2 202.19,521.2 202.53,521.2 202.86,521.2 203.19,521.2 203.53,521.2 203.86,521.2 204.19,521.2 204.52,521.2 204.86,521.2 205.19,521.2 205.52,521.2 205.86,521.2 206.19,521.2 206.52,521.2 206.85,521.2 207.19,521.2 207.52,521.2 207.85,521.2 208.19,521.2 208.52,521.2 208.85,521.2 209.19,521.2 209.52,521.2 209.85,521.2 210.18,521.2 210.52,521.2 210.85,521.2 211.18,521.2 211.52,521.2 211.85,521.2 212.18,521.2 212.51,521.2 212.85,521.2 213.18,521.2 213.51,521.2 213.85,521.2 214.18,521.2 214.51,521.2 214.85,521.2 215.18,521.2 215.51,521.2 215.84,521.2 216.18,521.2 216.51,521.2 216.84,521.2 217.18,521.2 217.51,521.2 217.84,521.2 218.17,521.2 218.51,521.2 218.84,521.2 219.17,521.2 219.51,521.2 219.84,521.2 220.17,521.2 220.5,521.2 220.84,521.2 221.17,521.2 221.5,521.2 221.84,521.2 222.17,521.2 222.5,521.2 222.84,521.2 223.17,521.2 223.5,521.2 223.83,521.2 224.17,521.2 224.5,521.2" fill="none" stroke="#ff2a2a" stroke-width="1.3" stroke-linejoin="round" clip-path="url(#c4)"/>
<polyline points="32.4,450.13 32.73,451.67 33.07,453.15 33.4,454.55 33.73,455.87 34.06,457.12 34.4,458.3 34.73,459.39 35.06,460.41 35.4,461.35 35.73,462.22 36.06,463 36.4,463.71 36.73,464.35 37.06,464.92 37.39,465.41 37.73,465.84 38.06,466.2 38.39,466.5 38.73,466.74 39.06,466.93 39.39,467.07 39.72,467.16 40.06,467.22 40.39,467.24 40.72,467.22 41.06,467.18 41.39,467.12 41.72,467.05 42.05,466.96 42.39,466.87 42.72,466.77 43.05,466.68 43.39,466.6 43.72,466.53 44.05,466.47 44.39,466.44 44.72,466.42 45.05,466.44 45.38,466.48 45.72,466.56 46.05,466.66 46.38,466.8 46.72,466.98 47.05,467.2 47.38,467.45 47.71,467.74 48.05,468.06 48.38,468.43 48.71,468.82 49.05,469.26 49.38,469.72 49.71,470.22 50.05,470.74 50.38,471.29 50.71,471.87 51.04,472.47 51.38,473.09 51.71,473.73 52.04,474.38 52.38,475.05 52.71,475.72 53.04,476.41 53.37,477.1 53.71,477.79 54.04,478.48 54.37,479.18 54.71,479.87 55.04,480.55 55.37,481.23 55.71,481.9 56.04,482.57 56.37,483.22 56.7,483.86 57.04,484.49 57.37,485.11 57.7,485.71 58.04,486.3 58.37,486.88 58.7,487.45 59.03,488 59.37,488.54 59.7,489.06 60.03,489.57 60.37,490.08 60.7,490.57 61.03,491.04 61.36,491.51 61.7,491.98 62.03,492.43 62.36,492.87 62.7,493.31 63.03,493.74 63.36,494.17 63.7,494.59 64.03,495.01 64.36,495.42 64.69,495.84 65.03,496.25 65.36,496.66 65.69,497.07 66.03,497.47 66.36,497.88 66.69,498.29 67.02,498.7 67.36,499.11 67.69,499.53 68.02,499.94 68.36,500.35 68.69,500.77 69.02,501.19 69.36,501.61 69.69,502.03 70.02,502.45 70.35,502.87 70.69,503.29 71.02,503.71 71.35,504.14 71.69,504.56 72.02,504.98 72.35,505.4 72.68,505.82 73.02,506.24 73.35,506.65 73.68,507.06 74.02,507.47 74.35,507.88 74.68,508.28 75.01,508.68 75.35,509.07 75.68,509.46 76.01,509.85 76.35,510.22 76.68,510.6 77.01,510.96 77.35,511.32 77.68,511.68 78.01,512.02 78.34,512.36 78.68,512.7 79.01,513.02 79.34,513.34 79.68,513.65 80.01,513.95 80.34,514.25 80.67,514.53 81.01,514.81 81.34,515.08 81.67,515.34 82.01,515.6 82.34,515.85 82.67,516.09 83.01,516.32 83.34,516.54 83.67,516.76 84,516.96 84.34,517.16 84.67,517.36 85,517.54 85.34,517.72 85.67,517.89 86,518.06 86.33,518.22 86.67,518.37 87,518.51 87.33,518.65 87.67,518.79 88,518.92 88.33,519.04 88.66,519.15 89,519.26 89.33,519.37 89.66,519.47 90,519.57 90.33,519.66 90.66,519.75 91,519.83 91.33,519.91 91.66,519.98 91.99,520.05 92.33,520.12 92.66,520.18 92.99,520.24 93.33,520.3 93.66,520.35 93.99,520.41 94.32,520.45 94.66,520.5 94.99,520.54 95.32,520.58 95.66,520.62 95.99,520.66 96.32,520.69 96.66,520.72 96.99,520.75 97.32,520.78 97.65,520.81 97.99,520.83 98.32,520.86 98.65,520.88 98.99,520.9 99.32,520.92 99.65,520.94 99.98,520.96 100.32,520.97 100.65,520.99 100.98,521 101.32,521.02 101.65,521.03 101.98,521.04 102.32,521.05 102.65,521.06 102.98,521.07 103.31,521.08 103.65,521.09 103.98,521.1 104.31,521.1 104.65,521.11 104.98,521.12 105.31,521.12 105.64,521.13 105.98,521.13 106.31,521.14 106.64,521.14 106.98,521.15 107.31,521.15 107.64,521.15 107.97,521.16 108.31,521.16 108.64,521.16 108.97,521.16 109.31,521.17 109.64,521.17 109.97,521.17 110.31,521.17 110.64,521.18 110.97,521.18 111.3,521.18 111.64,521.18 111.97,521.18 112.3,521.18 112.64,521.18 112.97,521.19 113.3,521.19 113.63,521.19 113.97,521.19 114.3,521.19 114.63,521.19 114.97,521.19 115.3,521.19 115.63,521.19 115.97,521.19 116.3,521.19 116.63,521.19 116.96,521.19 117.3,521.19 117.63,521.19 117.96,521.2 118.3,521.2 118.63,521.2 118.96,521.2 119.29,521.2 119.63,521.2 119.96,521.2 120.29,521.2 120.63,521.2 120.96,521.2 121.29,521.2 121.62,521.2 121.96,521.2 122.29,521.2 122.62,521.2 122.96,521.2 123.29,521.2 123.62,521.2 123.96,521.2 124.29,521.2 124.62,521.2 124.95,521.2 125.29,521.2 125.62,521.2 125.95,521.2 126.29,521.2 126.62,521.2 126.95,521.2 127.28,521.2 127.62,521.2 127.95,521.2 128.28,521.2 128.62,521.2 128.95,521.2 129.28,521.2 129.62,521.2 129.95,521.2 130.28,521.2 130.61,521.2 130.95,521.2 131.28,521.2 131.61,521.2 131.95,521.2 132.28,521.2 132.61,521.2 132.94,521.2 133.28,521.2 133.61,521.2 133.94,521.2 134.28,521.2 134.61,521.2 134.94,521.2 135.28,521.2 135.61,521.2 135.94,521.2 136.27,521.2 136.61,521.2 136.94,521.2 137.27,521.2 137.61,521.2 137.94,521.2 138.27,521.2 138.6,521.2 138.94,521.2 139.27,521.2 139.6,521.2 139.94,521.2 140.27,521.2 140.6,521.2 140.93,521.2 141.27,521.2 141.6,521.2 141.93,521.2 142.27,521.2 142.6,521.2 142.93,521.2 143.27,521.2 143.6,521.2 143.93,521.2 144.26,521.2 144.6,521.2 144.93,521.2 145.26,521.2 145.6,521.2 145.93,521.2 146.26,521.2 146.59,521.2 146.93,521.2 147.26,521.2 147.59,521.2 147.93,521.2 148.26,521.2 148.59,521.2 148.93,521.2 149.26,521.2 149.59,521.2 149.92,521.2 150.26,521.2 150.59,521.2 150.92,521.2 151.26,521.2 151.59,521.2 151.92,521.2 152.25,521.2 152.59,521.2 152.92,521.2 153.25,521.2 153.59,521.2 153.92,521.2 154.25,521.2 154.58,521.2 154.92,521.2 155.25,521.2 155.58,521.2 155.92,521.2 156.25,521.2 156.58,521.2 156.92,521.2 157.25,521.2 157.58,521.2 157.91,521.2 158.25,521.2 158.58,521.2 158.91,521.2 159.25,521.2 159.58,521.2 159.91,521.2 160.24,521.2 160.58,521.2 160.91,521.2 161.24,521.2 161.58,521.2 161.91,521.2 162.24,521.2 162.58,521.2 162.91,521.2 163.24,521.2 163.57,521.2 163.91,521.2 164.24,521.2 164.57,521.2 164.91,521.2 165.24,521.2 165.57,521.2 165.9,521.2 166.24,521.2 166.57,521.2 166.9,521.2 167.24,521.2 167.57,521.2 167.9,521.2 168.24,521.2 168.57,521.2 168.9,521.2 169.23,521.2 169.57,521.2 169.9,521.2 170.23,521.2 170.57,521.2 170.9,521.2 171.23,521.2 171.56,521.2 171.9,521.2 172.23,521.2 172.56,521.2 172.9,521.2 173.23,521.2 173.56,521.2 173.89,521.2 174.23,521.2 174.56,521.2 174.89,521.2 175.23,521.2 175.56,521.2 175.89,521.2 176.23,521.2 176.56,521.2 176.89,521.2 177.22,521.2 177.56,521.2 177.89,521.2 178.22,521.2 178.56,521.2 178.89,521.2 179.22,521.2 179.55,521.2 179.89,521.2 180.22,521.2 180.55,521.2 180.89,521.2 181.22,521.2 181.55,521.2 181.89,521.2 182.22,521.2 182.55,521.2 182.88,521.2 183.22,521.2 183.55,521.2 183.88,521.2 184.22,521.2 184.55,521.2 184.88,521.2 185.21,521.2 185.55,521.2 185.88,521.2 186.21,521.2 186.55,521.2 186.88,521.2 187.21,521.2 187.54,521.2 187.88,521.2 188.21,521.2 188.54,521.2 188.88,521.2 189.21,521.2 189.54,521.2 189.88,521.2 190.21,521.2 190.54,521.2 190.87,521.2 191.21,521.2 191.54,521.2 191.87,521.2 192.21,521.2 192.54,521.2 192.87,521.2 193.2,521.2 193.54,521.2 193.87,521.2 194.2,521.2 194.54,521.2 194.87,521.2 195.2,521.2 195.54,521.2 195.87,521.2 196.2,521.2 196.53,521.2 196.87,521.2 197.2,521.2 197.53,521.2 197.87,521.2 198.2,521.2 198.53,521.2 198.86,521.2 199.2,521.2 199.53,521.2 199.86,521.2 200.2,521.2 200.53,521.2 200.86,521.2 201.19,521.2 201.53,521.2 201.86,521.2 202.19,521.2 202.53,521.2 202.86,521.2 203.19,521.2 203.53,521.2 203.86,521.2 204.19,521.2 204.52,521.2 204.86,521.2 205.19,521.2 205.52,521.2 205.86,521.2 206.19,521.2 206.52,521.2 206.85,521.2 207.19,521.2 207.52,521.2 207.85,521.2 208.19,521.2 208.52,521.2 208.85,521.2 209.19,521.2 209.52,521.2 209.85,521.2 210.18,521.2 210.52,521.2 210.85,521.2 211.18,521.2 211.52,521.2 211.85,521.2 212.18,521.2 212.51,521.2 212.85,521.2 213.18,521.2 213.51,521.2 213.85,521.2 214.18,521.2 214.51,521.2 214.85,521.2 215.18,521.2 215.51,521.2 215.84,521.2 216.18,521.2 216.51,521.2 216.84,521.2 217.18,521.2 217.51,521.2 217.84,521.2 218.17,521.2 218.51,521.2 218.84,521.2 219.17,521.2 219.51,521.2 219.84,521.2 220.17,521.2 220.5,521.2 220.84,521.2 221.17,521.2 221.5,521.2 221.84,521.2 222.17,521.2 222.5,521.2 222.84,521.2 223.17,521.2 223.5,521.2 223.83,521.2 224.17,521.2 224.5,521.2" fill="none" stroke="#1a66e0" stroke-width="1.3" stroke-linejoin="round" clip-path="url(#c4)"/>
<line x1="175.3" y1="373.5" x2="191.3" y2="373.5" stroke="#000" stroke-width="1.2"/>
<text x="194.2" y="376.22" font-size="7.3" fill="#333">H</text>
<text x="199.47" y="378.05" font-size="4.67" fill="#333" font-weight="bold">2</text>
<text x="201.81" y="376.22" font-size="7.3" fill="#333">FLH</text>
<text x="215.6" y="378.05" font-size="4.67" fill="#333" font-weight="bold">red</text>
<text x="215.6" y="372.94" font-size="4.67" fill="#333" font-weight="bold">+</text>
<line x1="175.3" y1="384.5" x2="191.3" y2="384.5" stroke="#ff2a2a" stroke-width="1.2"/>
<text x="194.2" y="387.42" font-size="7.3" fill="#333">H</text>
<text x="199.47" y="389.25" font-size="4.67" fill="#333" font-weight="bold">2</text>
<text x="201.81" y="387.42" font-size="7.3" fill="#333">FL</text>
<text x="210.33" y="389.25" font-size="4.67" fill="#333" font-weight="bold">red</text>
<line x1="175.3" y1="396.5" x2="191.3" y2="396.5" stroke="#1a66e0" stroke-width="1.2"/>
<text x="194.2" y="399.12" font-size="7.3" fill="#333">HFL</text>
<text x="207.99" y="400.94" font-size="4.67" fill="#333" font-weight="bold">red</text>
<text x="207.99" y="395.83" font-size="4.67" fill="#333" font-weight="bold">-</text>
<line x1="175.3" y1="408.5" x2="191.3" y2="408.5" stroke="#777" stroke-width="1.5"/>
<text x="194.2" y="411.12" font-size="7.3" fill="#333">H</text>
<text x="199.47" y="412.94" font-size="4.67" fill="#333" font-weight="bold">2</text>
<text x="201.81" y="411.12" font-size="7.3" fill="#333">FLH</text>
<text x="215.6" y="412.94" font-size="4.67" fill="#333" font-weight="bold">red</text>
<text x="215.6" y="407.83" font-size="4.67" fill="#333" font-weight="bold">+</text>
<line x1="175.3" y1="418.5" x2="191.3" y2="418.5" stroke="#ff3333" stroke-width="1"/>
<text x="194.2" y="421.52" font-size="7.3" fill="#333">H</text>
<text x="199.47" y="423.35" font-size="4.67" fill="#333" font-weight="bold">2</text>
<text x="201.81" y="421.52" font-size="7.3" fill="#333">FL</text>
<text x="210.33" y="423.35" font-size="4.67" fill="#333" font-weight="bold">red</text>
<line x1="175.3" y1="430.5" x2="191.3" y2="430.5" stroke="#4a90ff" stroke-width="1"/>
<text x="194.2" y="432.92" font-size="7.3" fill="#333">HFL</text>
<text x="207.99" y="434.75" font-size="4.67" fill="#333" font-weight="bold">red</text>
<text x="207.99" y="429.63" font-size="4.67" fill="#333" font-weight="bold">-</text>
<text x="59.9" y="478.69" font-size="7.3" fill="#2b2bff" stroke="#2b2bff" stroke-width="0.1">π</text>
<text x="63.59" y="480.73" font-size="4.53" fill="#2b2bff" stroke="#2b2bff" stroke-width="0.1">3</text>
<line x1="66.29" y1="476.87" x2="70.52" y2="476.87" stroke="#2b2bff" stroke-width="0.88"/>
<polygon points="72.86,476.87 70.52,478.25 70.52,475.48" fill="#2b2bff"/>
<text x="73.15" y="478.69" font-size="7.3" fill="#2b2bff" stroke="#2b2bff" stroke-width="0.1">π</text>
<text x="76.84" y="480.73" font-size="4.53" fill="#2b2bff" stroke="#2b2bff" stroke-width="0.1">6</text>
<line x1="51.3" y1="499.6" x2="61.92" y2="480.76" stroke="#3030ff" stroke-width="0.5"/>
<polygon points="63.2,478.5 62.97,481.35 60.88,480.18" fill="#3030ff"/>
<text x="33.2" y="488.59" font-size="7.3" fill="#ff2b2b" stroke="#ff2b2b" stroke-width="0.1">π</text>
<text x="36.89" y="490.63" font-size="4.53" fill="#ff2b2b" stroke="#ff2b2b" stroke-width="0.1">3</text>
<line x1="39.59" y1="486.76" x2="43.82" y2="486.76" stroke="#ff2b2b" stroke-width="0.88"/>
<polygon points="46.16,486.76 43.82,488.15 43.82,485.38" fill="#ff2b2b"/>
<text x="46.45" y="488.59" font-size="7.3" fill="#ff2b2b" stroke="#ff2b2b" stroke-width="0.1">π</text>
<text x="50.14" y="490.63" font-size="4.53" fill="#ff2b2b" stroke="#ff2b2b" stroke-width="0.1">4</text>
<line x1="33.5" y1="520" x2="37.03" y2="495.17" stroke="#ff4040" stroke-width="0.5"/>
<polygon points="37.4,492.6 38.22,495.34 35.85,495" fill="#ff4040"/>
<text x="37.4" y="503.59" font-size="7.3" fill="#ff2b2b" stroke="#ff2b2b" stroke-width="0.1">π</text>
<text x="41.09" y="505.63" font-size="4.53" fill="#ff2b2b" stroke="#ff2b2b" stroke-width="0.1">3</text>
<line x1="43.79" y1="501.76" x2="48.02" y2="501.76" stroke="#ff2b2b" stroke-width="0.88"/>
<polygon points="50.36,501.76 48.02,503.15 48.02,500.38" fill="#ff2b2b"/>
<text x="50.65" y="503.59" font-size="7.3" fill="#ff2b2b" stroke="#ff2b2b" stroke-width="0.1">π</text>
<text x="54.34" y="505.63" font-size="4.53" fill="#ff2b2b" stroke="#ff2b2b" stroke-width="0.1">5</text>
<text x="50.6" y="507.09" font-size="7.3" fill="#2b2bff" stroke="#2b2bff" stroke-width="0.1">π</text>
<text x="54.29" y="509.13" font-size="4.53" fill="#2b2bff" stroke="#2b2bff" stroke-width="0.1">3</text>
<line x1="56.99" y1="505.26" x2="61.22" y2="505.26" stroke="#2b2bff" stroke-width="0.88"/>
<polygon points="63.56,505.26 61.22,506.65 61.22,503.88" fill="#2b2bff"/>
<text x="63.85" y="507.09" font-size="7.3" fill="#2b2bff" stroke="#2b2bff" stroke-width="0.1">π</text>
<text x="67.54" y="509.13" font-size="4.53" fill="#2b2bff" stroke="#2b2bff" stroke-width="0.1">5</text>
<text x="54.6" y="515.09" font-size="7.3" fill="#2b2bff" stroke="#2b2bff" stroke-width="0.1">π</text>
<text x="58.29" y="517.13" font-size="4.53" fill="#2b2bff" stroke="#2b2bff" stroke-width="0.1">3</text>
<line x1="60.99" y1="513.26" x2="65.22" y2="513.26" stroke="#2b2bff" stroke-width="0.88"/>
<polygon points="67.56,513.26 65.22,514.65 65.22,511.88" fill="#2b2bff"/>
<text x="67.85" y="515.09" font-size="7.3" fill="#2b2bff" stroke="#2b2bff" stroke-width="0.1">π</text>
<text x="71.54" y="517.13" font-size="4.53" fill="#2b2bff" stroke="#2b2bff" stroke-width="0.1">4</text>
<line x1="41.8" y1="518.1" x2="48.93" y2="509.82" stroke="#3030ff" stroke-width="0.5"/>
<polygon points="50.5,508 49.77,510.54 48.1,509.1" fill="#3030ff"/>
<text x="97.7" y="502.49" font-size="7.3" fill="#ff2b2b" stroke="#ff2b2b" stroke-width="0.1">π</text>
<text x="101.39" y="504.53" font-size="4.53" fill="#ff2b2b" stroke="#ff2b2b" stroke-width="0.1">3</text>
<line x1="104.09" y1="500.67" x2="108.32" y2="500.67" stroke="#ff2b2b" stroke-width="0.88"/>
<polygon points="110.66,500.67 108.32,502.05 108.32,499.28" fill="#ff2b2b"/>
<text x="110.95" y="502.49" font-size="7.3" fill="#ff2b2b" stroke="#ff2b2b" stroke-width="0.1">π</text>
<text x="114.64" y="504.53" font-size="4.53" fill="#ff2b2b" stroke="#ff2b2b" stroke-width="0.1">4</text>
<line x1="77.1" y1="514.2" x2="97.84" y2="504.68" stroke="#ff4040" stroke-width="0.5"/>
<polygon points="100.2,503.6 98.34,505.78 97.34,503.59" fill="#ff4040"/>
<text x="128.6" y="546" font-size="8.9" fill="#000" font-weight="bold" text-anchor="middle">Wavelength/nm</text>
<text x="9.4" y="440.1" font-size="8.9" fill="#000" font-weight="bold" text-anchor="middle" transform="rotate(-90 9.4 440.1)">Absorbance</text>
<text x="4.6" y="376.8" font-size="8.5" fill="#000" font-weight="bold">E</text>
<clipPath id="c5"><rect x="254" y="365" width="194" height="156.5"/></clipPath>
<text x="254.8" y="532.2" font-size="7.6" fill="#000" text-anchor="middle">300</text>
<text x="351.05" y="532.2" font-size="7.6" fill="#000" text-anchor="middle">600</text>
<text x="447.3" y="532.2" font-size="7.6" fill="#000" text-anchor="middle">900</text>
<text x="250.3" y="523.88" font-size="7.6" fill="#000" font-weight="bold" text-anchor="end">0.0</text>
<text x="250.3" y="495.68" font-size="7.6" fill="#000" font-weight="bold" text-anchor="end">0.2</text>
<text x="250.3" y="467.48" font-size="7.6" fill="#000" font-weight="bold" text-anchor="end">0.4</text>
<text x="250.3" y="439.28" font-size="7.6" fill="#000" font-weight="bold" text-anchor="end">0.6</text>
<text x="250.3" y="411.08" font-size="7.6" fill="#000" font-weight="bold" text-anchor="end">0.8</text>
<text x="250.3" y="382.88" font-size="7.6" fill="#000" font-weight="bold" text-anchor="end">1.0</text>
<rect x="254.5" y="365.5" width="193" height="155" fill="none" stroke="#000" stroke-width="1"/>
<line x1="254.5" y1="520.5" x2="254.5" y2="523.5" stroke="#000" stroke-width="1"/>
<line x1="351.5" y1="520.5" x2="351.5" y2="523.5" stroke="#000" stroke-width="1"/>
<line x1="447.5" y1="520.5" x2="447.5" y2="523.5" stroke="#000" stroke-width="1"/>
<line x1="302.5" y1="520.5" x2="302.5" y2="522.5" stroke="#000" stroke-width="1"/>
<line x1="399.5" y1="520.5" x2="399.5" y2="522.5" stroke="#000" stroke-width="1"/>
<line x1="251.5" y1="520.5" x2="254.5" y2="520.5" stroke="#000" stroke-width="1"/>
<line x1="251.5" y1="492.5" x2="254.5" y2="492.5" stroke="#000" stroke-width="1"/>
<line x1="251.5" y1="464.5" x2="254.5" y2="464.5" stroke="#000" stroke-width="1"/>
<line x1="251.5" y1="435.5" x2="254.5" y2="435.5" stroke="#000" stroke-width="1"/>
<line x1="251.5" y1="407.5" x2="254.5" y2="407.5" stroke="#000" stroke-width="1"/>
<line x1="251.5" y1="379.5" x2="254.5" y2="379.5" stroke="#000" stroke-width="1"/>
<line x1="252.5" y1="506.5" x2="254.5" y2="506.5" stroke="#000" stroke-width="1"/>
<line x1="252.5" y1="478.5" x2="254.5" y2="478.5" stroke="#000" stroke-width="1"/>
<line x1="252.5" y1="450.5" x2="254.5" y2="450.5" stroke="#000" stroke-width="1"/>
<line x1="252.5" y1="421.5" x2="254.5" y2="421.5" stroke="#000" stroke-width="1"/>
<line x1="252.5" y1="393.5" x2="254.5" y2="393.5" stroke="#000" stroke-width="1"/>
<polyline points="254.8,520.5 255.13,520.5 255.47,520.5 255.8,520.5 256.13,520.5 256.47,520.5 256.8,520.5 257.13,520.5 257.46,520.5 257.8,520.5 258.13,520.5 258.46,520.5 258.8,520.5 259.13,520.5 259.46,520.5 259.8,520.5 260.13,520.5 260.46,520.5 260.79,520.5 261.13,520.5 261.46,520.5 261.79,520.5 262.13,520.5 262.46,520.5 262.79,520.5 263.13,520.5 263.46,520.5 263.79,520.5 264.13,520.5 264.46,520.5 264.79,520.5 265.12,520.5 265.46,520.5 265.79,520.5 266.12,520.5 266.46,520.5 266.79,520.5 267.12,520.5 267.46,520.5 267.79,520.5 268.12,520.5 268.45,520.5 268.79,520.5 269.12,520.5 269.45,520.5 269.79,520.5 270.12,520.5 270.45,520.5 270.79,520.5 271.12,520.5 271.45,520.5 271.79,520.5 272.12,520.5 272.45,520.5 272.78,520.49 273.12,520.49 273.45,520.49 273.78,520.49 274.12,520.49 274.45,520.48 274.78,520.48 275.12,520.48 275.45,520.47 275.78,520.47 276.11,520.46 276.45,520.45 276.78,520.45 277.11,520.44 277.45,520.42 277.78,520.41 278.11,520.4 278.45,520.38 278.78,520.36 279.11,520.33 279.45,520.31 279.78,520.28 280.11,520.24 280.44,520.2 280.78,520.15 281.11,520.1 281.44,520.04 281.78,519.98 282.11,519.91 282.44,519.82 282.78,519.73 283.11,519.63 283.44,519.52 283.77,519.39 284.11,519.25 284.44,519.1 284.77,518.93 285.11,518.74 285.44,518.54 285.77,518.31 286.11,518.07 286.44,517.8 286.77,517.51 287.11,517.19 287.44,516.84 287.77,516.47 288.1,516.07 288.44,515.63 288.77,515.17 289.1,514.67 289.44,514.13 289.77,513.55 290.1,512.93 290.44,512.28 290.77,511.57 291.1,510.83 291.43,510.04 291.77,509.2 292.1,508.32 292.43,507.38 292.77,506.4 293.1,505.36 293.43,504.27 293.77,503.12 294.1,501.92 294.43,500.67 294.77,499.36 295.1,498 295.43,496.58 295.76,495.1 296.1,493.57 296.43,491.98 296.76,490.34 297.1,488.64 297.43,486.89 297.76,485.09 298.1,483.24 298.43,481.33 298.76,479.38 299.09,477.38 299.43,475.33 299.76,473.24 300.09,471.11 300.43,468.94 300.76,466.74 301.09,464.5 301.43,462.23 301.76,459.93 302.09,457.6 302.43,455.26 302.76,452.89 303.09,450.51 303.42,448.12 303.76,445.72 304.09,443.31 304.42,440.9 304.76,438.49 305.09,436.09 305.42,433.7 305.76,431.32 306.09,428.95 306.42,426.61 306.76,424.29 307.09,422 307.42,419.74 307.75,417.51 308.09,415.32 308.42,413.18 308.75,411.07 309.09,409.02 309.42,407.01 309.75,405.06 310.09,403.17 310.42,401.33 310.75,399.56 311.08,397.85 311.42,396.21 311.75,394.63 312.08,393.13 312.42,391.7 312.75,390.34 313.08,389.06 313.42,387.86 313.75,386.73 314.08,385.69 314.42,384.72 314.75,383.84 315.08,383.04 315.41,382.32 315.75,381.68 316.08,381.12 316.41,380.65 316.75,380.26 317.08,379.95 317.41,379.72 317.75,379.57 318.08,379.5 318.41,379.52 318.74,379.63 319.08,379.83 319.41,380.12 319.74,380.5 320.08,380.97 320.41,381.53 320.74,382.17 321.08,382.89 321.41,383.69 321.74,384.57 322.08,385.52 322.41,386.55 322.74,387.64 323.07,388.8 323.41,390.02 323.74,391.3 324.07,392.64 324.41,394.03 324.74,395.48 325.07,396.97 325.41,398.51 325.74,400.1 326.07,401.72 326.4,403.38 326.74,405.07 327.07,406.8 327.4,408.55 327.74,410.33 328.07,412.13 328.4,413.96 328.74,415.8 329.07,417.65 329.4,419.52 329.74,421.39 330.07,423.28 330.4,425.17 330.73,427.06 331.07,428.96 331.4,430.85 331.73,432.74 332.07,434.62 332.4,436.5 332.73,438.37 333.07,440.23 333.4,442.07 333.73,443.91 334.06,445.73 334.4,447.53 334.73,449.32 335.06,451.08 335.4,452.83 335.73,454.55 336.06,456.26 336.4,457.94 336.73,459.6 337.06,461.23 337.4,462.84 337.73,464.43 338.06,465.99 338.39,467.52 338.73,469.02 339.06,470.5 339.39,471.95 339.73,473.37 340.06,474.76 340.39,476.13 340.73,477.47 341.06,478.78 341.39,480.06 341.72,481.31 342.06,482.53 342.39,483.73 342.72,484.9 343.06,486.04 343.39,487.15 343.72,488.23 344.06,489.29 344.39,490.32 344.72,491.32 345.06,492.3 345.39,493.25 345.72,494.17 346.05,495.07 346.39,495.95 346.72,496.8 347.05,497.62 347.39,498.42 347.72,499.2 348.05,499.96 348.39,500.69 348.72,501.4 349.05,502.09 349.38,502.76 349.72,503.4 350.05,504.03 350.38,504.64 350.72,505.22 351.05,505.79 351.38,506.34 351.72,506.87 352.05,507.39 352.38,507.88 352.72,508.37 353.05,508.83 353.38,509.28 353.71,509.71 354.05,510.13 354.38,510.53 354.71,510.92 355.05,511.3 355.38,511.66 355.71,512.01 356.05,512.35 356.38,512.67 356.71,512.98 357.04,513.28 357.38,513.57 357.71,513.85 358.04,514.12 358.38,514.38 358.71,514.63 359.04,514.87 359.38,515.1 359.71,515.32 360.04,515.54 360.38,515.74 360.71,515.94 361.04,516.13 361.37,516.31 361.71,516.49 362.04,516.66 362.37,516.82 362.71,516.97 363.04,517.12 363.37,517.27 363.71,517.4 364.04,517.54 364.37,517.66 364.7,517.78 365.04,517.9 365.37,518.01 365.7,518.12 366.04,518.22 366.37,518.32 366.7,518.42 367.04,518.51 367.37,518.59 367.7,518.68 368.04,518.76 368.37,518.83 368.7,518.91 369.03,518.98 369.37,519.04 369.7,519.11 370.03,519.17 370.37,519.23 370.7,519.28 371.03,519.34 371.37,519.39 371.7,519.44 372.03,519.49 372.36,519.53 372.7,519.57 373.03,519.62 373.36,519.66 373.7,519.69 374.03,519.73 374.36,519.76 374.7,519.8 375.03,519.83 375.36,519.86 375.7,519.89 376.03,519.92 376.36,519.94 376.69,519.97 377.03,519.99 377.36,520.02 377.69,520.04 378.03,520.06 378.36,520.08 378.69,520.1 379.03,520.12 379.36,520.13 379.69,520.15 380.02,520.17 380.36,520.18 380.69,520.2 381.02,520.21 381.36,520.22 381.69,520.24 382.02,520.25 382.36,520.26 382.69,520.27 383.02,520.28 383.36,520.29 383.69,520.3 384.02,520.31 384.35,520.32 384.69,520.33 385.02,520.34 385.35,520.34 385.69,520.35 386.02,520.36 386.35,520.36 386.69,520.37 387.02,520.38 387.35,520.38 387.68,520.39 388.02,520.39 388.35,520.4 388.68,520.4 389.02,520.41 389.35,520.41 389.68,520.42 390.02,520.42 390.35,520.42 390.68,520.43 391.02,520.43 391.35,520.43 391.68,520.44 392.01,520.44 392.35,520.44 392.68,520.45 393.01,520.45 393.35,520.45 393.68,520.45 394.01,520.45 394.35,520.46 394.68,520.46 395.01,520.46 395.34,520.46 395.68,520.46 396.01,520.47 396.34,520.47 396.68,520.47 397.01,520.47 397.34,520.47 397.68,520.47 398.01,520.47 398.34,520.48 398.68,520.48 399.01,520.48 399.34,520.48 399.67,520.48 400.01,520.48 400.34,520.48 400.67,520.48 401.01,520.48 401.34,520.48 401.67,520.49 402.01,520.49 402.34,520.49 402.67,520.49 403.01,520.49 403.34,520.49 403.67,520.49 404,520.49 404.34,520.49 404.67,520.49 405,520.49 405.34,520.49 405.67,520.49 406,520.49 406.34,520.49 406.67,520.49 407,520.49 407.33,520.49 407.67,520.49 408,520.49 408.33,520.49 408.67,520.49 409,520.49 409.33,520.5 409.67,520.5 410,520.5 410.33,520.5 410.67,520.5 411,520.5 411.33,520.5 411.66,520.5 412,520.5 412.33,520.5 412.66,520.5 413,520.5 413.33,520.5 413.66,520.5 414,520.5 414.33,520.5 414.66,520.5 414.99,520.5 415.33,520.5 415.66,520.5 415.99,520.5 416.33,520.5 416.66,520.5 416.99,520.5 417.33,520.5 417.66,520.5 417.99,520.5 418.33,520.5 418.66,520.5 418.99,520.5 419.32,520.5 419.66,520.5 419.99,520.5 420.32,520.5 420.66,520.5 420.99,520.5 421.32,520.5 421.66,520.5 421.99,520.5 422.32,520.5 422.65,520.5 422.99,520.5 423.32,520.5 423.65,520.5 423.99,520.5 424.32,520.5 424.65,520.5 424.99,520.5 425.32,520.5 425.65,520.5 425.99,520.5 426.32,520.5 426.65,520.5 426.98,520.5 427.32,520.5 427.65,520.5 427.98,520.5 428.32,520.5 428.65,520.5 428.98,520.5 429.32,520.5 429.65,520.5 429.98,520.5 430.31,520.5 430.65,520.5 430.98,520.5 431.31,520.5 431.65,520.5 431.98,520.5 432.31,520.5 432.65,520.5 432.98,520.5 433.31,520.5 433.65,520.5 433.98,520.5 434.31,520.5 434.64,520.5 434.98,520.5 435.31,520.5 435.64,520.5 435.98,520.5 436.31,520.5 436.64,520.5 436.98,520.5 437.31,520.5 437.64,520.5 437.97,520.5 438.31,520.5 438.64,520.5 438.97,520.5 439.31,520.5 439.64,520.5 439.97,520.5 440.31,520.5 440.64,520.5 440.97,520.5 441.31,520.5 441.64,520.5 441.97,520.5 442.3,520.5 442.64,520.5 442.97,520.5 443.3,520.5 443.64,520.5 443.97,520.5 444.3,520.5 444.64,520.5 444.97,520.5 445.3,520.5 445.63,520.5 445.97,520.5 446.3,520.5 446.63,520.5 446.97,520.5 447.3,520.5" fill="none" stroke="#000" stroke-width="1.3" stroke-linejoin="round" clip-path="url(#c5)"/>
<polyline points="254.8,520.5 255.13,520.5 255.47,520.5 255.8,520.5 256.13,520.5 256.47,520.5 256.8,520.5 257.13,520.5 257.46,520.5 257.8,520.5 258.13,520.5 258.46,520.5 258.8,520.5 259.13,520.5 259.46,520.5 259.8,520.5 260.13,520.5 260.46,520.5 260.79,520.5 261.13,520.5 261.46,520.5 261.79,520.5 262.13,520.5 262.46,520.5 262.79,520.5 263.13,520.5 263.46,520.5 263.79,520.5 264.13,520.5 264.46,520.5 264.79,520.5 265.12,520.5 265.46,520.5 265.79,520.5 266.12,520.5 266.46,520.5 266.79,520.5 267.12,520.5 267.46,520.5 267.79,520.5 268.12,520.5 268.45,520.5 268.79,520.5 269.12,520.5 269.45,520.5 269.79,520.5 270.12,520.5 270.45,520.5 270.79,520.5 271.12,520.5 271.45,520.5 271.79,520.5 272.12,520.5 272.45,520.5 272.78,520.5 273.12,520.5 273.45,520.5 273.78,520.5 274.12,520.5 274.45,520.5 274.78,520.5 275.12,520.5 275.45,520.5 275.78,520.5 276.11,520.5 276.45,520.5 276.78,520.5 277.11,520.5 277.45,520.5 277.78,520.5 278.11,520.5 278.45,520.5 278.78,520.5 279.11,520.5 279.45,520.5 279.78,520.5 280.11,520.5 280.44,520.5 280.78,520.5 281.11,520.5 281.44,520.5 281.78,520.5 282.11,520.5 282.44,520.5 282.78,520.5 283.11,520.5 283.44,520.5 283.77,520.5 284.11,520.5 284.44,520.5 284.77,520.5 285.11,520.5 285.44,520.5 285.77,520.5 286.11,520.5 286.44,520.5 286.77,520.5 287.11,520.5 287.44,520.5 287.77,520.5 288.1,520.5 288.44,520.5 288.77,520.5 289.1,520.5 289.44,520.5 289.77,520.5 290.1,520.5 290.44,520.5 290.77,520.5 291.1,520.5 291.43,520.5 291.77,520.5 292.1,520.5 292.43,520.5 292.77,520.5 293.1,520.5 293.43,520.5 293.77,520.5 294.1,520.5 294.43,520.5 294.77,520.5 295.1,520.5 295.43,520.5 295.76,520.5 296.1,520.5 296.43,520.5 296.76,520.5 297.1,520.5 297.43,520.5 297.76,520.5 298.1,520.5 298.43,520.5 298.76,520.5 299.09,520.5 299.43,520.5 299.76,520.5 300.09,520.5 300.43,520.5 300.76,520.49 301.09,520.49 301.43,520.49 301.76,520.49 302.09,520.49 302.43,520.49 302.76,520.49 303.09,520.49 303.42,520.48 303.76,520.48 304.09,520.48 304.42,520.48 304.76,520.47 305.09,520.47 305.42,520.47 305.76,520.46 306.09,520.46 306.42,520.46 306.76,520.45 307.09,520.44 307.42,520.44 307.75,520.43 308.09,520.42 308.42,520.42 308.75,520.41 309.09,520.4 309.42,520.39 309.75,520.38 310.09,520.36 310.42,520.35 310.75,520.33 311.08,520.32 311.42,520.3 311.75,520.28 312.08,520.26 312.42,520.24 312.75,520.22 313.08,520.19 313.42,520.17 313.75,520.14 314.08,520.11 314.42,520.08 314.75,520.04 315.08,520.01 315.41,519.97 315.75,519.92 316.08,519.88 316.41,519.83 316.75,519.78 317.08,519.73 317.41,519.67 317.75,519.61 318.08,519.55 318.41,519.48 318.74,519.41 319.08,519.34 319.41,519.26 319.74,519.18 320.08,519.1 320.41,519.01 320.74,518.91 321.08,518.81 321.41,518.71 321.74,518.6 322.08,518.49 322.41,518.37 322.74,518.25 323.07,518.12 323.41,517.99 323.74,517.85 324.07,517.71 324.41,517.56 324.74,517.41 325.07,517.25 325.41,517.08 325.74,516.91 326.07,516.74 326.4,516.56 326.74,516.37 327.07,516.17 327.4,515.97 327.74,515.77 328.07,515.56 328.4,515.34 328.74,515.12 329.07,514.89 329.4,514.66 329.74,514.42 330.07,514.17 330.4,513.92 330.73,513.67 331.07,513.4 331.4,513.14 331.73,512.87 332.07,512.59 332.4,512.31 332.73,512.02 333.07,511.73 333.4,511.43 333.73,511.13 334.06,510.83 334.4,510.52 334.73,510.2 335.06,509.89 335.4,509.57 335.73,509.24 336.06,508.92 336.4,508.59 336.73,508.25 337.06,507.92 337.4,507.58 337.73,507.24 338.06,506.9 338.39,506.56 338.73,506.21 339.06,505.87 339.39,505.52 339.73,505.17 340.06,504.83 340.39,504.48 340.73,504.13 341.06,503.79 341.39,503.44 341.72,503.09 342.06,502.75 342.39,502.41 342.72,502.07 343.06,501.73 343.39,501.39 343.72,501.06 344.06,500.73 344.39,500.4 344.72,500.08 345.06,499.75 345.39,499.44 345.72,499.12 346.05,498.81 346.39,498.51 346.72,498.21 347.05,497.91 347.39,497.62 347.72,497.34 348.05,497.06 348.39,496.79 348.72,496.52 349.05,496.26 349.38,496 349.72,495.75 350.05,495.51 350.38,495.27 350.72,495.04 351.05,494.82 351.38,494.61 351.72,494.4 352.05,494.2 352.38,494 352.72,493.82 353.05,493.64 353.38,493.47 353.71,493.31 354.05,493.15 354.38,493.01 354.71,492.87 355.05,492.74 355.38,492.61 355.71,492.5 356.05,492.39 356.38,492.29 356.71,492.2 357.04,492.12 357.38,492.05 357.71,491.98 358.04,491.92 358.38,491.87 358.71,491.83 359.04,491.8 359.38,491.77 359.71,491.75 360.04,491.74 360.38,491.74 360.71,491.74 361.04,491.75 361.37,491.77 361.71,491.79 362.04,491.82 362.37,491.85 362.71,491.9 363.04,491.94 363.37,492 363.71,492.06 364.04,492.12 364.37,492.19 364.7,492.27 365.04,492.35 365.37,492.44 365.7,492.53 366.04,492.63 366.37,492.73 366.7,492.84 367.04,492.95 367.37,493.07 367.7,493.19 368.04,493.32 368.37,493.45 368.7,493.58 369.03,493.72 369.37,493.86 369.7,494.01 370.03,494.16 370.37,494.31 370.7,494.47 371.03,494.63 371.37,494.8 371.7,494.96 372.03,495.13 372.36,495.31 372.7,495.48 373.03,495.66 373.36,495.85 373.7,496.03 374.03,496.22 374.36,496.4 374.7,496.59 375.03,496.79 375.36,496.98 375.7,497.18 376.03,497.38 376.36,497.58 376.69,497.78 377.03,497.98 377.36,498.19 377.69,498.39 378.03,498.6 378.36,498.8 378.69,499.01 379.03,499.22 379.36,499.43 379.69,499.64 380.02,499.85 380.36,500.06 380.69,500.28 381.02,500.49 381.36,500.7 381.69,500.91 382.02,501.12 382.36,501.34 382.69,501.55 383.02,501.76 383.36,501.97 383.69,502.19 384.02,502.4 384.35,502.61 384.69,502.82 385.02,503.03 385.35,503.24 385.69,503.45 386.02,503.65 386.35,503.86 386.69,504.07 387.02,504.27 387.35,504.48 387.68,504.68 388.02,504.88 388.35,505.09 388.68,505.29 389.02,505.48 389.35,505.68 389.68,505.88 390.02,506.08 390.35,506.27 390.68,506.46 391.02,506.65 391.35,506.84 391.68,507.03 392.01,507.22 392.35,507.41 392.68,507.59 393.01,507.77 393.35,507.95 393.68,508.13 394.01,508.31 394.35,508.49 394.68,508.66 395.01,508.84 395.34,509.01 395.68,509.18 396.01,509.35 396.34,509.52 396.68,509.68 397.01,509.84 397.34,510.01 397.68,510.17 398.01,510.33 398.34,510.48 398.68,510.64 399.01,510.79 399.34,510.94 399.67,511.09 400.01,511.24 400.34,511.39 400.67,511.53 401.01,511.67 401.34,511.82 401.67,511.96 402.01,512.09 402.34,512.23 402.67,512.36 403.01,512.5 403.34,512.63 403.67,512.76 404,512.89 404.34,513.01 404.67,513.14 405,513.26 405.34,513.38 405.67,513.5 406,513.62 406.34,513.73 406.67,513.85 407,513.96 407.33,514.07 407.67,514.18 408,514.29 408.33,514.4 408.67,514.5 409,514.61 409.33,514.71 409.67,514.81 410,514.91 410.33,515.01 410.67,515.1 411,515.2 411.33,515.29 411.66,515.39 412,515.48 412.33,515.57 412.66,515.65 413,515.74 413.33,515.83 413.66,515.91 414,515.99 414.33,516.07 414.66,516.15 414.99,516.23 415.33,516.31 415.66,516.39 415.99,516.46 416.33,516.53 416.66,516.61 416.99,516.68 417.33,516.75 417.66,516.82 417.99,516.89 418.33,516.95 418.66,517.02 418.99,517.08 419.32,517.15 419.66,517.21 419.99,517.27 420.32,517.33 420.66,517.39 420.99,517.45 421.32,517.51 421.66,517.56 421.99,517.62 422.32,517.67 422.65,517.73 422.99,517.78 423.32,517.83 423.65,517.88 423.99,517.93 424.32,517.98 424.65,518.03 424.99,518.07 425.32,518.12 425.65,518.17 425.99,518.21 426.32,518.26 426.65,518.3 426.98,518.34 427.32,518.38 427.65,518.42 427.98,518.46 428.32,518.5 428.65,518.54 428.98,518.58 429.32,518.62 429.65,518.65 429.98,518.69 430.31,518.72 430.65,518.76 430.98,518.79 431.31,518.83 431.65,518.86 431.98,518.89 432.31,518.92 432.65,518.95 432.98,518.98 433.31,519.01 433.65,519.04 433.98,519.07 434.31,519.1 434.64,519.13 434.98,519.15 435.31,519.18 435.64,519.21 435.98,519.23 436.31,519.26 436.64,519.28 436.98,519.31 437.31,519.33 437.64,519.35 437.97,519.38 438.31,519.4 438.64,519.42 438.97,519.44 439.31,519.46 439.64,519.48 439.97,519.5 440.31,519.52 440.64,519.54 440.97,519.56 441.31,519.58 441.64,519.6 441.97,519.62 442.3,519.64 442.64,519.65 442.97,519.67 443.3,519.69 443.64,519.7 443.97,519.72 444.3,519.74 444.64,519.75 444.97,519.77 445.3,519.78 445.63,519.79 445.97,519.81 446.3,519.82 446.63,519.84 446.97,519.85 447.3,519.86" fill="none" stroke="#ff2a2a" stroke-width="1.3" stroke-linejoin="round" clip-path="url(#c5)"/>
<polyline points="254.8,520.5 255.13,520.5 255.47,520.5 255.8,520.5 256.13,520.5 256.47,520.5 256.8,520.5 257.13,520.5 257.46,520.5 257.8,520.5 258.13,520.5 258.46,520.5 258.8,520.5 259.13,520.5 259.46,520.5 259.8,520.5 260.13,520.5 260.46,520.5 260.79,520.5 261.13,520.5 261.46,520.5 261.79,520.5 262.13,520.5 262.46,520.5 262.79,520.5 263.13,520.5 263.46,520.5 263.79,520.5 264.13,520.5 264.46,520.5 264.79,520.5 265.12,520.5 265.46,520.5 265.79,520.5 266.12,520.5 266.46,520.5 266.79,520.5 267.12,520.5 267.46,520.5 267.79,520.5 268.12,520.5 268.45,520.5 268.79,520.5 269.12,520.5 269.45,520.5 269.79,520.5 270.12,520.5 270.45,520.5 270.79,520.5 271.12,520.5 271.45,520.5 271.79,520.5 272.12,520.5 272.45,520.5 272.78,520.5 273.12,520.5 273.45,520.5 273.78,520.5 274.12,520.5 274.45,520.5 274.78,520.5 275.12,520.5 275.45,520.5 275.78,520.5 276.11,520.5 276.45,520.5 276.78,520.5 277.11,520.5 277.45,520.5 277.78,520.5 278.11,520.5 278.45,520.5 278.78,520.5 279.11,520.5 279.45,520.5 279.78,520.5 280.11,520.5 280.44,520.5 280.78,520.5 281.11,520.5 281.44,520.5 281.78,520.5 282.11,520.5 282.44,520.5 282.78,520.5 283.11,520.5 283.44,520.5 283.77,520.5 284.11,520.5 284.44,520.5 284.77,520.5 285.11,520.5 285.44,520.5 285.77,520.5 286.11,520.5 286.44,520.5 286.77,520.5 287.11,520.5 287.44,520.5 287.77,520.5 288.1,520.5 288.44,520.5 288.77,520.5 289.1,520.5 289.44,520.5 289.77,520.5 290.1,520.5 290.44,520.5 290.77,520.5 291.1,520.5 291.43,520.49 291.77,520.49 292.1,520.49 292.43,520.49 292.77,520.49 293.1,520.49 293.43,520.49 293.77,520.49 294.1,520.48 294.43,520.48 294.77,520.48 295.1,520.47 295.43,520.47 295.76,520.47 296.1,520.46 296.43,520.46 296.76,520.45 297.1,520.45 297.43,520.44 297.76,520.44 298.1,520.43 298.43,520.42 298.76,520.41 299.09,520.4 299.43,520.39 299.76,520.38 300.09,520.37 300.43,520.35 300.76,520.34 301.09,520.32 301.43,520.3 301.76,520.28 302.09,520.26 302.43,520.24 302.76,520.22 303.09,520.19 303.42,520.16 303.76,520.13 304.09,520.1 304.42,520.07 304.76,520.03 305.09,519.99 305.42,519.95 305.76,519.91 306.09,519.86 306.42,519.81 306.76,519.76 307.09,519.71 307.42,519.65 307.75,519.59 308.09,519.52 308.42,519.46 308.75,519.39 309.09,519.31 309.42,519.24 309.75,519.16 310.09,519.07 310.42,518.98 310.75,518.89 311.08,518.8 311.42,518.7 311.75,518.6 312.08,518.49 312.42,518.38 312.75,518.27 313.08,518.15 313.42,518.03 313.75,517.9 314.08,517.77 314.42,517.64 314.75,517.51 315.08,517.37 315.41,517.22 315.75,517.08 316.08,516.93 316.41,516.77 316.75,516.62 317.08,516.46 317.41,516.3 317.75,516.13 318.08,515.97 318.41,515.8 318.74,515.63 319.08,515.45 319.41,515.27 319.74,515.1 320.08,514.92 320.41,514.74 320.74,514.55 321.08,514.37 321.41,514.19 321.74,514 322.08,513.81 322.41,513.63 322.74,513.44 323.07,513.26 323.41,513.07 323.74,512.89 324.07,512.7 324.41,512.52 324.74,512.34 325.07,512.16 325.41,511.98 325.74,511.8 326.07,511.62 326.4,511.45 326.74,511.28 327.07,511.11 327.4,510.95 327.74,510.78 328.07,510.62 328.4,510.47 328.74,510.32 329.07,510.17 329.4,510.02 329.74,509.88 330.07,509.75 330.4,509.61 330.73,509.48 331.07,509.36 331.4,509.24 331.73,509.13 332.07,509.02 332.4,508.92 332.73,508.82 333.07,508.72 333.4,508.63 333.73,508.55 334.06,508.47 334.4,508.4 334.73,508.33 335.06,508.27 335.4,508.21 335.73,508.16 336.06,508.12 336.4,508.08 336.73,508.04 337.06,508.02 337.4,507.99 337.73,507.97 338.06,507.96 338.39,507.95 338.73,507.95 339.06,507.95 339.39,507.96 339.73,507.98 340.06,507.99 340.39,508.02 340.73,508.05 341.06,508.08 341.39,508.12 341.72,508.16 342.06,508.2 342.39,508.26 342.72,508.31 343.06,508.37 343.39,508.43 343.72,508.5 344.06,508.57 344.39,508.65 344.72,508.73 345.06,508.81 345.39,508.89 345.72,508.98 346.05,509.07 346.39,509.17 346.72,509.27 347.05,509.37 347.39,509.47 347.72,509.58 348.05,509.68 348.39,509.79 348.72,509.9 349.05,510.02 349.38,510.13 349.72,510.25 350.05,510.37 350.38,510.49 350.72,510.61 351.05,510.74 351.38,510.86 351.72,510.99 352.05,511.11 352.38,511.24 352.72,511.37 353.05,511.49 353.38,511.62 353.71,511.75 354.05,511.88 354.38,512.01 354.71,512.14 355.05,512.27 355.38,512.4 355.71,512.53 356.05,512.66 356.38,512.79 356.71,512.92 357.04,513.04 357.38,513.17 357.71,513.3 358.04,513.43 358.38,513.55 358.71,513.68 359.04,513.8 359.38,513.92 359.71,514.05 360.04,514.17 360.38,514.29 360.71,514.41 361.04,514.52 361.37,514.64 361.71,514.76 362.04,514.87 362.37,514.99 362.71,515.1 363.04,515.21 363.37,515.32 363.71,515.43 364.04,515.53 364.37,515.64 364.7,515.74 365.04,515.85 365.37,515.95 365.7,516.05 366.04,516.14 366.37,516.24 366.7,516.34 367.04,516.43 367.37,516.52 367.7,516.61 368.04,516.7 368.37,516.79 368.7,516.88 369.03,516.96 369.37,517.05 369.7,517.13 370.03,517.21 370.37,517.29 370.7,517.36 371.03,517.44 371.37,517.52 371.7,517.59 372.03,517.66 372.36,517.73 372.7,517.8 373.03,517.87 373.36,517.93 373.7,518 374.03,518.06 374.36,518.12 374.7,518.19 375.03,518.25 375.36,518.3 375.7,518.36 376.03,518.42 376.36,518.47 376.69,518.52 377.03,518.58 377.36,518.63 377.69,518.68 378.03,518.73 378.36,518.77 378.69,518.82 379.03,518.87 379.36,518.91 379.69,518.95 380.02,519 380.36,519.04 380.69,519.08 381.02,519.12 381.36,519.16 381.69,519.19 382.02,519.23 382.36,519.27 382.69,519.3 383.02,519.33 383.36,519.37 383.69,519.4 384.02,519.43 384.35,519.46 384.69,519.49 385.02,519.52 385.35,519.55 385.69,519.58 386.02,519.6 386.35,519.63 386.69,519.65 387.02,519.68 387.35,519.7 387.68,519.73 388.02,519.75 388.35,519.77 388.68,519.79 389.02,519.81 389.35,519.83 389.68,519.85 390.02,519.87 390.35,519.89 390.68,519.91 391.02,519.93 391.35,519.94 391.68,519.96 392.01,519.98 392.35,519.99 392.68,520.01 393.01,520.02 393.35,520.04 393.68,520.05 394.01,520.07 394.35,520.08 394.68,520.09 395.01,520.1 395.34,520.12 395.68,520.13 396.01,520.14 396.34,520.15 396.68,520.16 397.01,520.17 397.34,520.18 397.68,520.19 398.01,520.2 398.34,520.21 398.68,520.22 399.01,520.23 399.34,520.24 399.67,520.25 400.01,520.25 400.34,520.26 400.67,520.27 401.01,520.28 401.34,520.28 401.67,520.29 402.01,520.3 402.34,520.3 402.67,520.31 403.01,520.32 403.34,520.32 403.67,520.33 404,520.33 404.34,520.34 404.67,520.34 405,520.35 405.34,520.35 405.67,520.36 406,520.36 406.34,520.37 406.67,520.37 407,520.37 407.33,520.38 407.67,520.38 408,520.39 408.33,520.39 408.67,520.39 409,520.4 409.33,520.4 409.67,520.4 410,520.41 410.33,520.41 410.67,520.41 411,520.42 411.33,520.42 411.66,520.42 412,520.42 412.33,520.43 412.66,520.43 413,520.43 413.33,520.43 413.66,520.43 414,520.44 414.33,520.44 414.66,520.44 414.99,520.44 415.33,520.44 415.66,520.45 415.99,520.45 416.33,520.45 416.66,520.45 416.99,520.45 417.33,520.45 417.66,520.46 417.99,520.46 418.33,520.46 418.66,520.46 418.99,520.46 419.32,520.46 419.66,520.46 419.99,520.47 420.32,520.47 420.66,520.47 420.99,520.47 421.32,520.47 421.66,520.47 421.99,520.47 422.32,520.47 422.65,520.47 422.99,520.47 423.32,520.48 423.65,520.48 423.99,520.48 424.32,520.48 424.65,520.48 424.99,520.48 425.32,520.48 425.65,520.48 425.99,520.48 426.32,520.48 426.65,520.48 426.98,520.48 427.32,520.48 427.65,520.48 427.98,520.48 428.32,520.48 428.65,520.49 428.98,520.49 429.32,520.49 429.65,520.49 429.98,520.49 430.31,520.49 430.65,520.49 430.98,520.49 431.31,520.49 431.65,520.49 431.98,520.49 432.31,520.49 432.65,520.49 432.98,520.49 433.31,520.49 433.65,520.49 433.98,520.49 434.31,520.49 434.64,520.49 434.98,520.49 435.31,520.49 435.64,520.49 435.98,520.49 436.31,520.49 436.64,520.49 436.98,520.49 437.31,520.49 437.64,520.49 437.97,520.49 438.31,520.49 438.64,520.49 438.97,520.49 439.31,520.49 439.64,520.5 439.97,520.5 440.31,520.5 440.64,520.5 440.97,520.5 441.31,520.5 441.64,520.5 441.97,520.5 442.3,520.5 442.64,520.5 442.97,520.5 443.3,520.5 443.64,520.5 443.97,520.5 444.3,520.5 444.64,520.5 444.97,520.5 445.3,520.5 445.63,520.5 445.97,520.5 446.3,520.5 446.63,520.5 446.97,520.5 447.3,520.5" fill="none" stroke="#1a66e0" stroke-width="1.3" stroke-linejoin="round" clip-path="url(#c5)"/>
<text x="326.4" y="377.9" font-size="7.3" fill="#222" text-anchor="middle">496.9 (0.70)</text>
<text x="326.78" y="387.8" font-size="8" fill="#222" stroke="#222" stroke-width="0.1">π</text>
<text x="330.82" y="390.04" font-size="4.96" fill="#222" stroke="#222" stroke-width="0.1">4</text>
<line x1="333.78" y1="385.8" x2="338.42" y2="385.8" stroke="#222" stroke-width="0.96"/>
<polygon points="340.98,385.8 338.42,387.32 338.42,384.28" fill="#222"/>
<text x="341.3" y="387.8" font-size="8" fill="#222" stroke="#222" stroke-width="0.1">π</text>
<text x="345.34" y="390.04" font-size="4.96" fill="#222" stroke="#222" stroke-width="0.1">3</text>
<text x="353.48" y="479.5" font-size="8" fill="#ff2b2b" stroke="#ff2b2b" stroke-width="0.1">π</text>
<text x="357.52" y="481.74" font-size="4.96" fill="#ff2b2b" stroke="#ff2b2b" stroke-width="0.1">4</text>
<line x1="360.48" y1="477.5" x2="365.12" y2="477.5" stroke="#ff2b2b" stroke-width="0.96"/>
<polygon points="367.68,477.5 365.12,479.02 365.12,475.98" fill="#ff2b2b"/>
<text x="368" y="479.5" font-size="8" fill="#ff2b2b" stroke="#ff2b2b" stroke-width="0.1">π</text>
<text x="372.04" y="481.74" font-size="4.96" fill="#ff2b2b" stroke="#ff2b2b" stroke-width="0.1">3</text>
<text x="366.9" y="487.7" font-size="7.3" fill="#ff2b2b" text-anchor="middle">626.8 (0.05)</text>
<text x="341.1" y="505" font-size="7.3" fill="#2b2bff" text-anchor="middle">563.7 (0.02)</text>
<text x="330.38" y="517.7" font-size="8" fill="#2b2bff" stroke="#2b2bff" stroke-width="0.1">π</text>
<text x="334.42" y="519.94" font-size="4.96" fill="#2b2bff" stroke="#2b2bff" stroke-width="0.1">4</text>
<line x1="337.38" y1="515.7" x2="342.02" y2="515.7" stroke="#2b2bff" stroke-width="0.96"/>
<polygon points="344.58,515.7 342.02,517.22 342.02,514.18" fill="#2b2bff"/>
<text x="344.9" y="517.7" font-size="8" fill="#2b2bff" stroke="#2b2bff" stroke-width="0.1">π</text>
<text x="348.94" y="519.94" font-size="4.96" fill="#2b2bff" stroke="#2b2bff" stroke-width="0.1">3</text>
<line x1="398.2" y1="372.5" x2="414.2" y2="372.5" stroke="#000" stroke-width="1.3"/>
<text x="416.7" y="375.32" font-size="7.3" fill="#333">H</text>
<text x="421.97" y="377.14" font-size="4.67" fill="#333" font-weight="bold">2</text>
<text x="424.31" y="375.32" font-size="7.3" fill="#333">FLH</text>
<text x="438.1" y="377.14" font-size="4.67" fill="#333" font-weight="bold">red</text>
<text x="438.1" y="372.03" font-size="4.67" fill="#333" font-weight="bold">+</text>
<line x1="398.2" y1="384.5" x2="414.2" y2="384.5" stroke="#ff2a2a" stroke-width="1.3"/>
<text x="416.7" y="386.92" font-size="7.3" fill="#333">H</text>
<text x="421.97" y="388.75" font-size="4.67" fill="#333" font-weight="bold">2</text>
<text x="424.31" y="386.92" font-size="7.3" fill="#333">FL</text>
<text x="432.83" y="388.75" font-size="4.67" fill="#333" font-weight="bold">red</text>
<line x1="398.2" y1="395.5" x2="414.2" y2="395.5" stroke="#1a66e0" stroke-width="1.3"/>
<text x="416.7" y="398.02" font-size="7.3" fill="#333">HFL</text>
<text x="430.49" y="399.85" font-size="4.67" fill="#333" font-weight="bold">red</text>
<text x="430.49" y="394.74" font-size="4.67" fill="#333" font-weight="bold">-</text>
<text x="351" y="545" font-size="8.9" fill="#000" font-weight="bold" text-anchor="middle">Wavelength/nm</text>
<text x="232.3" y="438.7" font-size="8.9" fill="#000" font-weight="bold" text-anchor="middle" transform="rotate(-90 232.3 438.7)">Fluorescence</text>
<text x="228.8" y="374.8" font-size="8.5" fill="#000" font-weight="bold">F</text>
</svg>
</body></html>
